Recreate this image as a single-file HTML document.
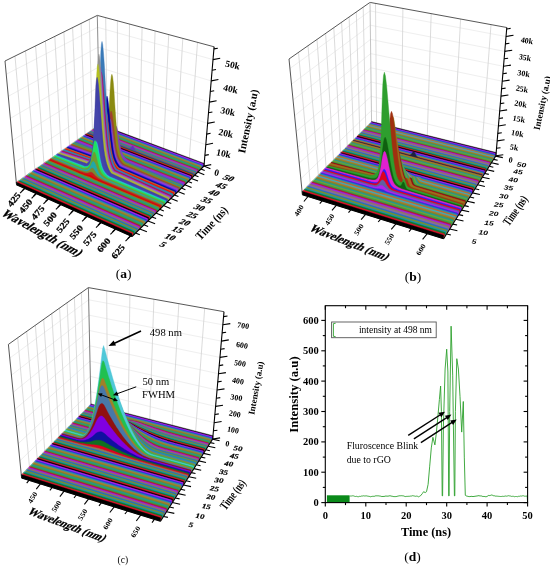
<!DOCTYPE html>
<html><head><meta charset="utf-8"><title>Figure</title>
<style>html,body{margin:0;padding:0;background:#fff}svg{display:block}text{font-family:"Liberation Serif",serif}</style>
</head><body>
<svg width="550" height="570" viewBox="0 0 550 570">
<rect width="550" height="570" fill="#fff"/>
<polyline points="14.4,162.6 99.3,106.8 205.8,144.7" fill="none" stroke="#efefef" stroke-width="1"/>
<polyline points="12.4,140.5 98.8,86.9 207.6,123.4" fill="none" stroke="#efefef" stroke-width="1"/>
<polyline points="10.3,118.4 98.4,67.1 209.4,102.1" fill="none" stroke="#efefef" stroke-width="1"/>
<polyline points="8.3,96.3 98.0,47.2 211.2,80.9" fill="none" stroke="#efefef" stroke-width="1"/>
<polyline points="6.2,74.3 97.6,27.3 213.0,59.6" fill="none" stroke="#efefef" stroke-width="1"/>
<line x1="25.5" y1="178.4" x2="15.0" y2="56.1" stroke="#d2d2d2" stroke-width="0.8" />
<line x1="35.0" y1="171.8" x2="25.5" y2="50.9" stroke="#d2d2d2" stroke-width="0.8" />
<line x1="44.1" y1="165.5" x2="35.6" y2="45.9" stroke="#d2d2d2" stroke-width="0.8" />
<line x1="52.9" y1="159.3" x2="45.4" y2="41.0" stroke="#d2d2d2" stroke-width="0.8" />
<line x1="61.4" y1="153.4" x2="54.8" y2="36.4" stroke="#d2d2d2" stroke-width="0.8" />
<line x1="69.6" y1="147.7" x2="63.9" y2="31.9" stroke="#d2d2d2" stroke-width="0.8" />
<line x1="77.5" y1="142.2" x2="72.6" y2="27.6" stroke="#d2d2d2" stroke-width="0.8" />
<line x1="85.1" y1="136.9" x2="81.1" y2="23.4" stroke="#d2d2d2" stroke-width="0.8" />
<line x1="92.5" y1="131.7" x2="89.3" y2="19.4" stroke="#d2d2d2" stroke-width="0.8" />
<line x1="107.2" y1="129.5" x2="105.7" y2="17.7" stroke="#d2d2d2" stroke-width="0.8" />
<line x1="117.6" y1="133.5" x2="117.4" y2="20.8" stroke="#d2d2d2" stroke-width="0.8" />
<line x1="128.4" y1="137.5" x2="129.5" y2="24.1" stroke="#d2d2d2" stroke-width="0.8" />
<line x1="139.7" y1="141.8" x2="142.1" y2="27.4" stroke="#d2d2d2" stroke-width="0.8" />
<line x1="151.3" y1="146.2" x2="155.1" y2="30.9" stroke="#d2d2d2" stroke-width="0.8" />
<line x1="163.5" y1="150.7" x2="168.7" y2="34.6" stroke="#d2d2d2" stroke-width="0.8" />
<line x1="176.1" y1="155.5" x2="182.8" y2="38.4" stroke="#d2d2d2" stroke-width="0.8" />
<line x1="189.2" y1="160.4" x2="197.5" y2="42.3" stroke="#d2d2d2" stroke-width="0.8" />
<polyline points="16.5,184.7 5.0,61.0 97.3,15.4 214.1,46.8" fill="none" stroke="#444" stroke-width="0.9"/>
<line x1="99.7" y1="126.7" x2="97.3" y2="15.4" stroke="#808080" stroke-width="0.9" />
<polygon points="99.7,126.7 99.6,124.3 204.2,163.4 204.0,166.0" fill="#000000" stroke="#000000" stroke-width="0.4" stroke-linejoin="round"/>
<polygon points="98.8,127.3 98.8,124.9 203.5,164.1 203.2,166.7" fill="#b020f0" stroke="#b020f0" stroke-width="0.4" stroke-linejoin="round"/>
<polygon points="98.0,127.9 97.9,125.5 202.7,164.9 202.5,167.5" fill="#3030d8" stroke="#3030d8" stroke-width="0.4" stroke-linejoin="round"/>
<polygon points="97.1,128.5 97.0,126.1 201.9,165.6 201.7,168.2" fill="#2898a0" stroke="#2898a0" stroke-width="0.4" stroke-linejoin="round"/>
<polygon points="96.2,129.1 96.1,126.7 201.2,166.3 201.0,169.0" fill="#b07830" stroke="#b07830" stroke-width="0.4" stroke-linejoin="round"/>
<polygon points="95.3,129.8 95.2,127.3 200.4,167.1 200.2,169.7" fill="#788828" stroke="#788828" stroke-width="0.4" stroke-linejoin="round"/>
<polygon points="94.4,130.4 94.4,127.9 199.6,167.8 199.4,170.5" fill="#1c9898" stroke="#1c9898" stroke-width="0.4" stroke-linejoin="round"/>
<polygon points="93.5,131.0 93.5,128.5 198.9,168.6 198.7,171.2" fill="#38a040" stroke="#38a040" stroke-width="0.4" stroke-linejoin="round"/>
<polygon points="92.6,131.6 92.6,129.2 198.1,169.4 197.9,172.0" fill="#b01838" stroke="#b01838" stroke-width="0.4" stroke-linejoin="round"/>
<polygon points="91.7,132.3 91.7,129.8 197.3,170.1 197.1,172.8" fill="#a020e0" stroke="#a020e0" stroke-width="0.4" stroke-linejoin="round"/>
<polygon points="90.8,132.9 90.8,130.4 196.5,170.9 196.3,173.5" fill="#8f7c58" stroke="#8f7c58" stroke-width="0.4" stroke-linejoin="round"/>
<polygon points="89.9,133.5 89.8,131.0 195.7,171.6 195.5,174.3" fill="#2070c0" stroke="#2070c0" stroke-width="0.4" stroke-linejoin="round"/>
<polygon points="89.0,134.2 88.9,131.7 194.9,172.4 194.7,175.1" fill="#7f9026" stroke="#7f9026" stroke-width="0.4" stroke-linejoin="round"/>
<polygon points="88.1,134.8 88.0,132.3 126.5,147.1 126.8,147.3 127.1,147.4 127.5,147.5 127.8,147.6 128.1,147.7 128.4,147.8 128.7,148.0 129.0,148.1 129.3,148.1 129.6,148.2 129.9,148.2 130.2,148.1 130.5,147.9 130.9,147.7 131.2,147.3 131.5,146.9 131.8,146.5 132.1,146.2 132.5,146.0 132.8,146.0 133.1,146.3 133.4,146.7 133.7,147.3 134.0,147.9 134.3,148.5 134.6,149.1 134.9,149.6 135.2,150.0 135.5,150.3 135.9,150.6 136.2,150.8 136.5,150.9 136.8,151.1 137.1,151.2 137.4,151.3 137.8,151.5 138.1,151.6 138.4,151.7 138.7,151.8 139.0,152.0 194.2,173.2 194.0,175.8" fill="#6030c0" stroke="#6030c0" stroke-width="0.4" stroke-linejoin="round"/>
<polygon points="87.2,135.4 87.1,132.9 193.4,174.0 193.2,176.6" fill="#0a7a2a" stroke="#0a7a2a" stroke-width="0.4" stroke-linejoin="round"/>
<polygon points="86.3,136.1 86.2,133.6 192.6,174.7 192.4,177.4" fill="#e8102a" stroke="#e8102a" stroke-width="0.4" stroke-linejoin="round"/>
<polygon points="85.3,136.7 85.2,134.2 191.7,175.5 191.6,178.2" fill="#000000" stroke="#000000" stroke-width="0.4" stroke-linejoin="round"/>
<polygon points="84.4,137.4 84.3,134.9 190.9,176.3 190.8,179.0" fill="#b020f0" stroke="#b020f0" stroke-width="0.4" stroke-linejoin="round"/>
<polygon points="83.5,138.0 83.4,135.5 190.1,177.1 189.9,179.8" fill="#3030d8" stroke="#3030d8" stroke-width="0.4" stroke-linejoin="round"/>
<polygon points="82.5,138.7 82.4,136.2 189.3,177.9 189.1,180.6" fill="#2898a0" stroke="#2898a0" stroke-width="0.4" stroke-linejoin="round"/>
<polygon points="81.6,139.3 81.5,136.8 188.5,178.7 188.3,181.4" fill="#b07830" stroke="#b07830" stroke-width="0.4" stroke-linejoin="round"/>
<polygon points="80.6,140.0 80.5,137.5 187.7,179.5 187.5,182.2" fill="#788828" stroke="#788828" stroke-width="0.4" stroke-linejoin="round"/>
<polygon points="79.7,140.7 79.6,138.1 186.8,180.3 186.7,183.0" fill="#1c9898" stroke="#1c9898" stroke-width="0.4" stroke-linejoin="round"/>
<polygon points="78.7,141.3 78.6,138.8 107.2,150.1 107.8,150.3 108.4,150.5 109.0,150.7 109.6,150.9 110.1,151.1 110.7,151.3 111.3,151.6 111.9,151.8 112.5,152.0 113.0,152.1 113.6,152.3 114.2,152.5 114.8,152.6 115.4,152.7 116.0,152.8 116.6,152.9 117.2,153.0 117.8,153.2 118.3,153.3 118.9,153.5 119.5,153.8 120.1,154.1 120.7,154.4 121.3,154.8 121.9,155.2 122.5,155.6 123.1,155.9 123.8,156.2 124.4,156.5 125.0,156.8 125.6,157.1 126.2,157.4 126.8,157.7 127.4,157.9 128.0,158.2 128.6,158.4 129.2,158.7 129.9,158.9 130.5,159.2 131.1,159.5 186.0,181.1 185.8,183.8" fill="#38a040" stroke="#38a040" stroke-width="0.4" stroke-linejoin="round"/>
<polygon points="77.8,142.0 77.7,139.5 106.3,150.7 106.9,150.9 107.5,151.1 108.0,151.3 108.6,151.5 109.2,151.7 109.8,151.9 110.4,152.0 110.9,152.2 111.5,152.3 112.1,152.4 112.7,152.5 113.3,152.5 113.9,152.5 114.5,152.4 115.1,152.2 115.6,152.0 116.2,151.9 116.8,151.7 117.4,151.7 118.0,151.9 118.6,152.2 119.2,152.7 119.8,153.3 120.4,153.9 121.0,154.6 121.6,155.2 122.2,155.8 122.8,156.3 123.4,156.7 124.1,157.1 124.7,157.5 125.3,157.8 125.9,158.1 126.5,158.5 127.1,158.7 127.7,159.0 128.3,159.3 129.0,159.6 129.6,159.9 130.2,160.1 185.2,181.9 185.0,184.6" fill="#b01838" stroke="#b01838" stroke-width="0.4" stroke-linejoin="round"/>
<polygon points="76.8,142.7 76.7,140.1 105.4,151.3 106.0,151.4 106.5,151.6 107.1,151.7 107.7,151.9 108.3,152.0 108.9,152.1 109.4,152.1 110.0,152.2 110.6,152.1 111.2,152.0 111.8,151.8 112.4,151.5 112.9,151.0 113.5,150.4 114.1,149.6 114.7,148.7 115.3,147.8 115.9,147.1 116.5,146.8 117.1,146.8 117.7,147.2 118.3,148.1 118.9,149.2 119.5,150.6 120.1,151.9 120.7,153.2 121.3,154.3 121.9,155.3 122.5,156.1 123.2,156.8 123.8,157.3 124.4,157.8 125.0,158.3 125.6,158.7 126.2,159.1 126.8,159.4 127.4,159.8 128.1,160.1 128.7,160.4 129.3,160.7 184.4,182.7 184.2,185.4" fill="#a020e0" stroke="#a020e0" stroke-width="0.4" stroke-linejoin="round"/>
<polygon points="75.8,143.3 75.7,140.8 104.4,151.5 105.0,151.5 105.6,151.5 106.2,151.5 106.7,151.4 107.3,151.2 107.9,150.9 108.5,150.6 109.1,150.2 109.6,149.6 110.2,148.7 110.8,147.6 111.4,146.0 112.0,143.8 112.5,141.1 113.1,138.0 113.7,134.5 114.3,131.2 114.9,128.3 115.5,126.5 116.1,126.0 116.7,127.0 117.4,129.3 118.0,132.5 118.6,136.4 119.2,140.3 119.8,143.9 120.4,147.1 121.0,149.7 121.6,151.8 122.3,153.4 122.9,154.7 123.5,155.8 124.1,156.7 124.7,157.6 125.3,158.3 125.9,158.9 126.5,159.5 127.2,160.1 127.8,160.5 128.4,161.0 183.5,183.6 183.3,186.2" fill="#8040c0" stroke="#8040c0" stroke-width="0.4" stroke-linejoin="round"/>
<polygon points="74.9,144.0 74.7,141.5 103.5,152.7 104.1,152.8 104.7,152.9 105.2,153.1 105.8,153.2 106.4,153.2 107.0,153.3 107.6,153.3 108.1,153.3 108.7,153.2 109.3,153.0 109.9,152.7 110.5,152.3 111.1,151.6 111.7,150.7 112.2,149.7 112.8,148.5 113.4,147.4 114.0,146.4 114.6,145.9 115.2,145.9 115.8,146.4 116.4,147.4 117.0,148.8 117.7,150.4 118.3,152.0 118.9,153.6 119.5,154.9 120.1,156.1 120.7,157.0 121.3,157.8 121.9,158.4 122.5,159.0 123.2,159.5 123.8,160.0 124.4,160.4 125.0,160.8 125.6,161.2 126.2,161.5 126.9,161.8 127.5,162.2 182.7,184.4 182.5,187.0" fill="#2070c0" stroke="#2070c0" stroke-width="0.4" stroke-linejoin="round"/>
<polygon points="73.9,144.7 73.8,142.2 102.6,153.2 103.1,153.4 103.7,153.4 104.3,153.5 104.9,153.5 105.5,153.5 106.0,153.5 106.6,153.4 107.2,153.3 107.8,153.0 108.4,152.7 108.9,152.1 109.5,151.3 110.1,150.2 110.7,148.7 111.3,147.0 111.9,145.1 112.5,143.3 113.1,141.8 113.6,140.9 114.3,140.7 114.9,141.4 115.5,142.8 116.1,144.7 116.7,147.0 117.3,149.4 118.0,151.6 118.6,153.5 119.2,155.1 119.8,156.4 120.4,157.4 121.0,158.3 121.6,159.0 122.2,159.6 122.9,160.2 123.5,160.7 124.1,161.2 124.7,161.6 125.3,162.0 125.9,162.4 126.6,162.8 181.8,185.2 181.7,187.9" fill="#7f9026" stroke="#7f9026" stroke-width="0.4" stroke-linejoin="round"/>
<polygon points="72.9,145.4 72.8,142.8 101.6,153.6 102.2,153.6 102.8,153.5 103.3,153.4 103.9,153.3 104.5,153.0 105.1,152.7 105.6,152.3 106.2,151.8 106.8,151.1 107.4,150.1 108.0,148.7 108.5,146.8 109.1,144.4 109.7,141.2 110.2,137.6 110.8,133.6 111.4,129.8 112.0,126.5 112.6,124.4 113.2,123.8 113.8,124.8 114.5,127.4 115.1,131.1 115.7,135.5 116.4,140.0 117.0,144.1 117.6,147.6 118.2,150.6 118.9,153.0 119.5,154.8 120.1,156.3 120.7,157.5 121.3,158.5 121.9,159.4 122.5,160.2 123.2,160.9 123.8,161.5 124.4,162.1 125.0,162.7 125.7,163.1 181.0,186.0 180.8,188.7" fill="#1890a8" stroke="#1890a8" stroke-width="0.4" stroke-linejoin="round"/>
<polygon points="71.9,146.1 71.8,143.5 100.6,153.2 101.2,152.8 101.8,152.4 102.3,151.8 102.9,151.1 103.5,150.2 104.1,149.1 104.6,147.8 105.2,146.2 105.8,144.1 106.3,141.4 106.9,137.8 107.4,132.9 108.0,126.6 108.5,118.7 109.0,109.5 109.6,99.5 110.1,89.9 110.7,81.6 111.3,76.1 111.9,74.3 112.6,76.6 113.3,82.4 114.0,91.0 114.6,101.3 115.3,111.8 116.0,121.4 116.6,129.7 117.3,136.6 117.9,141.9 118.5,146.1 119.2,149.3 119.8,151.9 120.4,154.0 121.0,155.8 121.6,157.4 122.3,158.8 122.9,159.9 123.5,161.0 124.1,161.9 124.7,162.8 180.1,186.9 180.0,189.5" fill="#8a8a10" stroke="#8a8a10" stroke-width="0.4" stroke-linejoin="round"/>
<polygon points="70.9,146.8 70.8,144.2 99.7,154.7 100.3,154.6 100.8,154.4 101.4,154.2 102.0,153.9 102.6,153.5 103.1,153.0 103.7,152.3 104.3,151.5 104.9,150.4 105.4,148.9 106.0,146.9 106.6,144.1 107.1,140.6 107.7,136.1 108.2,130.9 108.8,125.2 109.4,119.7 109.9,115.0 110.5,112.0 111.2,111.0 111.8,112.4 112.5,115.9 113.1,121.0 113.8,127.1 114.4,133.3 115.1,138.9 115.7,143.8 116.3,147.9 117.0,151.1 117.6,153.6 118.2,155.6 118.8,157.2 119.4,158.5 120.1,159.7 120.7,160.7 121.3,161.6 121.9,162.4 122.6,163.1 123.2,163.8 123.8,164.3 179.3,187.7 179.1,190.4" fill="#a04030" stroke="#a04030" stroke-width="0.4" stroke-linejoin="round"/>
<polygon points="69.9,147.4 69.8,144.9 98.7,155.6 99.3,155.5 99.9,155.4 100.5,155.3 101.0,155.0 101.6,154.7 102.2,154.3 102.8,153.8 103.4,153.1 103.9,152.2 104.5,150.9 105.1,149.2 105.6,146.9 106.2,143.9 106.8,140.1 107.3,135.7 107.9,130.8 108.4,126.2 109.0,122.2 109.6,119.6 110.2,118.8 110.9,120.1 111.5,123.1 112.2,127.5 112.8,132.7 113.5,138.1 114.1,143.0 114.8,147.2 115.4,150.8 116.0,153.5 116.6,155.7 117.3,157.4 117.9,158.8 118.5,160.0 119.1,161.0 119.8,161.9 120.4,162.8 121.0,163.5 121.6,164.1 122.2,164.7 122.9,165.3 178.4,188.5 178.2,191.2" fill="#7060a0" stroke="#7060a0" stroke-width="0.4" stroke-linejoin="round"/>
<polygon points="68.9,148.1 68.8,145.6 97.8,156.3 98.3,156.3 98.9,156.2 99.5,156.0 100.1,155.8 100.7,155.4 101.2,155.0 101.8,154.5 102.4,153.8 103.0,152.9 103.5,151.7 104.1,150.0 104.7,147.7 105.2,144.7 105.8,140.8 106.3,136.4 106.9,131.5 107.4,126.9 108.0,122.9 108.6,120.3 109.2,119.5 109.9,120.8 110.5,123.8 111.2,128.2 111.9,133.4 112.5,138.8 113.2,143.7 113.8,147.9 114.4,151.5 115.1,154.3 115.7,156.5 116.3,158.2 116.9,159.6 117.6,160.8 118.2,161.8 118.8,162.7 119.4,163.5 120.1,164.2 120.7,164.9 121.3,165.5 121.9,166.0 177.5,189.4 177.4,192.1" fill="#b020f0" stroke="#b020f0" stroke-width="0.4" stroke-linejoin="round"/>
<polygon points="67.9,148.8 67.8,146.3 96.8,156.9 97.4,156.8 98.0,156.6 98.5,156.4 99.1,156.1 99.7,155.7 100.3,155.2 100.8,154.5 101.4,153.6 102.0,152.6 102.5,151.1 103.1,149.1 103.7,146.3 104.2,142.8 104.8,138.3 105.3,133.1 105.8,127.3 106.4,121.8 107.0,117.1 107.6,114.1 108.2,113.1 108.8,114.5 109.5,118.1 110.2,123.1 110.8,129.2 111.5,135.4 112.2,141.1 112.8,146.1 113.5,150.2 114.1,153.4 114.7,155.9 115.4,157.8 116.0,159.5 116.6,160.8 117.2,162.0 117.9,163.0 118.5,163.9 119.1,164.7 119.7,165.4 120.4,166.0 121.0,166.6 176.7,190.2 176.5,192.9" fill="#3030d8" stroke="#3030d8" stroke-width="0.4" stroke-linejoin="round"/>
<polygon points="66.9,149.5 66.8,147.0 95.8,157.2 96.4,157.0 97.0,156.7 97.5,156.3 98.1,155.8 98.7,155.2 99.3,154.4 99.8,153.4 100.4,152.2 101.0,150.6 101.5,148.5 102.1,145.7 102.6,141.9 103.1,137.0 103.7,130.8 104.2,123.6 104.7,115.7 105.2,108.2 105.8,101.7 106.4,97.5 107.0,96.1 107.7,97.9 108.3,102.6 109.0,109.4 109.7,117.6 110.5,125.9 111.1,133.6 111.8,140.2 112.5,145.7 113.1,149.9 113.8,153.3 114.4,155.9 115.0,158.0 115.7,159.7 116.3,161.2 116.9,162.5 117.5,163.6 118.2,164.6 118.8,165.5 119.4,166.3 120.1,167.0 175.8,191.1 175.6,193.8" fill="#0000a0" stroke="#0000a0" stroke-width="0.4" stroke-linejoin="round"/>
<polygon points="65.9,150.2 65.8,147.7 94.8,158.3 95.4,158.2 96.0,158.0 96.6,157.7 97.1,157.4 97.7,156.9 98.3,156.3 98.9,155.6 99.4,154.7 100.0,153.5 100.6,151.9 101.1,149.7 101.7,146.8 102.2,142.9 102.8,138.1 103.3,132.5 103.8,126.3 104.4,120.4 104.9,115.3 105.5,112.0 106.1,111.0 106.8,112.5 107.5,116.2 108.1,121.7 108.8,128.2 109.5,134.8 110.2,140.9 110.9,146.2 111.5,150.6 112.2,154.0 112.8,156.7 113.4,158.8 114.1,160.5 114.7,161.9 115.3,163.2 116.0,164.2 116.6,165.2 117.2,166.0 117.8,166.8 118.5,167.5 119.1,168.1 174.9,191.9 174.8,194.6" fill="#b07830" stroke="#b07830" stroke-width="0.4" stroke-linejoin="round"/>
<polygon points="64.9,151.0 64.8,148.4 93.9,158.9 94.4,158.7 95.0,158.5 95.6,158.2 96.2,157.8 96.7,157.2 97.3,156.6 97.9,155.7 98.5,154.7 99.0,153.3 99.6,151.5 100.1,149.1 100.7,145.8 101.2,141.5 101.7,136.1 102.2,129.8 102.8,122.9 103.3,116.3 103.8,110.6 104.4,106.9 105.0,105.8 105.7,107.4 106.4,111.6 107.1,117.6 107.8,124.8 108.5,132.2 109.2,138.9 109.9,144.8 110.5,149.6 111.2,153.4 111.8,156.4 112.5,158.7 113.1,160.5 113.7,162.1 114.4,163.4 115.0,164.6 115.6,165.6 116.3,166.5 116.9,167.4 117.5,168.1 118.2,168.7 174.0,192.8 173.9,195.5" fill="#ff0000" stroke="#ff0000" stroke-width="0.4" stroke-linejoin="round"/>
<polygon points="63.9,151.7 63.7,149.1 92.9,159.8 93.4,159.7 94.0,159.5 94.6,159.2 95.2,158.9 95.8,158.4 96.3,157.8 96.9,157.1 97.5,156.2 98.0,155.0 98.6,153.4 99.2,151.2 99.7,148.2 100.2,144.4 100.8,139.5 101.3,133.9 101.8,127.7 102.3,121.8 102.9,116.7 103.5,113.4 104.1,112.4 104.8,113.9 105.4,117.7 106.1,123.1 106.8,129.6 107.5,136.3 108.2,142.4 108.9,147.7 109.6,152.1 110.2,155.5 110.9,158.3 111.5,160.3 112.1,162.1 112.8,163.5 113.4,164.7 114.0,165.8 114.7,166.8 115.3,167.6 115.9,168.4 116.6,169.0 117.2,169.7 173.1,193.7 173.0,196.3" fill="#1c9898" stroke="#1c9898" stroke-width="0.4" stroke-linejoin="round"/>
<polygon points="62.9,152.4 62.7,149.8 91.8,158.9 92.4,158.3 93.0,157.6 93.5,156.7 94.1,155.5 94.7,154.1 95.2,152.4 95.7,150.4 96.3,147.9 96.8,144.8 97.3,140.7 97.8,135.3 98.3,128.0 98.7,118.7 99.2,107.0 99.6,93.5 99.9,78.7 100.4,64.5 100.8,52.2 101.4,44.2 102.0,41.4 102.7,44.6 103.5,53.1 104.4,65.6 105.2,80.5 106.1,95.8 106.9,109.8 107.6,121.8 108.4,131.8 109.1,139.5 109.8,145.5 110.4,150.1 111.1,153.8 111.8,156.7 112.4,159.3 113.0,161.5 113.7,163.4 114.3,165.0 115.0,166.5 115.6,167.7 116.2,168.8 172.3,194.5 172.1,197.2" fill="#3a7ab8" stroke="#3a7ab8" stroke-width="0.4" stroke-linejoin="round"/>
<polygon points="61.8,153.1 61.7,150.5 90.9,160.3 91.4,160.0 92.0,159.5 92.6,158.8 93.1,158.0 93.7,157.0 94.3,155.8 94.8,154.3 95.4,152.4 95.9,150.1 96.5,147.0 97.0,143.0 97.5,137.5 97.9,130.5 98.4,121.7 98.8,111.5 99.3,100.3 99.7,89.5 100.2,80.3 100.8,74.2 101.4,72.2 102.1,74.7 102.8,81.2 103.6,90.7 104.4,102.1 105.2,113.8 106.0,124.5 106.7,133.8 107.5,141.4 108.2,147.3 108.8,151.9 109.5,155.5 110.2,158.3 110.8,160.7 111.4,162.7 112.1,164.4 112.7,165.9 113.4,167.2 114.0,168.4 114.6,169.4 115.3,170.3 171.4,195.4 171.2,198.1" fill="#b01838" stroke="#b01838" stroke-width="0.4" stroke-linejoin="round"/>
<polygon points="60.8,153.8 60.6,151.2 89.9,161.0 90.4,160.6 91.0,160.0 91.6,159.3 92.1,158.4 92.7,157.3 93.2,156.0 93.8,154.4 94.4,152.4 94.9,150.0 95.4,146.7 95.9,142.4 96.4,136.5 96.9,129.1 97.3,119.6 97.7,108.8 98.1,96.8 98.6,85.4 99.0,75.5 99.6,69.1 100.2,66.9 100.9,69.5 101.7,76.4 102.5,86.6 103.3,98.7 104.2,111.1 104.9,122.5 105.7,132.3 106.4,140.4 107.1,146.7 107.8,151.6 108.5,155.3 109.2,158.4 109.8,160.8 110.5,162.9 111.1,164.7 111.7,166.3 112.4,167.7 113.0,169.0 113.7,170.0 114.3,170.9 170.5,196.3 170.3,199.0" fill="#a020e0" stroke="#a020e0" stroke-width="0.4" stroke-linejoin="round"/>
<polygon points="59.8,154.5 59.6,152.0 88.8,161.4 89.4,160.9 90.0,160.3 90.5,159.4 91.1,158.4 91.7,157.1 92.2,155.6 92.8,153.8 93.3,151.5 93.8,148.7 94.3,144.9 94.8,140.0 95.3,133.3 95.7,124.8 96.1,114.1 96.5,101.7 96.9,88.2 97.3,75.2 97.7,63.9 98.3,56.6 98.9,54.1 99.6,57.0 100.4,64.8 101.3,76.3 102.1,90.0 103.0,104.1 103.8,116.9 104.6,128.0 105.4,137.2 106.1,144.3 106.8,149.8 107.5,154.0 108.2,157.4 108.8,160.2 109.5,162.6 110.1,164.6 110.8,166.4 111.4,167.9 112.0,169.2 112.7,170.4 113.3,171.4 169.6,197.1 169.4,199.8" fill="#909090" stroke="#909090" stroke-width="0.4" stroke-linejoin="round"/>
<polygon points="58.7,155.3 58.6,152.7 87.8,162.4 88.4,162.0 89.0,161.4 89.5,160.6 90.1,159.7 90.7,158.5 91.2,157.2 91.8,155.5 92.3,153.4 92.8,150.9 93.4,147.4 93.9,142.9 94.3,136.8 94.8,129.1 95.2,119.2 95.6,107.9 95.9,95.4 96.3,83.5 96.8,73.2 97.3,66.5 98.0,64.2 98.7,66.9 99.5,74.1 100.3,84.7 101.2,97.3 102.0,110.2 102.9,122.1 103.6,132.3 104.4,140.7 105.1,147.2 105.8,152.4 106.5,156.3 107.2,159.4 107.8,162.0 108.5,164.2 109.1,166.0 109.8,167.7 110.4,169.1 111.1,170.4 111.7,171.5 112.3,172.4 168.7,198.0 168.5,200.7" fill="#b4c020" stroke="#b4c020" stroke-width="0.4" stroke-linejoin="round"/>
<polygon points="57.7,156.0 57.5,153.4 86.8,163.4 87.4,163.1 88.0,162.6 88.5,162.0 89.1,161.2 89.7,160.2 90.2,159.0 90.8,157.6 91.3,155.8 91.9,153.5 92.4,150.5 92.9,146.6 93.4,141.2 93.8,134.4 94.3,125.7 94.7,115.7 95.1,104.7 95.5,94.2 95.9,85.2 96.5,79.3 97.1,77.3 97.8,79.7 98.6,86.1 99.4,95.5 100.3,106.6 101.1,118.1 101.9,128.6 102.7,137.6 103.4,145.1 104.1,150.9 104.8,155.5 105.5,158.9 106.2,161.8 106.8,164.0 107.5,166.0 108.1,167.7 108.8,169.2 109.4,170.5 110.1,171.7 110.7,172.6 111.4,173.5 167.7,198.9 167.6,201.6" fill="#4040a8" stroke="#4040a8" stroke-width="0.4" stroke-linejoin="round"/>
<polygon points="56.6,156.7 56.5,154.1 85.8,164.8 86.4,164.7 87.0,164.4 87.6,164.0 88.1,163.5 88.7,162.9 89.3,162.1 89.8,161.2 90.4,160.0 91.0,158.5 91.5,156.4 92.0,153.7 92.6,150.0 93.0,145.3 93.5,139.2 94.0,132.2 94.4,124.6 94.9,117.2 95.4,110.9 95.9,106.8 96.6,105.5 97.3,107.3 98.0,111.9 98.7,118.5 99.5,126.5 100.3,134.7 101.1,142.2 101.8,148.6 102.5,154.0 103.2,158.2 103.9,161.4 104.6,164.0 105.2,166.0 105.9,167.7 106.5,169.2 107.2,170.5 107.8,171.6 108.4,172.6 109.1,173.5 109.7,174.3 110.4,175.0 166.8,199.8 166.7,202.5" fill="#4444aa" stroke="#4444aa" stroke-width="0.4" stroke-linejoin="round"/>
<polygon points="55.6,157.5 55.4,154.9 84.8,166.4 85.4,166.5 86.0,166.5 86.6,166.4 87.2,166.3 87.8,166.2 88.3,165.9 88.9,165.6 89.5,165.2 90.1,164.7 90.7,163.8 91.2,162.7 91.8,161.1 92.3,159.1 92.9,156.4 93.4,153.3 94.0,149.9 94.5,146.6 95.0,143.8 95.6,142.0 96.2,141.5 96.9,142.5 97.6,144.8 98.3,148.0 99.0,151.9 99.7,155.8 100.3,159.4 101.0,162.5 101.7,165.2 102.3,167.2 103.0,168.9 103.6,170.2 104.3,171.3 104.9,172.2 105.6,173.1 106.2,173.8 106.8,174.4 107.5,175.0 108.1,175.6 108.7,176.1 109.4,176.6 165.9,200.7 165.8,203.4" fill="#20c8d0" stroke="#20c8d0" stroke-width="0.4" stroke-linejoin="round"/>
<polygon points="54.5,158.2 54.3,155.6 83.8,167.1 84.4,167.2 85.0,167.2 85.6,167.1 86.1,167.0 86.7,166.8 87.3,166.6 87.9,166.3 88.5,165.8 89.1,165.2 89.6,164.3 90.2,163.1 90.8,161.4 91.3,159.2 91.8,156.4 92.4,153.1 92.9,149.5 93.4,146.0 94.0,143.0 94.5,141.1 95.2,140.6 95.8,141.6 96.5,144.0 97.2,147.4 97.9,151.5 98.6,155.6 99.3,159.4 100.0,162.7 100.7,165.5 101.3,167.6 102.0,169.4 102.6,170.7 103.3,171.9 103.9,172.9 104.6,173.7 105.2,174.5 105.8,175.2 106.5,175.8 107.1,176.4 107.8,176.9 108.4,177.4 165.0,201.6 164.9,204.3" fill="#20e060" stroke="#20e060" stroke-width="0.4" stroke-linejoin="round"/>
<polygon points="53.4,159.0 53.3,156.4 82.8,168.2 83.4,168.3 84.0,168.4 84.5,168.4 85.1,168.4 85.7,168.4 86.3,168.3 86.9,168.1 87.5,167.9 88.1,167.6 88.7,167.1 89.2,166.4 89.8,165.3 90.4,163.9 90.9,162.1 91.5,160.0 92.0,157.7 92.6,155.4 93.2,153.5 93.7,152.3 94.4,152.1 95.0,152.8 95.7,154.5 96.3,156.9 97.0,159.7 97.7,162.5 98.4,165.2 99.0,167.5 99.7,169.4 100.4,170.9 101.0,172.2 101.6,173.2 102.3,174.1 102.9,174.8 103.6,175.4 104.2,176.0 104.8,176.6 105.5,177.1 106.1,177.6 106.8,178.0 107.4,178.4 164.1,202.5 164.0,205.2" fill="#709a30" stroke="#709a30" stroke-width="0.4" stroke-linejoin="round"/>
<polygon points="52.4,159.7 52.2,157.1 81.8,169.1 82.3,169.3 82.9,169.5 83.5,169.6 84.1,169.7 84.7,169.8 85.3,169.8 85.9,169.8 86.5,169.8 87.1,169.7 87.7,169.5 88.3,169.1 88.8,168.6 89.4,167.9 90.0,166.9 90.6,165.7 91.2,164.4 91.7,163.1 92.3,162.1 92.9,161.4 93.5,161.4 94.2,162.0 94.8,163.1 95.5,164.6 96.1,166.4 96.8,168.2 97.4,169.9 98.1,171.4 98.7,172.7 99.4,173.7 100.0,174.6 100.7,175.3 101.3,176.0 101.9,176.5 102.6,177.0 103.2,177.5 103.8,177.9 104.5,178.3 105.1,178.7 105.8,179.1 106.4,179.4 163.1,203.4 163.0,206.1" fill="#20a8a8" stroke="#20a8a8" stroke-width="0.4" stroke-linejoin="round"/>
<polygon points="51.3,160.5 51.1,157.8 80.7,170.1 81.3,170.3 81.9,170.5 82.5,170.6 83.1,170.8 83.7,171.0 84.3,171.1 84.9,171.2 85.5,171.3 86.1,171.4 86.7,171.4 87.3,171.3 87.9,171.1 88.5,170.8 89.0,170.4 89.6,169.9 90.2,169.3 90.8,168.7 91.4,168.2 92.0,168.0 92.6,168.1 93.3,168.5 93.9,169.2 94.5,170.2 95.2,171.3 95.8,172.4 96.5,173.5 97.1,174.4 97.7,175.3 98.4,175.9 99.0,176.5 99.6,177.0 100.3,177.5 100.9,177.9 101.6,178.3 102.2,178.7 102.8,179.1 103.5,179.4 104.1,179.8 104.7,180.1 105.4,180.4 162.2,204.3 162.1,207.0" fill="#7a8a30" stroke="#7a8a30" stroke-width="0.4" stroke-linejoin="round"/>
<polygon points="50.2,161.2 50.0,158.6 79.7,170.9 80.3,171.2 80.9,171.4 81.5,171.6 82.1,171.8 82.7,172.0 83.3,172.2 83.8,172.4 84.5,172.6 85.0,172.7 85.7,172.9 86.3,173.0 86.9,173.0 87.5,173.0 88.1,172.9 88.7,172.7 89.3,172.6 89.9,172.4 90.5,172.3 91.1,172.3 91.7,172.5 92.3,172.8 92.9,173.3 93.6,173.9 94.2,174.6 94.8,175.3 95.5,176.0 96.1,176.6 96.7,177.1 97.4,177.6 98.0,178.0 98.6,178.4 99.3,178.8 99.9,179.1 100.5,179.5 101.2,179.8 101.8,180.1 102.5,180.4 103.1,180.7 103.7,181.0 104.4,181.3 161.3,205.2 161.2,207.9" fill="#c02020" stroke="#c02020" stroke-width="0.4" stroke-linejoin="round"/>
<polygon points="49.1,162.0 48.9,159.4 78.6,171.8 79.2,172.0 79.8,172.3 80.4,172.5 81.0,172.7 81.6,173.0 82.2,173.2 82.8,173.4 83.4,173.7 84.0,173.9 84.6,174.1 85.2,174.3 85.8,174.4 86.4,174.6 87.0,174.7 87.6,174.8 88.3,174.9 88.9,175.0 89.5,175.1 90.1,175.3 90.7,175.5 91.3,175.8 92.0,176.1 92.6,176.5 93.2,177.0 93.8,177.4 94.5,177.8 95.1,178.2 95.7,178.6 96.4,178.9 97.0,179.3 97.6,179.6 98.3,179.9 98.9,180.2 99.5,180.5 100.2,180.8 100.8,181.1 101.4,181.3 102.1,181.6 102.7,181.9 103.4,182.2 160.3,206.2 160.2,208.9" fill="#e00000" stroke="#e00000" stroke-width="0.4" stroke-linejoin="round"/>
<polygon points="48.0,162.7 47.8,160.1 77.6,172.6 78.2,172.9 78.8,173.1 79.4,173.4 80.0,173.6 80.6,173.9 81.2,174.1 81.8,174.3 82.4,174.6 83.0,174.8 83.6,175.0 84.2,175.3 84.8,175.5 85.4,175.7 86.0,175.9 86.6,176.1 87.2,176.3 87.8,176.5 88.5,176.7 89.1,176.9 89.7,177.1 90.3,177.4 90.9,177.7 91.6,178.0 92.2,178.4 92.8,178.7 93.4,179.0 94.1,179.4 94.7,179.7 95.3,180.0 96.0,180.3 96.6,180.5 97.2,180.8 97.9,181.1 98.5,181.4 99.1,181.7 99.8,181.9 100.4,182.2 101.1,182.5 101.7,182.8 102.3,183.0 159.4,207.1 159.3,209.8" fill="#788828" stroke="#788828" stroke-width="0.4" stroke-linejoin="round"/>
<polygon points="46.9,163.5 46.7,160.9 158.4,208.0 158.3,210.7" fill="#1c9898" stroke="#1c9898" stroke-width="0.4" stroke-linejoin="round"/>
<polygon points="45.8,164.3 45.6,161.6 157.5,208.9 157.4,211.7" fill="#38a040" stroke="#38a040" stroke-width="0.4" stroke-linejoin="round"/>
<polygon points="44.7,165.0 44.5,162.4 156.5,209.9 156.4,212.6" fill="#b01838" stroke="#b01838" stroke-width="0.4" stroke-linejoin="round"/>
<polygon points="43.6,165.8 43.4,163.2 155.5,210.8 155.4,213.5" fill="#a020e0" stroke="#a020e0" stroke-width="0.4" stroke-linejoin="round"/>
<polygon points="42.5,166.6 42.3,164.0 154.6,211.8 154.5,214.5" fill="#8f7c58" stroke="#8f7c58" stroke-width="0.4" stroke-linejoin="round"/>
<polygon points="41.4,167.4 41.2,164.7 153.6,212.7 153.5,215.4" fill="#2070c0" stroke="#2070c0" stroke-width="0.4" stroke-linejoin="round"/>
<polygon points="40.2,168.2 40.0,165.5 152.6,213.7 152.5,216.4" fill="#7f9026" stroke="#7f9026" stroke-width="0.4" stroke-linejoin="round"/>
<polygon points="39.1,168.9 38.9,166.3 151.6,214.6 151.6,217.4" fill="#1890a8" stroke="#1890a8" stroke-width="0.4" stroke-linejoin="round"/>
<polygon points="38.0,169.7 37.8,167.1 150.6,215.6 150.6,218.3" fill="#0a7a2a" stroke="#0a7a2a" stroke-width="0.4" stroke-linejoin="round"/>
<polygon points="36.8,170.5 36.6,167.9 149.6,216.5 149.6,219.3" fill="#e8102a" stroke="#e8102a" stroke-width="0.4" stroke-linejoin="round"/>
<polygon points="35.7,171.3 35.5,168.7 148.7,217.5 148.6,220.3" fill="#000000" stroke="#000000" stroke-width="0.4" stroke-linejoin="round"/>
<polygon points="34.5,172.1 34.3,169.5 147.6,218.5 147.6,221.2" fill="#b020f0" stroke="#b020f0" stroke-width="0.4" stroke-linejoin="round"/>
<polygon points="33.3,173.0 33.1,170.3 146.6,219.5 146.6,222.2" fill="#3030d8" stroke="#3030d8" stroke-width="0.4" stroke-linejoin="round"/>
<polygon points="32.2,173.8 32.0,171.1 145.6,220.5 145.6,223.2" fill="#2898a0" stroke="#2898a0" stroke-width="0.4" stroke-linejoin="round"/>
<polygon points="31.0,174.6 30.8,171.9 144.6,221.5 144.6,224.2" fill="#b07830" stroke="#b07830" stroke-width="0.4" stroke-linejoin="round"/>
<polygon points="29.8,175.4 29.6,172.7 143.6,222.4 143.5,225.2" fill="#788828" stroke="#788828" stroke-width="0.4" stroke-linejoin="round"/>
<polygon points="28.6,176.2 28.4,173.5 142.6,223.4 142.5,226.2" fill="#1c9898" stroke="#1c9898" stroke-width="0.4" stroke-linejoin="round"/>
<polygon points="27.5,177.1 27.2,174.4 141.5,224.5 141.5,227.2" fill="#38a040" stroke="#38a040" stroke-width="0.4" stroke-linejoin="round"/>
<polygon points="26.3,177.9 26.0,175.2 140.5,225.5 140.5,228.2" fill="#b01838" stroke="#b01838" stroke-width="0.4" stroke-linejoin="round"/>
<polygon points="25.1,178.7 24.8,176.0 139.5,226.5 139.4,229.2" fill="#a020e0" stroke="#a020e0" stroke-width="0.4" stroke-linejoin="round"/>
<polygon points="23.9,179.6 23.6,176.9 138.4,227.5 138.4,230.3" fill="#8f7c58" stroke="#8f7c58" stroke-width="0.4" stroke-linejoin="round"/>
<polygon points="22.6,180.4 22.4,177.7 137.4,228.5 137.3,231.3" fill="#2070c0" stroke="#2070c0" stroke-width="0.4" stroke-linejoin="round"/>
<polygon points="21.4,181.3 21.2,178.6 136.3,229.6 136.3,232.3" fill="#7f9026" stroke="#7f9026" stroke-width="0.4" stroke-linejoin="round"/>
<polygon points="20.2,182.1 20.0,179.4 135.2,230.6 135.2,233.4" fill="#1890a8" stroke="#1890a8" stroke-width="0.4" stroke-linejoin="round"/>
<polygon points="19.0,183.0 18.7,180.3 134.2,231.6 134.1,234.4" fill="#0a7a2a" stroke="#0a7a2a" stroke-width="0.4" stroke-linejoin="round"/>
<polygon points="17.7,183.8 17.5,181.1 133.1,232.7 133.1,235.4" fill="#e8102a" stroke="#e8102a" stroke-width="0.4" stroke-linejoin="round"/>
<polygon points="16.5,184.7 16.2,182.0 132.0,233.7 132.0,236.5" fill="#000000" stroke="#000000" stroke-width="0.4" stroke-linejoin="round"/>
<line x1="16.5" y1="184.7" x2="132.0" y2="236.5" stroke="#000" stroke-width="1.1" />
<line x1="24.8" y1="188.4" x2="20.1" y2="193.1" stroke="#000" stroke-width="1.1" />
<line x1="36.3" y1="193.6" x2="31.6" y2="198.3" stroke="#000" stroke-width="1.1" />
<line x1="48.3" y1="199.0" x2="43.5" y2="203.8" stroke="#000" stroke-width="1.1" />
<line x1="60.8" y1="204.6" x2="55.9" y2="209.4" stroke="#000" stroke-width="1.1" />
<line x1="73.7" y1="210.3" x2="68.7" y2="215.3" stroke="#000" stroke-width="1.1" />
<line x1="87.1" y1="216.4" x2="82.1" y2="221.4" stroke="#000" stroke-width="1.1" />
<line x1="101.1" y1="222.6" x2="96.0" y2="227.7" stroke="#000" stroke-width="1.1" />
<line x1="115.6" y1="229.2" x2="110.4" y2="234.3" stroke="#000" stroke-width="1.1" />
<line x1="130.8" y1="235.9" x2="125.5" y2="241.2" stroke="#000" stroke-width="1.1" />
<line x1="24.6" y1="188.3" x2="22.1" y2="190.8" stroke="#000" stroke-width="1.1" />
<line x1="36.1" y1="193.5" x2="33.6" y2="196.0" stroke="#000" stroke-width="1.1" />
<line x1="48.1" y1="198.9" x2="45.5" y2="201.4" stroke="#000" stroke-width="1.1" />
<line x1="60.5" y1="204.4" x2="57.9" y2="207.1" stroke="#000" stroke-width="1.1" />
<line x1="73.4" y1="210.2" x2="70.8" y2="212.9" stroke="#000" stroke-width="1.1" />
<line x1="86.8" y1="216.2" x2="84.1" y2="218.9" stroke="#000" stroke-width="1.1" />
<line x1="100.8" y1="222.5" x2="98.0" y2="225.2" stroke="#000" stroke-width="1.1" />
<line x1="115.3" y1="229.0" x2="112.5" y2="231.8" stroke="#000" stroke-width="1.1" />
<line x1="130.5" y1="235.8" x2="127.6" y2="238.6" stroke="#000" stroke-width="1.1" />
<text transform="translate(13.9 199.6) rotate(-50.0) scale(1.000 0.850)" y="3.5" font-size="10.5" font-weight="bold" font-style="normal" text-anchor="middle" fill="#000" stroke="#000" stroke-width="0.25">425</text>
<text transform="translate(25.6 206.1) rotate(-50.0) scale(1.000 0.850)" y="3.5" font-size="10.5" font-weight="bold" font-style="normal" text-anchor="middle" fill="#000" stroke="#000" stroke-width="0.25">450</text>
<text transform="translate(37.7 212.6) rotate(-50.0) scale(1.000 0.850)" y="3.5" font-size="10.5" font-weight="bold" font-style="normal" text-anchor="middle" fill="#000" stroke="#000" stroke-width="0.25">475</text>
<text transform="translate(50.1 219.1) rotate(-50.0) scale(1.000 0.850)" y="3.5" font-size="10.5" font-weight="bold" font-style="normal" text-anchor="middle" fill="#000" stroke="#000" stroke-width="0.25">500</text>
<text transform="translate(62.9 225.6) rotate(-50.0) scale(1.000 0.850)" y="3.5" font-size="10.5" font-weight="bold" font-style="normal" text-anchor="middle" fill="#000" stroke="#000" stroke-width="0.25">525</text>
<text transform="translate(76.2 232.1) rotate(-50.0) scale(1.000 0.850)" y="3.5" font-size="10.5" font-weight="bold" font-style="normal" text-anchor="middle" fill="#000" stroke="#000" stroke-width="0.25">550</text>
<text transform="translate(89.7 238.6) rotate(-50.0) scale(1.000 0.850)" y="3.5" font-size="10.5" font-weight="bold" font-style="normal" text-anchor="middle" fill="#000" stroke="#000" stroke-width="0.25">575</text>
<text transform="translate(103.7 245.1) rotate(-50.0) scale(1.000 0.850)" y="3.5" font-size="10.5" font-weight="bold" font-style="normal" text-anchor="middle" fill="#000" stroke="#000" stroke-width="0.25">600</text>
<text transform="translate(118.1 251.6) rotate(-50.0) scale(1.000 0.850)" y="3.5" font-size="10.5" font-weight="bold" font-style="normal" text-anchor="middle" fill="#000" stroke="#000" stroke-width="0.25">625</text>
<text transform="translate(42.5 233.0) rotate(28.5) skewX(-25.0) scale(0.960 1.000)" y="4.1" font-size="12.5" font-weight="bold" font-style="normal" text-anchor="middle" fill="#000" stroke="#000" stroke-width="0.25">Wavelength (nm)</text>
<line x1="132.0" y1="236.5" x2="204.0" y2="166.0" stroke="#000" stroke-width="1.1" />
<line x1="139.8" y1="228.9" x2="146.9" y2="231.8" stroke="#000" stroke-width="1.1" />
<line x1="148.0" y1="220.9" x2="155.1" y2="223.7" stroke="#000" stroke-width="1.1" />
<line x1="155.9" y1="213.1" x2="162.9" y2="215.9" stroke="#000" stroke-width="1.1" />
<line x1="163.5" y1="205.6" x2="170.4" y2="208.4" stroke="#000" stroke-width="1.1" />
<line x1="170.9" y1="198.5" x2="177.7" y2="201.2" stroke="#000" stroke-width="1.1" />
<line x1="177.9" y1="191.5" x2="184.7" y2="194.2" stroke="#000" stroke-width="1.1" />
<line x1="184.8" y1="184.8" x2="191.5" y2="187.5" stroke="#000" stroke-width="1.1" />
<line x1="191.4" y1="178.4" x2="198.0" y2="181.0" stroke="#000" stroke-width="1.1" />
<line x1="197.7" y1="172.1" x2="204.3" y2="174.8" stroke="#000" stroke-width="1.1" />
<line x1="203.9" y1="166.1" x2="210.4" y2="168.7" stroke="#000" stroke-width="1.1" />
<line x1="135.5" y1="233.0" x2="139.8" y2="234.7" stroke="#000" stroke-width="1.1" />
<line x1="143.9" y1="224.8" x2="148.1" y2="226.5" stroke="#000" stroke-width="1.1" />
<line x1="152.0" y1="216.9" x2="156.1" y2="218.6" stroke="#000" stroke-width="1.1" />
<line x1="159.7" y1="209.3" x2="163.8" y2="211.0" stroke="#000" stroke-width="1.1" />
<line x1="167.2" y1="202.0" x2="171.3" y2="203.6" stroke="#000" stroke-width="1.1" />
<line x1="174.4" y1="195.0" x2="178.4" y2="196.6" stroke="#000" stroke-width="1.1" />
<line x1="181.4" y1="188.1" x2="185.4" y2="189.7" stroke="#000" stroke-width="1.1" />
<line x1="188.1" y1="181.6" x2="192.0" y2="183.1" stroke="#000" stroke-width="1.1" />
<line x1="194.6" y1="175.2" x2="198.5" y2="176.8" stroke="#000" stroke-width="1.1" />
<line x1="200.9" y1="169.1" x2="204.7" y2="170.6" stroke="#000" stroke-width="1.1" />
<text transform="translate(163.0 244.5) rotate(17.0) skewX(-30.0) scale(0.920 0.720)" y="3.6" font-size="11" font-weight="bold" font-style="normal" text-anchor="middle" fill="#000" stroke="#000" stroke-width="0.25">5</text>
<text transform="translate(170.3 237.1) rotate(17.0) skewX(-30.0) scale(0.920 0.720)" y="3.6" font-size="11" font-weight="bold" font-style="normal" text-anchor="middle" fill="#000" stroke="#000" stroke-width="0.25">10</text>
<text transform="translate(177.6 229.8) rotate(17.0) skewX(-30.0) scale(0.920 0.720)" y="3.6" font-size="11" font-weight="bold" font-style="normal" text-anchor="middle" fill="#000" stroke="#000" stroke-width="0.25">15</text>
<text transform="translate(184.9 222.4) rotate(17.0) skewX(-30.0) scale(0.920 0.720)" y="3.6" font-size="11" font-weight="bold" font-style="normal" text-anchor="middle" fill="#000" stroke="#000" stroke-width="0.25">20</text>
<text transform="translate(192.2 215.1) rotate(17.0) skewX(-30.0) scale(0.920 0.720)" y="3.6" font-size="11" font-weight="bold" font-style="normal" text-anchor="middle" fill="#000" stroke="#000" stroke-width="0.25">25</text>
<text transform="translate(199.5 207.7) rotate(17.0) skewX(-30.0) scale(0.920 0.720)" y="3.6" font-size="11" font-weight="bold" font-style="normal" text-anchor="middle" fill="#000" stroke="#000" stroke-width="0.25">30</text>
<text transform="translate(206.8 200.3) rotate(17.0) skewX(-30.0) scale(0.920 0.720)" y="3.6" font-size="11" font-weight="bold" font-style="normal" text-anchor="middle" fill="#000" stroke="#000" stroke-width="0.25">35</text>
<text transform="translate(214.1 193.0) rotate(17.0) skewX(-30.0) scale(0.920 0.720)" y="3.6" font-size="11" font-weight="bold" font-style="normal" text-anchor="middle" fill="#000" stroke="#000" stroke-width="0.25">40</text>
<text transform="translate(221.4 185.6) rotate(17.0) skewX(-30.0) scale(0.920 0.720)" y="3.6" font-size="11" font-weight="bold" font-style="normal" text-anchor="middle" fill="#000" stroke="#000" stroke-width="0.25">45</text>
<text transform="translate(228.7 178.3) rotate(17.0) skewX(-30.0) scale(0.920 0.720)" y="3.6" font-size="11" font-weight="bold" font-style="normal" text-anchor="middle" fill="#000" stroke="#000" stroke-width="0.25">50</text>
<text transform="translate(211.6 223.0) rotate(-47.0) scale(0.840 1.000)" y="4.0" font-size="12" font-weight="bold" font-style="normal" text-anchor="middle" fill="#000" >Time (ns)</text>
<line x1="204.0" y1="166.0" x2="214.1" y2="46.8" stroke="#000" stroke-width="1.1" />
<line x1="204.0" y1="166.0" x2="211.2" y2="164.6" stroke="#000" stroke-width="1.1" />
<line x1="205.8" y1="144.7" x2="213.0" y2="143.3" stroke="#000" stroke-width="1.1" />
<line x1="207.6" y1="123.4" x2="214.8" y2="122.0" stroke="#000" stroke-width="1.1" />
<line x1="209.4" y1="102.1" x2="216.6" y2="100.8" stroke="#000" stroke-width="1.1" />
<line x1="211.2" y1="80.9" x2="218.4" y2="79.5" stroke="#000" stroke-width="1.1" />
<line x1="213.0" y1="59.6" x2="220.2" y2="58.2" stroke="#000" stroke-width="1.1" />
<line x1="204.9" y1="155.4" x2="208.8" y2="154.6" stroke="#000" stroke-width="1.1" />
<line x1="206.7" y1="134.1" x2="210.6" y2="133.3" stroke="#000" stroke-width="1.1" />
<line x1="208.5" y1="112.8" x2="212.4" y2="112.0" stroke="#000" stroke-width="1.1" />
<line x1="210.3" y1="91.5" x2="214.2" y2="90.7" stroke="#000" stroke-width="1.1" />
<line x1="212.1" y1="70.2" x2="216.0" y2="69.5" stroke="#000" stroke-width="1.1" />
<line x1="213.9" y1="48.9" x2="217.8" y2="48.2" stroke="#000" stroke-width="1.1" />
<text transform="translate(216.7 172.6) rotate(12.0)" y="3.1" font-size="9.5" font-weight="bold" font-style="normal" text-anchor="middle" fill="#000" >0</text>
<text transform="translate(223.7 153.5) rotate(12.0)" y="3.1" font-size="9.5" font-weight="bold" font-style="normal" text-anchor="middle" fill="#000" >10k</text>
<text transform="translate(225.9 133.3) rotate(12.0)" y="3.1" font-size="9.5" font-weight="bold" font-style="normal" text-anchor="middle" fill="#000" >20k</text>
<text transform="translate(227.9 111.4) rotate(12.0)" y="3.1" font-size="9.5" font-weight="bold" font-style="normal" text-anchor="middle" fill="#000" >30k</text>
<text transform="translate(230.7 89.0) rotate(12.0)" y="3.1" font-size="9.5" font-weight="bold" font-style="normal" text-anchor="middle" fill="#000" >40k</text>
<text transform="translate(232.7 65.1) rotate(12.0)" y="3.1" font-size="9.5" font-weight="bold" font-style="normal" text-anchor="middle" fill="#000" >50k</text>
<text transform="translate(248.1 121.2) rotate(-78.0)" y="3.6" font-size="10.8" font-weight="bold" font-style="normal" text-anchor="middle" fill="#000" >Intensity (a.u)</text>
<text transform="translate(123.5 273.6)" y="4.5" font-size="13.5" text-anchor="middle">(<tspan font-weight="bold">a</tspan>)</text>
<polyline points="300.8,178.9 371.4,110.5 497.2,140.9" fill="none" stroke="#efefef" stroke-width="1"/>
<polyline points="299.3,163.1 371.2,96.3 498.4,126.0" fill="none" stroke="#efefef" stroke-width="1"/>
<polyline points="297.7,147.4 371.0,82.0 499.7,111.0" fill="none" stroke="#efefef" stroke-width="1"/>
<polyline points="296.2,131.6 370.9,67.8 501.0,96.1" fill="none" stroke="#efefef" stroke-width="1"/>
<polyline points="294.6,115.8 370.7,53.6 502.2,81.2" fill="none" stroke="#efefef" stroke-width="1"/>
<polyline points="293.1,100.0 370.5,39.4 503.5,66.3" fill="none" stroke="#efefef" stroke-width="1"/>
<polyline points="291.5,84.2 370.3,25.2 504.8,51.4" fill="none" stroke="#efefef" stroke-width="1"/>
<polyline points="289.9,68.5 370.1,10.9 506.0,36.5" fill="none" stroke="#efefef" stroke-width="1"/>
<line x1="310.5" y1="186.5" x2="298.5" y2="52.4" stroke="#d2d2d2" stroke-width="0.8" />
<line x1="318.6" y1="178.3" x2="308.0" y2="45.7" stroke="#d2d2d2" stroke-width="0.8" />
<line x1="326.3" y1="170.5" x2="317.0" y2="39.4" stroke="#d2d2d2" stroke-width="0.8" />
<line x1="333.7" y1="163.1" x2="325.6" y2="33.4" stroke="#d2d2d2" stroke-width="0.8" />
<line x1="340.7" y1="156.0" x2="333.8" y2="27.7" stroke="#d2d2d2" stroke-width="0.8" />
<line x1="347.4" y1="149.2" x2="341.6" y2="22.2" stroke="#d2d2d2" stroke-width="0.8" />
<line x1="353.8" y1="142.8" x2="349.1" y2="17.0" stroke="#d2d2d2" stroke-width="0.8" />
<line x1="359.9" y1="136.6" x2="356.3" y2="12.0" stroke="#d2d2d2" stroke-width="0.8" />
<line x1="365.8" y1="130.6" x2="363.2" y2="7.2" stroke="#d2d2d2" stroke-width="0.8" />
<line x1="376.6" y1="125.9" x2="375.5" y2="3.4" stroke="#d2d2d2" stroke-width="0.8" />
<line x1="401.5" y1="132.2" x2="402.9" y2="8.4" stroke="#d2d2d2" stroke-width="0.8" />
<line x1="427.2" y1="138.6" x2="431.2" y2="13.6" stroke="#d2d2d2" stroke-width="0.8" />
<line x1="453.9" y1="145.3" x2="460.6" y2="19.0" stroke="#d2d2d2" stroke-width="0.8" />
<line x1="481.6" y1="152.2" x2="491.0" y2="24.6" stroke="#d2d2d2" stroke-width="0.8" />
<polyline points="302.4,194.7 289.0,59.0 370.0,2.4 506.8,27.5" fill="none" stroke="#444" stroke-width="0.9"/>
<line x1="371.6" y1="124.7" x2="370.0" y2="2.4" stroke="#bdbdbd" stroke-width="0.9" />
<polygon points="371.6,124.7 371.6,121.5 496.2,152.5 495.9,155.8" fill="#000000" stroke="#000000" stroke-width="0.4" stroke-linejoin="round"/>
<polygon points="370.9,125.4 370.9,122.2 495.7,153.3 495.4,156.6" fill="#b020f0" stroke="#b020f0" stroke-width="0.4" stroke-linejoin="round"/>
<polygon points="370.2,126.1 370.2,122.9 495.1,154.1 494.9,157.5" fill="#3030d8" stroke="#3030d8" stroke-width="0.4" stroke-linejoin="round"/>
<polygon points="369.5,126.8 369.5,123.6 494.6,154.9 494.3,158.3" fill="#2898a0" stroke="#2898a0" stroke-width="0.4" stroke-linejoin="round"/>
<polygon points="368.8,127.5 368.8,124.3 494.1,155.8 493.8,159.1" fill="#d06020" stroke="#d06020" stroke-width="0.4" stroke-linejoin="round"/>
<polygon points="368.1,128.2 368.1,125.0 493.5,156.6 493.3,160.0" fill="#30b0c8" stroke="#30b0c8" stroke-width="0.4" stroke-linejoin="round"/>
<polygon points="367.4,128.9 367.3,125.7 493.0,157.5 492.7,160.8" fill="#b07830" stroke="#b07830" stroke-width="0.4" stroke-linejoin="round"/>
<polygon points="366.7,129.7 366.6,126.5 492.5,158.3 492.2,161.7" fill="#788828" stroke="#788828" stroke-width="0.4" stroke-linejoin="round"/>
<polygon points="366.0,130.4 365.9,127.2 491.9,159.2 491.7,162.5" fill="#1c9898" stroke="#1c9898" stroke-width="0.4" stroke-linejoin="round"/>
<polygon points="365.3,131.1 365.2,127.9 491.4,160.0 491.1,163.4" fill="#70a038" stroke="#70a038" stroke-width="0.4" stroke-linejoin="round"/>
<polygon points="364.5,131.8 364.5,128.6 490.8,160.9 490.6,164.3" fill="#38a040" stroke="#38a040" stroke-width="0.4" stroke-linejoin="round"/>
<polygon points="363.8,132.6 363.7,129.4 490.3,161.8 490.0,165.1" fill="#b01838" stroke="#b01838" stroke-width="0.4" stroke-linejoin="round"/>
<polygon points="363.1,133.3 363.0,130.1 489.7,162.6 489.5,166.0" fill="#a020e0" stroke="#a020e0" stroke-width="0.4" stroke-linejoin="round"/>
<polygon points="362.4,134.1 362.3,130.8 489.2,163.5 488.9,166.9" fill="#8f7c58" stroke="#8f7c58" stroke-width="0.4" stroke-linejoin="round"/>
<polygon points="361.6,134.8 361.5,131.6 488.6,164.4 488.4,167.8" fill="#8868a8" stroke="#8868a8" stroke-width="0.4" stroke-linejoin="round"/>
<polygon points="360.9,135.6 360.8,132.3 488.0,165.3 487.8,168.7" fill="#2070c0" stroke="#2070c0" stroke-width="0.4" stroke-linejoin="round"/>
<polygon points="360.1,136.3 360.0,133.1 487.5,166.2 487.2,169.5" fill="#7f9026" stroke="#7f9026" stroke-width="0.4" stroke-linejoin="round"/>
<polygon points="359.4,137.1 359.3,133.8 486.9,167.1 486.7,170.4" fill="#1890a8" stroke="#1890a8" stroke-width="0.4" stroke-linejoin="round"/>
<polygon points="358.6,137.8 358.5,134.6 486.3,168.0 486.1,171.3" fill="#0a7a2a" stroke="#0a7a2a" stroke-width="0.4" stroke-linejoin="round"/>
<polygon points="357.9,138.6 357.8,135.3 485.7,168.9 485.5,172.3" fill="#e8102a" stroke="#e8102a" stroke-width="0.4" stroke-linejoin="round"/>
<polygon points="357.1,139.4 357.0,136.1 485.2,169.8 484.9,173.2" fill="#000000" stroke="#000000" stroke-width="0.4" stroke-linejoin="round"/>
<polygon points="356.3,140.1 356.2,136.9 484.6,170.7 484.4,174.1" fill="#b020f0" stroke="#b020f0" stroke-width="0.4" stroke-linejoin="round"/>
<polygon points="355.6,140.9 355.5,137.7 484.0,171.6 483.8,175.0" fill="#3030d8" stroke="#3030d8" stroke-width="0.4" stroke-linejoin="round"/>
<polygon points="354.8,141.7 354.7,138.4 483.4,172.5 483.2,175.9" fill="#2898a0" stroke="#2898a0" stroke-width="0.4" stroke-linejoin="round"/>
<polygon points="354.0,142.5 353.9,139.2 482.8,173.5 482.6,176.9" fill="#d06020" stroke="#d06020" stroke-width="0.4" stroke-linejoin="round"/>
<polygon points="353.2,143.3 353.1,140.0 406.0,154.1 406.4,154.2 406.8,154.3 407.2,154.4 407.5,154.5 407.9,154.6 408.3,154.7 408.7,154.8 409.1,154.9 409.5,154.9 409.8,154.9 410.2,154.9 410.6,154.7 411.0,154.5 411.4,154.1 411.8,153.6 412.2,153.0 412.6,152.5 412.9,152.0 413.3,151.7 413.7,151.7 414.1,151.9 414.5,152.4 414.9,153.1 415.3,153.8 415.6,154.6 416.0,155.3 416.4,155.9 416.8,156.4 417.2,156.7 417.6,157.0 417.9,157.2 418.3,157.3 418.7,157.5 419.1,157.6 419.5,157.7 419.9,157.8 420.3,157.9 420.7,158.0 421.1,158.1 421.4,158.2 482.2,174.4 482.0,177.8" fill="#202040" stroke="#202040" stroke-width="0.4" stroke-linejoin="round"/>
<polygon points="352.4,144.1 352.3,140.8 481.6,175.4 481.4,178.7" fill="#b07830" stroke="#b07830" stroke-width="0.4" stroke-linejoin="round"/>
<polygon points="351.7,144.9 351.5,141.6 481.0,176.3 480.8,179.7" fill="#788828" stroke="#788828" stroke-width="0.4" stroke-linejoin="round"/>
<polygon points="350.9,145.7 350.7,142.4 480.4,177.3 480.2,180.6" fill="#1c9898" stroke="#1c9898" stroke-width="0.4" stroke-linejoin="round"/>
<polygon points="350.1,146.5 349.9,143.2 479.8,178.2 479.6,181.6" fill="#70a038" stroke="#70a038" stroke-width="0.4" stroke-linejoin="round"/>
<polygon points="349.3,147.3 349.1,144.0 479.2,179.2 479.0,182.6" fill="#38a040" stroke="#38a040" stroke-width="0.4" stroke-linejoin="round"/>
<polygon points="348.4,148.1 348.3,144.8 478.6,180.1 478.4,183.5" fill="#b01838" stroke="#b01838" stroke-width="0.4" stroke-linejoin="round"/>
<polygon points="347.6,148.9 347.5,145.6 478.0,181.1 477.8,184.5" fill="#a020e0" stroke="#a020e0" stroke-width="0.4" stroke-linejoin="round"/>
<polygon points="346.8,149.8 346.7,146.5 477.3,182.1 477.2,185.5" fill="#8f7c58" stroke="#8f7c58" stroke-width="0.4" stroke-linejoin="round"/>
<polygon points="346.0,150.6 345.8,147.3 476.7,183.1 476.5,186.5" fill="#8868a8" stroke="#8868a8" stroke-width="0.4" stroke-linejoin="round"/>
<polygon points="345.2,151.4 345.0,148.1 476.1,184.1 475.9,187.5" fill="#2070c0" stroke="#2070c0" stroke-width="0.4" stroke-linejoin="round"/>
<polygon points="344.3,152.3 344.2,149.0 475.5,185.1 475.3,188.5" fill="#7f9026" stroke="#7f9026" stroke-width="0.4" stroke-linejoin="round"/>
<polygon points="343.5,153.1 343.3,149.8 474.8,186.1 474.7,189.5" fill="#1890a8" stroke="#1890a8" stroke-width="0.4" stroke-linejoin="round"/>
<polygon points="342.7,154.0 342.5,150.7 474.2,187.1 474.0,190.5" fill="#0a7a2a" stroke="#0a7a2a" stroke-width="0.4" stroke-linejoin="round"/>
<polygon points="341.8,154.8 341.6,151.5 473.5,188.1 473.4,191.5" fill="#e8102a" stroke="#e8102a" stroke-width="0.4" stroke-linejoin="round"/>
<polygon points="341.0,155.7 340.8,152.4 472.9,189.1 472.7,192.5" fill="#000000" stroke="#000000" stroke-width="0.4" stroke-linejoin="round"/>
<polygon points="340.1,156.6 339.9,153.2 472.2,190.1 472.1,193.5" fill="#b020f0" stroke="#b020f0" stroke-width="0.4" stroke-linejoin="round"/>
<polygon points="339.2,157.4 339.1,154.1 389.4,168.1 390.3,168.4 391.1,168.6 392.0,168.8 392.8,169.1 393.7,169.3 394.5,169.5 395.4,169.7 396.2,170.0 397.1,170.2 397.9,170.4 398.8,170.6 399.6,170.7 400.5,170.8 401.4,170.9 402.2,171.0 403.1,171.0 403.9,171.0 404.8,171.1 405.7,171.2 406.5,171.4 407.4,171.7 408.3,172.1 409.1,172.5 410.0,172.9 410.9,173.4 411.7,173.8 412.6,174.2 413.2,174.5 413.5,174.6 413.5,174.6 413.9,174.7 414.2,174.9 414.3,174.9 414.6,175.0 414.9,175.1 415.2,175.2 415.6,175.3 415.9,175.4 416.1,175.5 416.2,175.5 416.6,175.6 416.9,175.7 417.0,175.7 417.2,175.8 417.6,175.8 417.8,175.9 417.9,175.9 418.3,175.9 418.6,176.0 418.7,176.0 418.9,176.0 419.3,176.0 419.6,176.1 419.9,176.2 420.3,176.3 420.5,176.4 420.6,176.4 421.0,176.6 421.3,176.7 421.4,176.8 421.6,176.9 422.0,177.1 422.2,177.2 422.3,177.2 422.7,177.4 423.0,177.5 423.1,177.5 423.3,177.6 423.7,177.7 424.0,177.8 424.3,177.9 424.7,178.0 425.0,178.1 425.4,178.2 425.7,178.3 426.0,178.4 426.4,178.5 426.7,178.6 471.6,191.1 471.4,194.6" fill="#3030d8" stroke="#3030d8" stroke-width="0.4" stroke-linejoin="round"/>
<polygon points="338.4,158.3 338.2,155.0 388.6,169.0 389.5,169.3 390.3,169.5 391.2,169.7 392.0,170.0 392.9,170.2 393.7,170.4 394.6,170.6 395.4,170.8 396.3,171.0 397.2,171.2 398.0,171.4 398.9,171.5 399.7,171.5 400.6,171.5 401.4,171.4 402.3,171.3 403.2,171.2 404.0,171.1 404.9,171.1 405.8,171.3 406.6,171.6 407.5,172.1 408.4,172.7 409.2,173.3 410.1,173.8 411.0,174.4 411.9,174.9 412.5,175.2 412.7,175.3 412.8,175.4 413.1,175.5 413.5,175.7 413.6,175.7 413.8,175.8 414.1,175.9 414.5,176.1 414.8,176.2 415.1,176.3 415.4,176.4 415.5,176.4 415.8,176.5 416.2,176.6 416.2,176.6 416.5,176.6 416.8,176.7 417.1,176.7 417.2,176.7 417.5,176.7 417.8,176.7 418.0,176.7 418.2,176.7 418.5,176.7 418.9,176.7 419.2,176.8 419.5,176.9 419.7,177.0 419.9,177.1 420.2,177.3 420.6,177.5 420.6,177.5 420.9,177.7 421.2,177.9 421.5,178.1 421.6,178.1 421.9,178.3 422.3,178.4 422.4,178.4 422.6,178.5 422.9,178.6 423.3,178.7 423.6,178.8 424.0,178.9 424.3,179.0 424.6,179.1 425.0,179.2 425.3,179.3 425.7,179.4 426.0,179.5 470.9,192.2 470.8,195.6" fill="#2898a0" stroke="#2898a0" stroke-width="0.4" stroke-linejoin="round"/>
<polygon points="337.5,159.2 337.3,155.8 387.8,170.0 388.7,170.2 389.5,170.4 390.4,170.6 391.2,170.9 392.1,171.1 393.0,171.3 393.8,171.5 394.7,171.7 395.5,171.9 396.4,172.0 397.2,172.1 398.1,172.1 398.9,172.1 399.8,172.0 400.7,171.7 401.5,171.5 402.4,171.2 403.2,170.9 404.1,170.8 405.0,171.0 405.8,171.3 406.7,171.9 407.6,172.6 408.5,173.4 409.3,174.2 410.2,174.9 411.1,175.5 411.7,175.9 412.0,176.0 412.0,176.1 412.4,176.3 412.7,176.4 412.8,176.5 413.0,176.6 413.4,176.7 413.7,176.9 414.1,177.0 414.4,177.1 414.6,177.2 414.7,177.3 415.1,177.4 415.4,177.4 415.5,177.4 415.7,177.5 416.1,177.5 416.4,177.5 416.4,177.5 416.8,177.4 417.1,177.4 417.2,177.3 417.4,177.3 417.8,177.2 418.1,177.2 418.5,177.3 418.8,177.5 419.0,177.6 419.1,177.7 419.5,177.9 419.8,178.2 419.9,178.2 420.2,178.5 420.5,178.7 420.8,178.9 420.8,178.9 421.2,179.1 421.5,179.3 421.7,179.4 421.9,179.5 422.2,179.6 422.5,179.7 422.9,179.8 423.2,179.9 423.6,180.0 423.9,180.1 424.2,180.2 424.6,180.3 424.9,180.4 425.3,180.5 470.3,193.2 470.1,196.7" fill="#d06020" stroke="#d06020" stroke-width="0.4" stroke-linejoin="round"/>
<polygon points="336.6,160.1 336.4,156.7 387.0,170.8 387.9,171.1 388.7,171.3 389.6,171.5 390.5,171.7 391.3,171.9 392.2,172.1 393.0,172.3 393.9,172.5 394.7,172.7 395.6,172.7 396.4,172.8 397.3,172.7 398.2,172.5 399.0,172.2 399.9,171.7 400.7,171.2 401.6,170.6 402.4,170.2 403.3,169.9 404.2,170.0 405.1,170.4 405.9,171.1 406.8,172.1 407.7,173.1 408.6,174.2 409.4,175.1 410.3,175.9 410.9,176.4 411.2,176.6 411.3,176.7 411.6,176.9 411.9,177.1 412.1,177.2 412.3,177.3 412.6,177.5 413.0,177.6 413.3,177.8 413.6,177.9 413.8,178.0 414.0,178.1 414.3,178.2 414.7,178.2 414.7,178.2 415.0,178.2 415.3,178.2 415.6,178.2 415.7,178.2 416.0,178.0 416.3,177.9 416.5,177.8 416.7,177.7 417.0,177.6 417.4,177.6 417.7,177.6 418.0,177.8 418.3,177.9 418.4,178.0 418.7,178.4 419.1,178.7 419.1,178.8 419.4,179.1 419.7,179.5 420.0,179.7 420.1,179.7 420.4,180.0 420.8,180.2 420.9,180.3 421.1,180.4 421.5,180.5 421.8,180.6 422.1,180.7 422.5,180.8 422.8,180.9 423.2,181.0 423.5,181.1 423.8,181.2 424.2,181.3 424.5,181.4 469.6,194.3 469.5,197.7" fill="#30b0c8" stroke="#30b0c8" stroke-width="0.4" stroke-linejoin="round"/>
<polygon points="335.7,161.0 335.5,157.6 386.2,171.7 387.1,172.0 387.9,172.2 388.8,172.4 389.7,172.6 390.5,172.8 391.4,173.0 392.2,173.2 393.1,173.3 393.9,173.4 394.8,173.5 395.6,173.4 396.5,173.3 397.4,172.9 398.2,172.4 399.1,171.7 399.9,170.9 400.8,170.1 401.6,169.4 402.5,169.0 403.4,169.0 404.3,169.4 405.1,170.4 406.0,171.6 406.9,172.9 407.8,174.2 408.7,175.4 409.6,176.4 410.2,177.0 410.4,177.2 410.5,177.2 410.8,177.5 411.2,177.8 411.3,177.9 411.5,178.0 411.9,178.2 412.2,178.4 412.5,178.6 412.9,178.7 413.1,178.8 413.2,178.9 413.6,179.0 413.9,179.0 414.0,179.0 414.2,179.0 414.6,179.0 414.8,178.9 414.9,178.8 415.3,178.6 415.6,178.4 415.7,178.3 415.9,178.2 416.3,178.0 416.6,177.9 417.0,177.9 417.3,178.1 417.5,178.3 417.6,178.4 418.0,178.8 418.3,179.3 418.4,179.4 418.7,179.8 419.0,180.2 419.3,180.5 419.3,180.5 419.7,180.8 420.0,181.1 420.2,181.2 420.4,181.3 420.7,181.4 421.0,181.6 421.4,181.7 421.7,181.8 422.1,181.9 422.4,182.0 422.8,182.1 423.1,182.2 423.4,182.3 423.8,182.4 468.9,195.3 468.8,198.8" fill="#b07830" stroke="#b07830" stroke-width="0.4" stroke-linejoin="round"/>
<polygon points="334.9,161.9 334.6,158.5 385.4,172.6 386.3,172.9 387.1,173.1 388.0,173.3 388.8,173.5 389.7,173.7 390.6,173.8 391.4,174.0 392.3,174.1 393.1,174.2 394.0,174.2 394.8,174.0 395.7,173.7 396.6,173.2 397.4,172.4 398.3,171.4 399.1,170.2 400.0,169.1 400.8,168.0 401.7,167.4 402.6,167.3 403.4,167.9 404.3,169.0 405.2,170.5 406.1,172.2 407.0,173.9 407.9,175.4 408.8,176.6 409.4,177.4 409.7,177.6 409.7,177.7 410.1,178.0 410.4,178.3 410.5,178.5 410.8,178.6 411.1,178.9 411.4,179.1 411.8,179.3 412.1,179.5 412.3,179.6 412.5,179.6 412.8,179.7 413.1,179.8 413.2,179.8 413.5,179.7 413.8,179.6 414.1,179.5 414.1,179.4 414.5,179.1 414.8,178.8 415.0,178.7 415.2,178.4 415.5,178.2 415.8,178.0 416.2,178.0 416.5,178.2 416.7,178.5 416.9,178.6 417.2,179.2 417.6,179.7 417.6,179.9 417.9,180.3 418.2,180.8 418.5,181.2 418.6,181.3 418.9,181.7 419.3,181.9 419.4,182.0 419.6,182.2 420.0,182.3 420.3,182.5 420.6,182.6 421.0,182.7 421.3,182.8 421.7,182.9 422.0,183.0 422.4,183.1 422.7,183.3 423.0,183.4 468.3,196.4 468.1,199.8" fill="#788828" stroke="#788828" stroke-width="0.4" stroke-linejoin="round"/>
<polygon points="334.0,162.8 333.8,159.4 384.6,173.5 385.5,173.7 386.3,173.9 387.2,174.1 388.0,174.3 388.9,174.5 389.8,174.6 390.6,174.7 391.5,174.8 392.3,174.8 393.2,174.7 394.0,174.4 394.9,173.9 395.7,173.0 396.6,171.9 397.4,170.4 398.3,168.8 399.1,167.0 400.0,165.5 400.8,164.6 401.7,164.4 402.6,165.0 403.5,166.5 404.4,168.5 405.3,170.7 406.2,172.9 407.1,174.9 408.0,176.5 408.6,177.5 408.9,177.8 409.0,177.9 409.3,178.3 409.6,178.7 409.8,178.9 410.0,179.1 410.3,179.4 410.7,179.6 411.0,179.9 411.3,180.1 411.5,180.2 411.7,180.2 412.0,180.4 412.4,180.4 412.4,180.4 412.7,180.3 413.0,180.1 413.3,179.9 413.4,179.8 413.7,179.4 414.1,178.9 414.2,178.7 414.4,178.4 414.7,177.9 415.1,177.7 415.4,177.7 415.8,177.9 416.0,178.2 416.1,178.4 416.4,179.1 416.8,179.9 416.9,180.0 417.1,180.6 417.5,181.3 417.8,181.8 417.8,181.9 418.2,182.4 418.5,182.7 418.6,182.9 418.9,183.0 419.2,183.2 419.5,183.4 419.9,183.5 420.2,183.6 420.6,183.7 420.9,183.9 421.3,184.0 421.6,184.1 421.9,184.2 422.3,184.3 467.6,197.4 467.5,200.9" fill="#1c9898" stroke="#1c9898" stroke-width="0.4" stroke-linejoin="round"/>
<polygon points="333.1,163.7 332.9,160.3 383.1,174.1 384.0,174.3 384.8,174.5 385.7,174.7 386.6,174.9 387.4,175.0 388.3,175.1 389.1,175.2 390.0,175.2 390.8,175.1 391.7,174.9 392.6,174.4 393.4,173.6 394.2,172.4 395.1,170.7 395.9,168.6 396.7,166.3 397.6,163.8 398.4,161.7 399.3,160.2 400.2,159.9 401.0,160.7 402.0,162.7 402.9,165.3 403.8,168.2 404.7,171.1 405.6,173.7 406.5,175.9 407.1,177.1 407.4,177.6 407.5,177.7 407.8,178.2 408.2,178.7 408.3,178.9 408.5,179.1 408.9,179.5 409.2,179.8 409.5,180.1 409.9,180.4 410.1,180.5 410.2,180.6 410.6,180.7 410.9,180.7 411.0,180.7 411.2,180.6 411.6,180.3 411.8,179.9 411.9,179.8 412.3,179.2 412.6,178.5 412.7,178.2 412.9,177.7 413.3,177.1 413.6,176.7 414.0,176.7 414.3,177.0 414.5,177.4 414.6,177.7 415.0,178.5 415.3,179.5 415.4,179.8 415.7,180.6 416.0,181.5 416.3,182.1 416.4,182.2 416.7,182.8 417.1,183.3 417.2,183.4 417.4,183.6 417.7,183.8 418.1,184.0 418.4,184.2 418.8,184.3 419.1,184.4 419.5,184.6 419.8,184.7 420.2,184.8 420.5,184.9 420.8,185.0 466.9,198.5 466.8,202.0" fill="#70a038" stroke="#70a038" stroke-width="0.4" stroke-linejoin="round"/>
<polygon points="332.2,164.6 331.9,161.2 381.7,174.8 382.5,174.9 383.4,175.1 384.2,175.3 385.1,175.4 385.9,175.5 386.8,175.6 387.6,175.6 388.5,175.6 389.4,175.4 390.2,174.9 391.1,174.2 391.9,173.1 392.7,171.4 393.5,169.1 394.4,166.2 395.2,162.9 396.0,159.6 396.8,156.7 397.7,154.7 398.5,154.1 399.5,155.2 400.4,157.6 401.3,161.1 402.2,164.9 403.2,168.7 404.1,172.0 405.0,174.8 405.7,176.4 405.9,177.0 406.0,177.2 406.3,177.9 406.7,178.5 406.8,178.7 407.0,179.0 407.4,179.5 407.7,179.9 408.1,180.3 408.4,180.6 408.6,180.7 408.8,180.8 409.1,181.0 409.4,181.0 409.5,181.0 409.8,180.9 410.1,180.7 410.4,180.3 410.4,180.2 410.8,179.6 411.1,178.9 411.3,178.6 411.5,178.2 411.8,177.6 412.1,177.3 412.5,177.2 412.8,177.6 413.0,177.9 413.2,178.2 413.5,179.1 413.9,180.1 413.9,180.3 414.2,181.1 414.6,182.1 414.8,182.7 414.9,182.8 415.3,183.5 415.6,183.9 415.7,184.1 415.9,184.2 416.3,184.5 416.6,184.7 417.0,184.8 417.3,185.0 417.7,185.1 418.0,185.2 418.4,185.3 418.7,185.5 419.0,185.6 419.4,185.7 466.2,199.5 466.1,203.0" fill="#38a040" stroke="#38a040" stroke-width="0.4" stroke-linejoin="round"/>
<polygon points="331.3,165.5 331.0,162.1 380.2,175.3 381.0,175.5 381.9,175.6 382.7,175.7 383.6,175.8 384.4,175.9 385.3,175.9 386.1,175.9 387.0,175.7 387.9,175.4 388.7,174.7 389.5,173.6 390.4,172.0 391.2,169.6 392.0,166.4 392.8,162.5 393.6,158.0 394.3,153.4 395.2,149.3 396.0,146.5 396.9,145.7 397.8,147.0 398.7,150.3 399.7,154.9 400.7,160.0 401.6,164.9 402.6,169.4 403.5,173.1 404.1,175.2 404.4,176.0 404.5,176.2 404.9,177.1 405.2,177.8 405.3,178.1 405.5,178.5 405.9,179.2 406.2,179.7 406.6,180.2 406.9,180.6 407.1,180.8 407.3,180.9 407.6,181.1 408.0,181.2 408.0,181.2 408.3,181.1 408.6,180.9 408.9,180.6 409.0,180.5 409.3,179.9 409.6,179.3 409.8,179.0 410.0,178.6 410.3,178.0 410.7,177.7 411.0,177.7 411.3,178.0 411.6,178.4 411.7,178.7 412.0,179.6 412.4,180.6 412.5,180.8 412.7,181.7 413.1,182.6 413.4,183.2 413.4,183.4 413.8,184.0 414.1,184.5 414.3,184.6 414.5,184.8 414.8,185.1 415.2,185.3 415.5,185.4 415.9,185.6 416.2,185.7 416.6,185.8 416.9,186.0 417.2,186.1 417.6,186.2 417.9,186.3 465.5,200.6 465.4,204.1" fill="#8b1010" stroke="#8b1010" stroke-width="0.4" stroke-linejoin="round"/>
<polygon points="330.3,166.4 330.1,163.0 378.7,175.8 379.5,175.9 380.4,176.0 381.2,176.1 382.1,176.2 382.9,176.2 383.8,176.1 384.6,176.0 385.5,175.7 386.3,175.1 387.2,174.2 388.0,172.7 388.8,170.4 389.6,167.1 390.4,162.8 391.1,157.4 391.9,151.3 392.6,145.1 393.4,139.6 394.2,135.8 395.1,134.6 396.0,136.3 397.0,140.6 398.0,146.6 399.0,153.3 400.0,159.9 401.0,165.8 402.0,170.6 402.6,173.3 402.9,174.4 403.0,174.6 403.3,175.8 403.7,176.8 403.8,177.2 404.0,177.7 404.4,178.5 404.7,179.2 405.1,179.8 405.4,180.3 405.6,180.5 405.8,180.7 406.1,181.0 406.5,181.2 406.5,181.2 406.8,181.2 407.2,181.0 407.4,180.7 407.5,180.7 407.8,180.1 408.2,179.5 408.3,179.2 408.5,178.8 408.8,178.3 409.2,178.0 409.5,178.0 409.9,178.4 410.1,178.7 410.2,179.1 410.6,180.0 410.9,181.0 411.0,181.3 411.3,182.1 411.6,183.0 411.9,183.7 412.0,183.8 412.3,184.5 412.7,185.0 412.8,185.1 413.0,185.3 413.4,185.6 413.7,185.8 414.0,186.0 414.4,186.1 414.7,186.3 415.1,186.4 415.4,186.6 415.8,186.7 416.1,186.8 416.5,186.9 464.8,201.7 464.7,205.2" fill="#b06020" stroke="#b06020" stroke-width="0.4" stroke-linejoin="round"/>
<polygon points="329.4,167.4 329.2,163.8 376.7,176.0 377.6,176.1 378.4,176.1 379.3,176.1 380.1,176.1 381.0,176.0 381.9,175.9 382.7,175.6 383.5,175.0 384.4,174.1 385.2,172.7 386.0,170.5 386.8,167.2 387.5,162.5 388.3,156.3 389.0,148.6 389.6,140.0 390.3,131.1 391.1,123.3 391.8,117.9 392.7,116.0 393.7,118.3 394.7,124.3 395.8,132.6 396.9,142.0 397.9,151.1 399.0,159.3 400.0,166.0 400.6,169.7 400.9,171.2 401.0,171.5 401.4,173.1 401.7,174.5 401.9,175.0 402.1,175.7 402.5,176.8 402.8,177.7 403.2,178.5 403.5,179.2 403.7,179.6 403.9,179.8 404.2,180.2 404.6,180.5 404.6,180.5 404.9,180.6 405.2,180.5 405.5,180.3 405.6,180.3 405.9,179.8 406.2,179.2 406.4,179.0 406.6,178.6 406.9,178.1 407.3,177.8 407.6,177.9 408.0,178.3 408.2,178.7 408.3,179.0 408.7,180.0 409.0,181.1 409.1,181.3 409.4,182.2 409.7,183.1 410.0,183.8 410.1,184.0 410.4,184.6 410.8,185.1 410.9,185.3 411.1,185.5 411.5,185.8 411.8,186.0 412.2,186.2 412.5,186.4 412.8,186.5 413.2,186.7 413.5,186.9 413.9,187.0 414.2,187.1 414.6,187.3 464.1,202.7 464.0,206.3" fill="#8a7a18" stroke="#8a7a18" stroke-width="0.4" stroke-linejoin="round"/>
<polygon points="328.5,168.3 328.3,164.8 375.7,176.8 376.6,176.9 377.5,176.9 378.3,176.9 379.2,176.9 380.0,176.8 380.9,176.5 381.7,176.2 382.6,175.6 383.4,174.6 384.2,173.0 385.0,170.6 385.8,167.0 386.5,161.8 387.2,155.1 387.9,146.8 388.5,137.4 389.2,127.7 389.9,119.2 390.7,113.3 391.5,111.3 392.5,113.8 393.6,120.2 394.7,129.2 395.8,139.3 396.9,149.3 397.9,158.1 399.0,165.4 399.7,169.4 400.0,171.0 400.0,171.4 400.4,173.1 400.8,174.6 400.9,175.1 401.1,175.9 401.5,177.1 401.9,178.1 402.2,178.9 402.6,179.7 402.8,180.1 402.9,180.3 403.3,180.8 403.6,181.1 403.7,181.1 404.0,181.2 404.3,181.2 404.6,181.0 404.6,180.9 405.0,180.5 405.3,179.9 405.4,179.7 405.6,179.3 406.0,178.8 406.3,178.6 406.7,178.6 407.0,179.1 407.2,179.5 407.4,179.8 407.7,180.8 408.1,181.9 408.1,182.1 408.4,183.0 408.8,183.9 409.1,184.6 409.1,184.8 409.5,185.4 409.8,186.0 410.0,186.1 410.2,186.3 410.5,186.6 410.9,186.9 411.2,187.1 411.6,187.2 411.9,187.4 412.3,187.6 412.6,187.7 413.0,187.9 413.3,188.0 413.7,188.2 463.4,203.8 463.3,207.4" fill="#a03010" stroke="#a03010" stroke-width="0.4" stroke-linejoin="round"/>
<polygon points="327.6,169.2 327.3,165.6 370.0,175.4 370.8,175.4 371.7,175.3 372.5,175.2 373.3,175.0 374.2,174.7 375.0,174.2 375.9,173.5 376.7,172.5 377.5,170.8 378.3,168.3 379.0,164.4 379.7,158.7 380.3,150.7 380.9,140.2 381.4,127.3 381.8,112.7 382.3,97.8 382.8,84.6 383.5,75.4 384.4,72.2 385.4,75.8 386.6,85.5 387.8,99.3 389.1,114.7 390.4,129.8 391.6,143.2 392.8,154.2 393.9,162.7 394.9,168.9 395.9,173.3 396.8,176.4 397.3,177.6 397.7,178.4 397.7,178.5 398.0,179.1 398.4,179.7 398.7,180.1 398.7,180.2 399.1,180.7 399.4,181.1 399.6,181.3 399.8,181.5 400.1,181.8 400.5,182.1 400.8,182.3 401.2,182.4 401.4,182.4 401.5,182.4 401.8,182.1 402.2,181.8 402.2,181.7 402.5,181.2 402.8,180.6 403.1,180.1 403.2,179.9 403.5,179.4 403.8,179.1 404.0,179.1 404.2,179.2 404.5,179.5 404.9,180.3 405.2,181.2 405.6,182.3 406.0,183.4 406.3,184.3 406.7,185.2 407.0,185.8 407.4,186.3 407.7,186.7 408.1,187.0 408.4,187.2 408.8,187.4 409.1,187.6 409.5,187.8 409.8,187.9 410.2,188.1 410.5,188.2 410.8,188.4 411.2,188.5 462.7,204.9 462.6,208.5" fill="#2e9e2e" stroke="#2e9e2e" stroke-width="0.4" stroke-linejoin="round"/>
<polygon points="326.6,170.2 326.4,166.7 369.2,178.0 370.0,178.2 370.9,178.3 371.7,178.4 372.6,178.4 373.4,178.4 374.3,178.4 375.1,178.2 376.0,177.9 376.8,177.4 377.6,176.5 378.4,175.0 379.2,172.7 380.0,169.5 380.7,165.2 381.4,159.9 382.1,153.8 382.8,147.7 383.5,142.2 384.3,138.4 385.2,137.2 386.1,138.9 387.1,143.2 388.2,149.2 389.3,155.8 390.3,162.4 391.4,168.2 392.4,173.0 393.3,176.7 394.3,179.5 395.2,181.5 396.1,183.0 396.6,183.6 396.9,184.0 397.0,184.0 397.3,184.3 397.6,184.6 397.9,184.8 398.0,184.9 398.3,185.2 398.7,185.4 398.8,185.5 399.0,185.6 399.4,185.8 399.7,185.9 400.0,186.0 400.4,186.0 400.6,185.9 400.7,185.8 401.1,185.5 401.4,185.0 401.5,184.9 401.7,184.4 402.1,183.7 402.3,183.1 402.4,183.0 402.7,182.3 403.1,182.0 403.2,181.9 403.4,181.9 403.7,182.3 404.1,182.9 404.5,183.8 404.8,184.9 405.2,185.9 405.5,186.8 405.9,187.6 406.2,188.2 406.6,188.7 406.9,189.0 407.3,189.3 407.6,189.5 408.0,189.6 408.3,189.8 408.7,189.9 409.0,190.0 409.4,190.2 409.7,190.3 410.1,190.4 410.4,190.5 462.0,206.1 461.9,209.7" fill="#106010" stroke="#106010" stroke-width="0.4" stroke-linejoin="round"/>
<polygon points="325.7,171.1 325.4,167.6 368.3,179.4 369.2,179.5 370.0,179.7 370.9,179.8 371.7,179.9 372.6,180.0 373.4,180.0 374.3,180.0 375.1,179.9 376.0,179.5 376.8,178.9 377.7,177.9 378.5,176.3 379.2,174.1 380.0,171.1 380.8,167.3 381.5,163.0 382.2,158.6 383.0,154.7 383.8,152.1 384.7,151.3 385.6,152.6 386.6,155.7 387.6,160.1 388.6,165.0 389.6,169.8 390.6,174.1 391.6,177.6 392.5,180.4 393.5,182.5 394.4,184.0 395.3,185.1 396.2,186.0 397.1,186.6 398.0,187.2 398.9,187.7 399.8,188.1 400.7,188.5 401.6,188.9 402.5,189.2 403.4,189.6 461.3,207.3 461.2,210.8" fill="#e020d0" stroke="#e020d0" stroke-width="0.4" stroke-linejoin="round"/>
<polygon points="324.8,172.1 324.5,168.6 370.1,181.6 370.8,181.7 371.5,181.9 372.3,182.1 373.0,182.2 373.7,182.3 374.5,182.4 375.2,182.5 375.9,182.5 376.6,182.4 377.4,182.2 378.1,181.8 378.8,181.1 379.5,180.1 380.2,178.6 380.8,176.8 381.5,174.8 382.2,172.6 382.9,170.8 383.6,169.5 384.3,169.2 385.1,170.0 385.9,171.6 386.7,173.9 387.5,176.5 388.3,179.0 389.1,181.2 389.9,183.1 390.7,184.6 391.5,185.7 392.2,186.6 393.0,187.2 393.8,187.7 394.5,188.2 395.3,188.5 396.0,188.8 396.8,189.1 397.5,189.4 398.3,189.7 399.1,190.0 399.8,190.3 460.6,208.4 460.5,211.9" fill="#2020ff" stroke="#2020ff" stroke-width="0.4" stroke-linejoin="round"/>
<polygon points="323.8,173.1 323.5,169.6 369.2,182.6 369.9,182.8 370.7,183.0 371.4,183.1 372.1,183.3 372.9,183.4 373.6,183.5 374.3,183.6 375.1,183.6 375.8,183.6 376.5,183.4 377.2,183.0 377.9,182.4 378.6,181.5 379.3,180.1 380.0,178.5 380.7,176.6 381.3,174.7 382.0,173.0 382.7,171.8 383.5,171.6 384.2,172.3 385.0,173.8 385.8,176.0 386.7,178.3 387.5,180.7 388.3,182.8 389.1,184.5 389.9,185.9 390.6,187.0 391.4,187.8 392.2,188.4 392.9,188.9 393.7,189.3 394.4,189.6 395.2,190.0 395.9,190.3 396.7,190.5 397.5,190.8 398.2,191.1 399.0,191.3 459.8,209.6 459.8,213.1" fill="#e00020" stroke="#e00020" stroke-width="0.4" stroke-linejoin="round"/>
<polygon points="322.8,174.0 322.6,170.6 368.3,183.8 369.1,184.0 369.8,184.2 370.5,184.4 371.3,184.6 372.0,184.8 372.7,184.9 373.5,185.1 374.2,185.2 374.9,185.3 375.7,185.3 376.4,185.2 377.1,184.9 377.8,184.5 378.5,183.9 379.3,183.1 380.0,182.2 380.7,181.3 381.4,180.4 382.1,179.9 382.8,179.9 383.6,180.4 384.4,181.3 385.2,182.6 385.9,184.0 386.7,185.3 387.5,186.5 388.3,187.6 389.0,188.4 389.8,189.1 390.6,189.6 391.3,190.1 392.1,190.4 392.8,190.8 393.6,191.1 394.4,191.3 395.1,191.6 395.9,191.8 396.6,192.1 397.4,192.3 398.2,192.6 459.1,210.7 459.1,214.2" fill="#6060a0" stroke="#6060a0" stroke-width="0.4" stroke-linejoin="round"/>
<polygon points="321.9,175.0 321.6,171.6 367.5,185.0 368.2,185.2 368.9,185.4 369.7,185.6 370.4,185.8 371.1,186.0 371.9,186.2 372.6,186.4 373.3,186.5 374.1,186.7 374.8,186.8 375.5,186.9 376.3,186.9 377.0,186.8 377.7,186.6 378.5,186.4 379.2,186.1 379.9,185.7 380.6,185.5 381.4,185.4 382.1,185.5 382.9,185.8 383.6,186.4 384.4,187.1 385.2,187.8 385.9,188.6 386.7,189.3 387.5,189.9 388.2,190.4 389.0,190.8 389.7,191.2 390.5,191.5 391.3,191.8 392.0,192.1 392.8,192.3 393.5,192.6 394.3,192.8 395.0,193.1 395.8,193.3 396.6,193.5 397.3,193.8 458.4,211.9 458.3,215.4" fill="#b020f0" stroke="#b020f0" stroke-width="0.4" stroke-linejoin="round"/>
<polygon points="320.9,176.0 320.6,172.5 366.6,186.1 367.3,186.3 368.0,186.5 368.8,186.7 369.5,186.9 370.2,187.1 371.0,187.4 371.7,187.6 372.5,187.8 373.2,188.0 373.9,188.1 374.7,188.3 375.4,188.5 376.2,188.6 376.9,188.7 377.6,188.7 378.4,188.8 379.1,188.8 379.8,188.9 380.6,189.0 381.3,189.2 382.1,189.4 382.8,189.8 383.6,190.1 384.4,190.5 385.1,190.9 385.9,191.3 386.6,191.7 387.4,192.0 388.1,192.3 388.9,192.6 389.6,192.8 390.4,193.1 391.2,193.3 391.9,193.5 392.7,193.8 393.4,194.0 394.2,194.2 395.0,194.5 395.7,194.7 396.5,194.9 457.7,213.0 457.6,216.5" fill="#3030d8" stroke="#3030d8" stroke-width="0.4" stroke-linejoin="round"/>
<polygon points="319.9,177.0 319.7,173.5 456.9,214.2 456.9,217.7" fill="#2898a0" stroke="#2898a0" stroke-width="0.4" stroke-linejoin="round"/>
<polygon points="319.0,178.0 318.7,174.5 456.2,215.4 456.1,218.9" fill="#d06020" stroke="#d06020" stroke-width="0.4" stroke-linejoin="round"/>
<polygon points="318.0,179.0 317.7,175.5 455.4,216.6 455.4,220.0" fill="#30b0c8" stroke="#30b0c8" stroke-width="0.4" stroke-linejoin="round"/>
<polygon points="317.0,180.0 316.7,176.5 454.7,217.7 454.6,221.2" fill="#b07830" stroke="#b07830" stroke-width="0.4" stroke-linejoin="round"/>
<polygon points="316.0,181.0 315.7,177.5 453.9,218.9 453.9,222.4" fill="#788828" stroke="#788828" stroke-width="0.4" stroke-linejoin="round"/>
<polygon points="315.0,182.0 314.7,178.5 453.1,220.1 453.1,223.6" fill="#1c9898" stroke="#1c9898" stroke-width="0.4" stroke-linejoin="round"/>
<polygon points="314.0,183.0 313.7,179.5 452.4,221.3 452.3,224.9" fill="#70a038" stroke="#70a038" stroke-width="0.4" stroke-linejoin="round"/>
<polygon points="312.9,184.0 312.6,180.6 451.6,222.6 451.6,226.1" fill="#38a040" stroke="#38a040" stroke-width="0.4" stroke-linejoin="round"/>
<polygon points="311.9,185.1 311.6,181.6 450.8,223.8 450.8,227.3" fill="#b01838" stroke="#b01838" stroke-width="0.4" stroke-linejoin="round"/>
<polygon points="310.9,186.1 310.6,182.6 450.0,225.0 450.0,228.5" fill="#a020e0" stroke="#a020e0" stroke-width="0.4" stroke-linejoin="round"/>
<polygon points="309.8,187.2 309.5,183.7 449.2,226.3 449.2,229.8" fill="#8f7c58" stroke="#8f7c58" stroke-width="0.4" stroke-linejoin="round"/>
<polygon points="308.8,188.2 308.5,184.7 448.4,227.5 448.4,231.0" fill="#8868a8" stroke="#8868a8" stroke-width="0.4" stroke-linejoin="round"/>
<polygon points="307.8,189.3 307.4,185.8 447.6,228.8 447.6,232.3" fill="#2070c0" stroke="#2070c0" stroke-width="0.4" stroke-linejoin="round"/>
<polygon points="306.7,190.4 306.4,186.8 446.8,230.0 446.8,233.6" fill="#7f9026" stroke="#7f9026" stroke-width="0.4" stroke-linejoin="round"/>
<polygon points="305.6,191.4 305.3,187.9 446.0,231.3 446.0,234.8" fill="#1890a8" stroke="#1890a8" stroke-width="0.4" stroke-linejoin="round"/>
<polygon points="304.6,192.5 304.2,189.0 445.2,232.6 445.2,236.1" fill="#0a7a2a" stroke="#0a7a2a" stroke-width="0.4" stroke-linejoin="round"/>
<polygon points="303.5,193.6 303.1,190.1 444.4,233.9 444.4,237.4" fill="#e8102a" stroke="#e8102a" stroke-width="0.4" stroke-linejoin="round"/>
<polygon points="302.4,194.7 302.1,191.2 443.6,235.2 443.6,238.7" fill="#000000" stroke="#000000" stroke-width="0.4" stroke-linejoin="round"/>
<line x1="302.4" y1="194.7" x2="443.6" y2="238.7" stroke="#000" stroke-width="1.1" />
<line x1="308.0" y1="196.5" x2="303.9" y2="201.5" stroke="#000" stroke-width="1.1" />
<line x1="336.3" y1="205.3" x2="332.0" y2="210.4" stroke="#000" stroke-width="1.1" />
<line x1="365.6" y1="214.4" x2="361.1" y2="219.7" stroke="#000" stroke-width="1.1" />
<line x1="395.9" y1="223.8" x2="391.3" y2="229.3" stroke="#000" stroke-width="1.1" />
<line x1="427.3" y1="233.6" x2="422.6" y2="239.3" stroke="#000" stroke-width="1.1" />
<line x1="322.1" y1="200.8" x2="319.8" y2="203.6" stroke="#000" stroke-width="1.1" />
<line x1="350.8" y1="209.8" x2="348.5" y2="212.6" stroke="#000" stroke-width="1.1" />
<line x1="380.6" y1="219.1" x2="378.2" y2="222.0" stroke="#000" stroke-width="1.1" />
<line x1="411.5" y1="228.7" x2="409.0" y2="231.7" stroke="#000" stroke-width="1.1" />
<text transform="translate(299.0 210.7) rotate(-58.0) scale(1.000 0.900)" y="2.6" font-size="8" font-weight="bold" font-style="normal" text-anchor="middle" fill="#000" >400</text>
<text transform="translate(329.6 219.6) rotate(-58.0) scale(1.000 0.900)" y="2.6" font-size="8" font-weight="bold" font-style="normal" text-anchor="middle" fill="#000" >450</text>
<text transform="translate(358.9 229.6) rotate(-58.0) scale(1.000 0.900)" y="2.6" font-size="8" font-weight="bold" font-style="normal" text-anchor="middle" fill="#000" >500</text>
<text transform="translate(389.4 239.2) rotate(-58.0) scale(1.000 0.900)" y="2.6" font-size="8" font-weight="bold" font-style="normal" text-anchor="middle" fill="#000" >550</text>
<text transform="translate(421.0 249.6) rotate(-58.0) scale(1.000 0.900)" y="2.6" font-size="8" font-weight="bold" font-style="normal" text-anchor="middle" fill="#000" >600</text>
<text transform="translate(350.0 242.5) rotate(21.3) skewX(-25.0) scale(0.980 1.000)" y="3.8" font-size="11.5" font-weight="bold" font-style="normal" text-anchor="middle" fill="#000" stroke="#000" stroke-width="0.25">Wavelength (nm)</text>
<line x1="443.6" y1="238.7" x2="495.9" y2="155.8" stroke="#000" stroke-width="1.1" />
<line x1="449.7" y1="229.0" x2="457.4" y2="230.7" stroke="#000" stroke-width="1.1" />
<line x1="455.8" y1="219.3" x2="463.5" y2="221.0" stroke="#000" stroke-width="1.1" />
<line x1="461.7" y1="210.1" x2="469.2" y2="211.8" stroke="#000" stroke-width="1.1" />
<line x1="467.2" y1="201.3" x2="474.7" y2="202.9" stroke="#000" stroke-width="1.1" />
<line x1="472.5" y1="192.9" x2="479.9" y2="194.5" stroke="#000" stroke-width="1.1" />
<line x1="477.6" y1="184.8" x2="484.9" y2="186.5" stroke="#000" stroke-width="1.1" />
<line x1="482.4" y1="177.2" x2="489.6" y2="178.8" stroke="#000" stroke-width="1.1" />
<line x1="487.0" y1="169.8" x2="494.2" y2="171.4" stroke="#000" stroke-width="1.1" />
<line x1="491.5" y1="162.8" x2="498.6" y2="164.4" stroke="#000" stroke-width="1.1" />
<line x1="495.7" y1="156.1" x2="502.8" y2="157.6" stroke="#000" stroke-width="1.1" />
<line x1="446.6" y1="234.0" x2="450.9" y2="235.0" stroke="#000" stroke-width="1.1" />
<line x1="452.8" y1="224.1" x2="457.1" y2="225.0" stroke="#000" stroke-width="1.1" />
<line x1="458.8" y1="214.6" x2="463.1" y2="215.6" stroke="#000" stroke-width="1.1" />
<line x1="464.5" y1="205.6" x2="468.7" y2="206.6" stroke="#000" stroke-width="1.1" />
<line x1="469.9" y1="197.0" x2="474.1" y2="198.0" stroke="#000" stroke-width="1.1" />
<line x1="475.1" y1="188.8" x2="479.2" y2="189.7" stroke="#000" stroke-width="1.1" />
<line x1="480.0" y1="181.0" x2="484.1" y2="181.9" stroke="#000" stroke-width="1.1" />
<line x1="484.8" y1="173.5" x2="488.8" y2="174.4" stroke="#000" stroke-width="1.1" />
<line x1="489.3" y1="166.3" x2="493.3" y2="167.2" stroke="#000" stroke-width="1.1" />
<line x1="493.6" y1="159.4" x2="497.6" y2="160.3" stroke="#000" stroke-width="1.1" />
<text transform="translate(474.2 241.7) rotate(6.0) scale(1.150 0.850)" y="2.5" font-size="7.5" font-weight="bold" font-style="italic" text-anchor="middle" fill="#000" style="font-family:Liberation Sans,sans-serif">5</text>
<text transform="translate(483.3 232.6) rotate(6.0) scale(1.150 0.850)" y="2.5" font-size="7.5" font-weight="bold" font-style="italic" text-anchor="middle" fill="#000" style="font-family:Liberation Sans,sans-serif">10</text>
<text transform="translate(489.0 223.2) rotate(6.0) scale(1.150 0.850)" y="2.5" font-size="7.5" font-weight="bold" font-style="italic" text-anchor="middle" fill="#000" style="font-family:Liberation Sans,sans-serif">15</text>
<text transform="translate(493.8 213.7) rotate(6.0) scale(1.150 0.850)" y="2.5" font-size="7.5" font-weight="bold" font-style="italic" text-anchor="middle" fill="#000" style="font-family:Liberation Sans,sans-serif">20</text>
<text transform="translate(498.8 204.8) rotate(6.0) scale(1.150 0.850)" y="2.5" font-size="7.5" font-weight="bold" font-style="italic" text-anchor="middle" fill="#000" style="font-family:Liberation Sans,sans-serif">25</text>
<text transform="translate(503.7 196.4) rotate(6.0) scale(1.150 0.850)" y="2.5" font-size="7.5" font-weight="bold" font-style="italic" text-anchor="middle" fill="#000" style="font-family:Liberation Sans,sans-serif">30</text>
<text transform="translate(508.5 188.0) rotate(6.0) scale(1.150 0.850)" y="2.5" font-size="7.5" font-weight="bold" font-style="italic" text-anchor="middle" fill="#000" style="font-family:Liberation Sans,sans-serif">35</text>
<text transform="translate(513.2 180.0) rotate(6.0) scale(1.150 0.850)" y="2.5" font-size="7.5" font-weight="bold" font-style="italic" text-anchor="middle" fill="#000" style="font-family:Liberation Sans,sans-serif">40</text>
<text transform="translate(518.0 172.0) rotate(6.0) scale(1.150 0.850)" y="2.5" font-size="7.5" font-weight="bold" font-style="italic" text-anchor="middle" fill="#000" style="font-family:Liberation Sans,sans-serif">45</text>
<text transform="translate(521.6 164.8) rotate(6.0) scale(1.150 0.850)" y="2.5" font-size="7.5" font-weight="bold" font-style="italic" text-anchor="middle" fill="#000" style="font-family:Liberation Sans,sans-serif">50</text>
<text transform="translate(515.3 210.5) rotate(-55.0) scale(0.660 1.000)" y="4.1" font-size="12.5" font-weight="bold" font-style="normal" text-anchor="middle" fill="#000" >Time (ns)</text>
<line x1="495.9" y1="155.8" x2="506.8" y2="27.5" stroke="#000" stroke-width="1.1" />
<line x1="495.9" y1="155.8" x2="503.3" y2="154.7" stroke="#000" stroke-width="1.1" />
<line x1="497.2" y1="140.9" x2="504.6" y2="139.7" stroke="#000" stroke-width="1.1" />
<line x1="498.4" y1="126.0" x2="505.8" y2="124.8" stroke="#000" stroke-width="1.1" />
<line x1="499.7" y1="111.0" x2="507.1" y2="109.9" stroke="#000" stroke-width="1.1" />
<line x1="501.0" y1="96.1" x2="508.4" y2="95.0" stroke="#000" stroke-width="1.1" />
<line x1="502.2" y1="81.2" x2="509.6" y2="80.1" stroke="#000" stroke-width="1.1" />
<line x1="503.5" y1="66.3" x2="510.9" y2="65.1" stroke="#000" stroke-width="1.1" />
<line x1="504.8" y1="51.4" x2="512.2" y2="50.2" stroke="#000" stroke-width="1.1" />
<line x1="506.0" y1="36.5" x2="513.5" y2="35.3" stroke="#000" stroke-width="1.1" />
<line x1="496.5" y1="148.3" x2="500.5" y2="147.7" stroke="#000" stroke-width="1.1" />
<line x1="497.8" y1="133.4" x2="501.8" y2="132.8" stroke="#000" stroke-width="1.1" />
<line x1="499.1" y1="118.5" x2="503.0" y2="117.9" stroke="#000" stroke-width="1.1" />
<line x1="500.3" y1="103.6" x2="504.3" y2="103.0" stroke="#000" stroke-width="1.1" />
<line x1="501.6" y1="88.7" x2="505.6" y2="88.1" stroke="#000" stroke-width="1.1" />
<line x1="502.9" y1="73.7" x2="506.8" y2="73.1" stroke="#000" stroke-width="1.1" />
<line x1="504.1" y1="58.8" x2="508.1" y2="58.2" stroke="#000" stroke-width="1.1" />
<line x1="505.4" y1="43.9" x2="509.4" y2="43.3" stroke="#000" stroke-width="1.1" />
<line x1="506.7" y1="29.0" x2="510.6" y2="28.4" stroke="#000" stroke-width="1.1" />
<text transform="translate(510.6 160.0) rotate(10.0)" y="2.6" font-size="8" font-weight="bold" font-style="normal" text-anchor="middle" fill="#000" >0</text>
<text transform="translate(514.2 147.4) rotate(10.0)" y="2.6" font-size="8" font-weight="bold" font-style="normal" text-anchor="middle" fill="#000" >5k</text>
<text transform="translate(517.4 133.5) rotate(10.0)" y="2.6" font-size="8" font-weight="bold" font-style="normal" text-anchor="middle" fill="#000" >10k</text>
<text transform="translate(518.9 119.0) rotate(10.0)" y="2.6" font-size="8" font-weight="bold" font-style="normal" text-anchor="middle" fill="#000" >15k</text>
<text transform="translate(520.7 104.0) rotate(10.0)" y="2.6" font-size="8" font-weight="bold" font-style="normal" text-anchor="middle" fill="#000" >20k</text>
<text transform="translate(522.0 89.0) rotate(10.0)" y="2.6" font-size="8" font-weight="bold" font-style="normal" text-anchor="middle" fill="#000" >25k</text>
<text transform="translate(523.7 73.5) rotate(10.0)" y="2.6" font-size="8" font-weight="bold" font-style="normal" text-anchor="middle" fill="#000" >30k</text>
<text transform="translate(525.0 57.5) rotate(10.0)" y="2.6" font-size="8" font-weight="bold" font-style="normal" text-anchor="middle" fill="#000" >35k</text>
<text transform="translate(527.0 40.7) rotate(10.0)" y="2.6" font-size="8" font-weight="bold" font-style="normal" text-anchor="middle" fill="#000" >40k</text>
<text transform="translate(542.3 103.0) rotate(-78.0)" y="3.0" font-size="9.2" font-weight="bold" font-style="normal" text-anchor="middle" fill="#000" >Intensity (a.u)</text>
<text transform="translate(413.0 276.6)" y="4.5" font-size="13.5" text-anchor="middle">(<tspan font-weight="bold">b</tspan>)</text>
<polyline points="19.9,460.9 90.7,391.7 214.1,422.7" fill="none" stroke="#efefef" stroke-width="1"/>
<polyline points="18.2,443.7 90.3,376.4 215.6,406.4" fill="none" stroke="#efefef" stroke-width="1"/>
<polyline points="16.5,426.6 90.0,361.1 217.0,390.0" fill="none" stroke="#efefef" stroke-width="1"/>
<polyline points="14.8,409.5 89.7,345.8 218.5,373.7" fill="none" stroke="#efefef" stroke-width="1"/>
<polyline points="13.1,392.4 89.3,330.5 219.9,357.4" fill="none" stroke="#efefef" stroke-width="1"/>
<polyline points="11.4,375.2 89.0,315.2 221.4,341.1" fill="none" stroke="#efefef" stroke-width="1"/>
<polyline points="9.8,358.1 88.7,299.8 222.8,324.8" fill="none" stroke="#efefef" stroke-width="1"/>
<line x1="29.7" y1="469.7" x2="17.7" y2="337.8" stroke="#d2d2d2" stroke-width="0.8" />
<line x1="37.5" y1="461.8" x2="26.7" y2="331.4" stroke="#d2d2d2" stroke-width="0.8" />
<line x1="45.0" y1="454.1" x2="35.4" y2="325.3" stroke="#d2d2d2" stroke-width="0.8" />
<line x1="52.2" y1="446.6" x2="43.7" y2="319.3" stroke="#d2d2d2" stroke-width="0.8" />
<line x1="59.2" y1="439.5" x2="51.8" y2="313.6" stroke="#d2d2d2" stroke-width="0.8" />
<line x1="66.0" y1="432.6" x2="59.6" y2="308.1" stroke="#d2d2d2" stroke-width="0.8" />
<line x1="72.5" y1="425.9" x2="67.1" y2="302.7" stroke="#d2d2d2" stroke-width="0.8" />
<line x1="78.9" y1="419.4" x2="74.4" y2="297.5" stroke="#d2d2d2" stroke-width="0.8" />
<line x1="85.0" y1="413.2" x2="81.4" y2="292.5" stroke="#d2d2d2" stroke-width="0.8" />
<line x1="107.5" y1="411.3" x2="106.7" y2="290.9" stroke="#d2d2d2" stroke-width="0.8" />
<line x1="128.2" y1="416.8" x2="129.9" y2="295.0" stroke="#d2d2d2" stroke-width="0.8" />
<line x1="149.7" y1="422.4" x2="153.9" y2="299.2" stroke="#d2d2d2" stroke-width="0.8" />
<line x1="172.1" y1="428.3" x2="178.8" y2="303.7" stroke="#d2d2d2" stroke-width="0.8" />
<line x1="195.4" y1="434.4" x2="204.7" y2="308.3" stroke="#d2d2d2" stroke-width="0.8" />
<polyline points="21.6,478.0 8.4,344.4 88.4,287.6 224.0,311.7" fill="none" stroke="#444" stroke-width="0.9"/>
<line x1="91.0" y1="407.0" x2="88.4" y2="287.6" stroke="#6a6a6a" stroke-width="0.9" />
<polygon points="91.0,407.0 90.9,403.9 213.0,435.7 212.7,439.0" fill="#000000" stroke="#000000" stroke-width="0.4" stroke-linejoin="round"/>
<polygon points="90.3,407.7 90.2,404.6 212.4,436.6 212.2,439.9" fill="#b020f0" stroke="#b020f0" stroke-width="0.4" stroke-linejoin="round"/>
<polygon points="89.5,408.5 89.5,405.4 211.9,437.4 211.6,440.7" fill="#3030d8" stroke="#3030d8" stroke-width="0.4" stroke-linejoin="round"/>
<polygon points="88.8,409.3 88.7,406.1 211.3,438.3 211.0,441.6" fill="#2898a0" stroke="#2898a0" stroke-width="0.4" stroke-linejoin="round"/>
<polygon points="88.1,410.0 88.0,406.9 210.8,439.2 210.5,442.5" fill="#b07830" stroke="#b07830" stroke-width="0.4" stroke-linejoin="round"/>
<polygon points="87.3,410.8 87.2,407.6 210.2,440.0 209.9,443.4" fill="#788828" stroke="#788828" stroke-width="0.4" stroke-linejoin="round"/>
<polygon points="86.6,411.5 86.5,408.4 209.6,440.9 209.4,444.2" fill="#1c9898" stroke="#1c9898" stroke-width="0.4" stroke-linejoin="round"/>
<polygon points="85.8,412.3 85.7,409.2 209.1,441.8 208.8,445.1" fill="#38a040" stroke="#38a040" stroke-width="0.4" stroke-linejoin="round"/>
<polygon points="85.1,413.1 85.0,409.9 108.4,416.1 109.4,416.4 110.5,416.7 111.5,417.0 112.6,417.2 113.7,417.5 114.7,417.8 115.8,418.0 116.9,418.3 118.0,418.5 119.0,418.7 120.1,418.9 121.2,419.1 122.3,419.3 123.4,419.5 124.5,419.7 125.6,419.8 126.6,419.9 127.7,420.1 128.8,420.2 129.9,420.3 131.0,420.4 132.2,420.5 133.3,420.7 134.4,420.9 135.5,421.1 136.6,421.3 137.7,421.6 138.8,422.0 139.9,422.3 141.1,422.7 142.2,423.1 143.3,423.5 144.4,423.9 145.6,424.3 146.7,424.7 147.8,425.1 149.0,425.5 150.1,425.9 151.2,426.3 152.4,426.7 153.5,427.1 154.6,427.5 155.8,427.9 156.9,428.2 158.1,428.6 159.3,429.0 160.4,429.3 161.6,429.7 162.7,430.1 163.9,430.4 165.0,430.8 166.2,431.2 167.4,431.5 168.5,431.9 169.7,432.2 170.9,432.6 172.1,432.9 173.3,433.2 174.4,433.6 175.6,433.9 176.8,434.2 178.0,434.6 179.2,434.9 180.4,435.2 181.6,435.5 182.8,435.9 184.0,436.2 185.2,436.5 186.4,436.8 187.6,437.2 208.5,442.7 208.2,446.0" fill="#b01838" stroke="#b01838" stroke-width="0.4" stroke-linejoin="round"/>
<polygon points="84.3,413.8 84.2,410.7 107.2,416.8 108.2,417.1 109.3,417.4 110.4,417.6 111.4,417.9 112.5,418.2 113.6,418.4 114.6,418.7 115.7,418.9 116.8,419.2 117.9,419.4 118.9,419.6 120.0,419.8 121.1,419.9 122.2,420.1 123.3,420.2 124.4,420.4 125.5,420.5 126.6,420.6 127.7,420.6 128.8,420.7 129.9,420.8 131.0,420.9 132.1,421.0 133.2,421.2 134.3,421.4 135.4,421.7 136.6,422.0 137.7,422.3 138.8,422.7 139.9,423.1 141.0,423.5 142.2,423.9 143.3,424.4 144.4,424.8 145.5,425.2 146.7,425.6 147.8,426.0 148.9,426.4 150.1,426.8 151.2,427.2 152.4,427.6 153.5,428.0 154.6,428.4 155.8,428.8 156.9,429.2 158.1,429.6 159.2,430.0 160.4,430.3 161.6,430.7 162.7,431.1 163.9,431.5 165.1,431.8 166.2,432.2 167.4,432.5 168.6,432.9 169.7,433.2 170.9,433.6 172.1,433.9 173.3,434.3 174.5,434.6 175.7,434.9 176.9,435.3 178.0,435.6 179.2,435.9 180.4,436.3 181.6,436.6 182.8,436.9 184.0,437.2 185.3,437.6 186.5,437.9 207.9,443.6 207.7,446.9" fill="#a020e0" stroke="#a020e0" stroke-width="0.4" stroke-linejoin="round"/>
<polygon points="83.6,414.6 83.5,411.5 106.0,417.5 107.1,417.8 108.1,418.0 109.2,418.3 110.3,418.6 111.3,418.8 112.4,419.1 113.5,419.4 114.5,419.6 115.6,419.8 116.7,420.0 117.8,420.2 118.9,420.4 119.9,420.5 121.0,420.7 122.1,420.8 123.2,420.9 124.3,421.0 125.4,421.0 126.5,421.1 127.6,421.1 128.7,421.2 129.8,421.2 130.9,421.4 132.0,421.5 133.2,421.7 134.3,422.0 135.4,422.3 136.5,422.6 137.6,423.0 138.7,423.4 139.9,423.9 141.0,424.3 142.1,424.8 143.2,425.2 144.4,425.6 145.5,426.1 146.6,426.5 147.8,426.9 148.9,427.3 150.0,427.7 151.2,428.2 152.3,428.6 153.5,429.0 154.6,429.4 155.8,429.8 156.9,430.2 158.1,430.6 159.2,431.0 160.4,431.3 161.6,431.7 162.7,432.1 163.9,432.5 165.1,432.8 166.2,433.2 167.4,433.6 168.6,433.9 169.8,434.3 170.9,434.6 172.1,435.0 173.3,435.3 174.5,435.7 175.7,436.0 176.9,436.3 178.1,436.7 179.3,437.0 180.5,437.3 181.7,437.6 182.9,438.0 184.1,438.3 185.3,438.6 207.4,444.5 207.1,447.8" fill="#8f7c58" stroke="#8f7c58" stroke-width="0.4" stroke-linejoin="round"/>
<polygon points="82.8,415.4 82.7,412.2 104.8,418.2 105.9,418.4 107.0,418.7 108.0,419.0 109.1,419.3 110.2,419.5 111.2,419.8 112.3,420.0 113.4,420.2 114.4,420.5 115.5,420.7 116.6,420.8 117.7,421.0 118.8,421.1 119.9,421.2 121.0,421.3 122.1,421.4 123.1,421.4 124.2,421.5 125.3,421.5 126.4,421.5 127.6,421.5 128.7,421.5 129.8,421.6 130.9,421.8 132.0,422.0 133.1,422.2 134.2,422.5 135.3,422.8 136.5,423.2 137.6,423.7 138.7,424.2 139.8,424.6 141.0,425.1 142.1,425.6 143.2,426.0 144.3,426.5 145.5,426.9 146.6,427.4 147.8,427.8 148.9,428.2 150.0,428.7 151.2,429.1 152.3,429.5 153.5,429.9 154.6,430.3 155.8,430.8 156.9,431.2 158.1,431.6 159.2,432.0 160.4,432.3 161.6,432.7 162.7,433.1 163.9,433.5 165.1,433.9 166.2,434.2 167.4,434.6 168.6,435.0 169.8,435.3 171.0,435.7 172.1,436.0 173.3,436.4 174.5,436.7 175.7,437.0 176.9,437.4 178.1,437.7 179.3,438.0 180.5,438.4 181.7,438.7 182.9,439.0 184.1,439.3 206.8,445.4 206.5,448.7" fill="#2070c0" stroke="#2070c0" stroke-width="0.4" stroke-linejoin="round"/>
<polygon points="82.0,416.2 81.9,413.0 103.7,418.8 104.7,419.1 105.8,419.4 106.9,419.7 107.9,419.9 109.0,420.2 110.1,420.5 111.1,420.7 112.2,420.9 113.3,421.1 114.4,421.3 115.4,421.4 116.5,421.6 117.6,421.7 118.7,421.8 119.8,421.8 120.9,421.9 122.0,421.9 123.1,421.9 124.2,421.9 125.3,421.8 126.4,421.8 127.5,421.8 128.6,421.8 129.7,422.0 130.8,422.1 131.9,422.4 133.1,422.7 134.2,423.0 135.3,423.4 136.4,423.9 137.5,424.4 138.7,424.9 139.8,425.4 140.9,425.9 142.0,426.3 143.2,426.8 144.3,427.3 145.4,427.8 146.6,428.2 147.7,428.7 148.9,429.1 150.0,429.6 151.2,430.0 152.3,430.5 153.4,430.9 154.6,431.3 155.8,431.7 156.9,432.1 158.1,432.6 159.2,433.0 160.4,433.4 161.6,433.8 162.7,434.1 163.9,434.5 165.1,434.9 166.2,435.3 167.4,435.7 168.6,436.0 169.8,436.4 171.0,436.7 172.2,437.1 173.3,437.4 174.5,437.8 175.7,438.1 176.9,438.4 178.1,438.8 179.3,439.1 180.5,439.4 181.8,439.7 183.0,440.1 206.2,446.3 206.0,449.6" fill="#7f9026" stroke="#7f9026" stroke-width="0.4" stroke-linejoin="round"/>
<polygon points="81.3,417.0 81.2,413.8 102.5,419.5 103.6,419.8 104.6,420.1 105.7,420.4 106.8,420.6 107.8,420.9 108.9,421.1 110.0,421.4 111.0,421.6 112.1,421.7 113.2,421.9 114.3,422.0 115.3,422.2 116.4,422.2 117.5,422.3 118.6,422.3 119.7,422.3 120.8,422.3 121.9,422.2 123.0,422.2 124.1,422.1 125.2,422.0 126.3,421.9 127.4,422.0 128.5,422.1 129.7,422.2 130.8,422.4 131.9,422.7 133.0,423.1 134.1,423.5 135.2,424.0 136.4,424.6 137.5,425.1 138.6,425.6 139.7,426.1 140.9,426.6 142.0,427.1 143.1,427.6 144.3,428.1 145.4,428.6 146.5,429.1 147.7,429.6 148.8,430.0 150.0,430.5 151.1,431.0 152.3,431.4 153.4,431.8 154.6,432.3 155.7,432.7 156.9,433.1 158.0,433.6 159.2,434.0 160.4,434.4 161.6,434.8 162.7,435.2 163.9,435.6 165.1,436.0 166.2,436.3 167.4,436.7 168.6,437.1 169.8,437.4 171.0,437.8 172.2,438.1 173.4,438.5 174.6,438.8 175.8,439.2 177.0,439.5 178.2,439.8 179.4,440.1 180.6,440.5 181.8,440.8 205.6,447.2 205.4,450.5" fill="#1890a8" stroke="#1890a8" stroke-width="0.4" stroke-linejoin="round"/>
<polygon points="80.5,417.7 80.4,414.6 101.3,420.2 102.4,420.5 103.5,420.8 104.5,421.0 105.6,421.3 106.7,421.6 107.7,421.8 108.8,422.0 109.9,422.2 110.9,422.4 112.0,422.5 113.1,422.6 114.2,422.7 115.3,422.8 116.3,422.8 117.4,422.8 118.5,422.7 119.6,422.7 120.7,422.6 121.8,422.4 122.9,422.2 124.0,422.1 125.1,422.0 126.3,422.0 127.4,422.1 128.5,422.2 129.6,422.4 130.7,422.7 131.8,423.1 132.9,423.5 134.1,424.1 135.2,424.6 136.3,425.2 137.4,425.8 138.6,426.3 139.7,426.9 140.8,427.4 142.0,427.9 143.1,428.4 144.2,429.0 145.4,429.5 146.5,430.0 147.7,430.5 148.8,430.9 149.9,431.4 151.1,431.9 152.2,432.4 153.4,432.8 154.6,433.3 155.7,433.7 156.9,434.2 158.0,434.6 159.2,435.0 160.4,435.4 161.5,435.8 162.7,436.2 163.9,436.6 165.1,437.0 166.2,437.4 167.4,437.8 168.6,438.1 169.8,438.5 171.0,438.9 172.2,439.2 173.4,439.5 174.6,439.9 175.8,440.2 177.0,440.5 178.2,440.9 179.4,441.2 180.6,441.5 205.1,448.1 204.8,451.5" fill="#0a7a2a" stroke="#0a7a2a" stroke-width="0.4" stroke-linejoin="round"/>
<polygon points="79.7,418.5 79.6,415.4 100.2,420.9 101.2,421.2 102.3,421.5 103.3,421.7 104.4,422.0 105.5,422.2 106.5,422.5 107.6,422.7 108.7,422.9 109.8,423.0 110.8,423.1 111.9,423.2 113.0,423.3 114.1,423.3 115.2,423.3 116.3,423.2 117.3,423.1 118.4,423.0 119.5,422.8 120.6,422.6 121.7,422.4 122.8,422.1 124.0,422.0 125.1,421.9 126.2,422.0 127.3,422.1 128.4,422.3 129.5,422.6 130.7,423.0 131.8,423.4 132.9,424.0 134.0,424.6 135.1,425.2 136.3,425.8 137.4,426.4 138.5,427.0 139.7,427.6 140.8,428.1 141.9,428.7 143.1,429.2 144.2,429.8 145.3,430.3 146.5,430.8 147.6,431.3 148.8,431.9 149.9,432.3 151.1,432.8 152.2,433.3 153.4,433.8 154.5,434.3 155.7,434.7 156.8,435.2 158.0,435.6 159.2,436.0 160.3,436.5 161.5,436.9 162.7,437.3 163.9,437.7 165.0,438.1 166.2,438.5 167.4,438.8 168.6,439.2 169.8,439.6 171.0,439.9 172.2,440.3 173.4,440.6 174.6,440.9 175.8,441.3 177.0,441.6 178.2,441.9 179.4,442.3 204.5,449.0 204.2,452.4" fill="#e8102a" stroke="#e8102a" stroke-width="0.4" stroke-linejoin="round"/>
<polygon points="79.0,419.3 78.8,416.2 99.0,421.6 100.1,421.9 101.1,422.2 102.2,422.4 103.2,422.7 104.3,422.9 105.4,423.2 106.4,423.3 107.5,423.5 108.6,423.6 109.7,423.7 110.7,423.8 111.8,423.8 112.9,423.8 114.0,423.7 115.1,423.6 116.2,423.4 117.3,423.2 118.4,423.0 119.5,422.7 120.6,422.4 121.7,422.1 122.8,421.8 123.9,421.8 125.0,421.7 126.1,421.8 127.2,422.0 128.3,422.3 129.5,422.7 130.6,423.2 131.7,423.9 132.8,424.5 134.0,425.2 135.1,425.8 136.2,426.4 137.3,427.1 138.5,427.7 139.6,428.3 140.7,428.9 141.9,429.5 143.0,430.0 144.1,430.6 145.3,431.2 146.4,431.7 147.6,432.2 148.7,432.8 149.9,433.3 151.0,433.8 152.2,434.3 153.3,434.8 154.5,435.3 155.6,435.7 156.8,436.2 158.0,436.6 159.2,437.1 160.3,437.5 161.5,437.9 162.7,438.4 163.8,438.8 165.0,439.2 166.2,439.5 167.4,439.9 168.6,440.3 169.8,440.6 171.0,441.0 172.1,441.3 173.3,441.7 174.5,442.0 175.8,442.3 177.0,442.7 178.2,443.0 203.9,449.9 203.6,453.3" fill="#000000" stroke="#000000" stroke-width="0.4" stroke-linejoin="round"/>
<polygon points="78.2,420.1 78.1,417.0 97.8,422.3 98.9,422.6 100.0,422.9 101.0,423.1 102.1,423.4 103.1,423.6 104.2,423.8 105.3,424.0 106.3,424.2 107.4,424.3 108.5,424.3 109.6,424.3 110.7,424.3 111.7,424.2 112.8,424.1 113.9,423.9 115.0,423.7 116.1,423.4 117.2,423.1 118.3,422.7 119.4,422.3 120.5,421.9 121.6,421.6 122.7,421.4 123.8,421.4 124.9,421.4 126.0,421.6 127.2,421.9 128.3,422.3 129.4,422.9 130.5,423.6 131.7,424.3 132.8,425.0 133.9,425.7 135.0,426.4 136.2,427.0 137.3,427.7 138.4,428.3 139.6,429.0 140.7,429.6 141.8,430.2 143.0,430.8 144.1,431.4 145.2,432.0 146.4,432.6 147.5,433.1 148.7,433.7 149.8,434.2 151.0,434.8 152.1,435.3 153.3,435.8 154.4,436.3 155.6,436.8 156.8,437.2 157.9,437.7 159.1,438.2 160.3,438.6 161.5,439.0 162.6,439.4 163.8,439.8 165.0,440.2 166.2,440.6 167.4,441.0 168.5,441.4 169.7,441.7 170.9,442.1 172.1,442.4 173.3,442.7 174.5,443.1 175.7,443.4 176.9,443.7 203.3,450.9 203.1,454.2" fill="#b020f0" stroke="#b020f0" stroke-width="0.4" stroke-linejoin="round"/>
<polygon points="77.4,420.9 77.3,417.7 96.7,423.0 97.7,423.3 98.8,423.6 99.9,423.8 100.9,424.1 102.0,424.3 103.0,424.5 104.1,424.7 105.2,424.8 106.3,424.9 107.3,424.9 108.4,424.9 109.5,424.8 110.6,424.7 111.6,424.5 112.7,424.2 113.8,423.9 114.9,423.5 116.0,423.1 117.1,422.6 118.2,422.1 119.3,421.6 120.4,421.2 121.5,420.9 122.6,420.8 123.7,420.8 124.9,421.0 126.0,421.3 127.1,421.8 128.2,422.3 129.3,423.1 130.5,423.9 131.6,424.7 132.7,425.4 133.8,426.2 135.0,426.9 136.1,427.6 137.2,428.3 138.4,429.0 139.5,429.7 140.6,430.3 141.8,431.0 142.9,431.6 144.0,432.2 145.2,432.9 146.3,433.5 147.5,434.0 148.6,434.6 149.8,435.2 150.9,435.7 152.1,436.3 153.2,436.8 154.4,437.3 155.6,437.8 156.7,438.3 157.9,438.8 159.1,439.2 160.2,439.7 161.4,440.1 162.6,440.5 163.8,440.9 164.9,441.3 166.1,441.7 167.3,442.1 168.5,442.4 169.7,442.8 170.9,443.1 172.1,443.5 173.3,443.8 174.5,444.1 175.7,444.5 202.7,451.8 202.5,455.1" fill="#3030d8" stroke="#3030d8" stroke-width="0.4" stroke-linejoin="round"/>
<polygon points="76.6,421.7 76.5,418.5 95.5,423.7 96.6,424.0 97.6,424.3 98.7,424.5 99.8,424.8 100.8,425.0 101.9,425.2 102.9,425.3 104.0,425.4 105.1,425.5 106.2,425.4 107.2,425.4 108.3,425.2 109.4,425.0 110.5,424.8 111.5,424.4 112.6,424.0 113.7,423.6 114.8,423.0 115.9,422.4 117.0,421.8 118.1,421.1 119.2,420.6 120.3,420.3 121.4,420.1 122.5,420.0 123.7,420.2 124.8,420.5 125.9,421.0 127.0,421.7 128.1,422.5 129.3,423.4 130.4,424.2 131.5,425.0 132.6,425.8 133.8,426.6 134.9,427.4 136.0,428.1 137.2,428.9 138.3,429.6 139.4,430.3 140.6,431.0 141.7,431.7 142.8,432.4 144.0,433.1 145.1,433.7 146.3,434.3 147.4,435.0 148.6,435.6 149.7,436.1 150.9,436.7 152.0,437.3 153.2,437.8 154.3,438.3 155.5,438.9 156.7,439.4 157.8,439.8 159.0,440.3 160.2,440.7 161.3,441.2 162.5,441.6 163.7,442.0 164.9,442.4 166.1,442.8 167.3,443.2 168.4,443.5 169.6,443.9 170.8,444.2 172.0,444.5 173.2,444.9 174.4,445.2 202.1,452.7 201.9,456.1" fill="#2898a0" stroke="#2898a0" stroke-width="0.4" stroke-linejoin="round"/>
<polygon points="75.8,422.5 75.7,419.4 94.4,424.4 95.4,424.7 96.5,425.0 97.5,425.3 98.6,425.5 99.7,425.7 100.7,425.9 101.8,426.0 102.9,426.0 103.9,426.0 105.0,426.0 106.1,425.8 107.1,425.6 108.2,425.3 109.3,425.0 110.4,424.6 111.4,424.0 112.5,423.5 113.6,422.8 114.7,422.1 115.8,421.2 116.9,420.4 118.0,419.8 119.1,419.4 120.2,419.1 121.3,419.0 122.5,419.1 123.6,419.5 124.7,420.0 125.8,420.8 126.9,421.7 128.1,422.6 129.2,423.5 130.3,424.4 131.4,425.3 132.6,426.2 133.7,427.0 134.8,427.9 135.9,428.7 137.1,429.5 138.2,430.3 139.3,431.0 140.5,431.8 141.6,432.5 142.8,433.2 143.9,433.9 145.0,434.6 146.2,435.2 147.3,435.9 148.5,436.5 149.6,437.1 150.8,437.7 151.9,438.3 153.1,438.8 154.3,439.4 155.4,439.9 156.6,440.4 157.8,440.9 158.9,441.4 160.1,441.8 161.3,442.3 162.5,442.7 163.6,443.1 164.8,443.5 166.0,443.9 167.2,444.2 168.4,444.6 169.6,444.9 170.8,445.3 172.0,445.6 173.2,445.9 201.5,453.7 201.3,457.0" fill="#b07830" stroke="#b07830" stroke-width="0.4" stroke-linejoin="round"/>
<polygon points="75.0,423.3 74.9,420.2 93.3,425.2 94.3,425.5 95.4,425.7 96.4,426.0 97.5,426.2 98.5,426.4 99.6,426.5 100.6,426.6 101.7,426.6 102.8,426.6 103.8,426.5 104.9,426.3 106.0,426.0 107.0,425.6 108.1,425.1 109.2,424.6 110.3,424.0 111.3,423.2 112.4,422.4 113.5,421.5 114.6,420.5 115.7,419.5 116.8,418.7 117.9,418.2 119.0,417.8 120.1,417.7 121.3,417.7 122.4,418.1 123.5,418.8 124.6,419.6 125.7,420.6 126.9,421.7 128.0,422.7 129.1,423.7 130.2,424.6 131.4,425.6 132.5,426.5 133.6,427.4 134.7,428.3 135.9,429.2 137.0,430.0 138.1,430.9 139.3,431.7 140.4,432.5 141.5,433.2 142.7,434.0 143.8,434.7 145.0,435.4 146.1,436.1 147.3,436.8 148.4,437.5 149.6,438.1 150.7,438.7 151.9,439.3 153.0,439.9 154.2,440.5 155.3,441.0 156.5,441.5 157.7,442.0 158.8,442.5 160.0,443.0 161.2,443.4 162.4,443.8 163.5,444.2 164.7,444.6 165.9,445.0 167.1,445.3 168.3,445.7 169.5,446.0 170.7,446.3 171.9,446.7 200.9,454.6 200.7,457.9" fill="#788828" stroke="#788828" stroke-width="0.4" stroke-linejoin="round"/>
<polygon points="74.2,424.2 74.1,421.0 92.1,425.9 93.2,426.2 94.2,426.5 95.3,426.7 96.3,426.9 97.4,427.1 98.4,427.2 99.5,427.3 100.6,427.2 101.6,427.1 102.7,426.9 103.7,426.6 104.8,426.3 105.9,425.8 106.9,425.2 108.0,424.5 109.1,423.7 110.2,422.8 111.2,421.9 112.3,420.8 113.4,419.6 114.5,418.3 115.6,417.4 116.7,416.7 117.8,416.2 118.9,416.0 120.0,416.1 121.2,416.5 122.3,417.2 123.4,418.2 124.5,419.3 125.7,420.5 126.8,421.6 127.9,422.7 129.0,423.7 130.1,424.8 131.3,425.8 132.4,426.8 133.5,427.8 134.7,428.7 135.8,429.7 136.9,430.6 138.0,431.5 139.2,432.3 140.3,433.2 141.4,434.0 142.6,434.8 143.7,435.6 144.9,436.3 146.0,437.1 147.2,437.8 148.3,438.5 149.5,439.1 150.6,439.8 151.8,440.4 152.9,441.0 154.1,441.5 155.2,442.1 156.4,442.6 157.6,443.1 158.7,443.6 159.9,444.1 161.1,444.5 162.2,444.9 163.4,445.3 164.6,445.7 165.8,446.0 167.0,446.4 168.2,446.7 169.4,447.1 170.6,447.4 200.3,455.5 200.1,458.9" fill="#1c9898" stroke="#1c9898" stroke-width="0.4" stroke-linejoin="round"/>
<polygon points="73.4,425.0 73.3,421.8 91.0,426.6 92.1,426.9 93.1,427.2 94.2,427.4 95.2,427.6 96.3,427.8 97.3,427.9 98.4,427.9 99.4,427.8 100.5,427.6 101.5,427.3 102.6,427.0 103.7,426.5 104.7,425.8 105.8,425.1 106.8,424.3 107.9,423.3 109.0,422.3 110.1,421.1 111.1,419.8 112.2,418.4 113.3,416.9 114.4,415.7 115.5,414.8 116.6,414.2 117.7,414.0 118.8,414.0 120.0,414.4 121.1,415.2 122.2,416.4 123.3,417.7 124.4,419.0 125.6,420.2 126.7,421.4 127.8,422.6 128.9,423.7 130.0,424.9 131.2,426.0 132.3,427.1 133.4,428.1 134.6,429.1 135.7,430.1 136.8,431.1 137.9,432.1 139.1,433.0 140.2,433.9 141.3,434.8 142.5,435.6 143.6,436.4 144.8,437.2 145.9,438.0 147.0,438.7 148.2,439.4 149.3,440.1 150.5,440.8 151.6,441.4 152.8,442.1 153.9,442.6 155.1,443.2 156.3,443.7 157.4,444.2 158.6,444.7 159.8,445.2 160.9,445.6 162.1,446.0 163.3,446.4 164.5,446.8 165.7,447.1 166.8,447.4 168.0,447.8 169.2,448.1 199.7,456.5 199.5,459.8" fill="#38a040" stroke="#38a040" stroke-width="0.4" stroke-linejoin="round"/>
<polygon points="72.6,425.8 72.5,422.6 89.9,427.4 91.0,427.7 92.0,427.9 93.0,428.2 94.1,428.4 95.1,428.5 96.2,428.5 97.2,428.5 98.3,428.3 99.3,428.1 100.4,427.7 101.5,427.2 102.5,426.6 103.6,425.8 104.6,424.9 105.7,423.9 106.7,422.8 107.8,421.5 108.9,420.1 109.9,418.5 111.0,416.8 112.1,415.0 113.2,413.6 114.3,412.5 115.4,411.8 116.5,411.5 117.6,411.5 118.7,412.0 119.8,412.9 121.0,414.3 122.1,415.7 123.2,417.1 124.3,418.5 125.4,419.8 126.6,421.1 127.7,422.4 128.8,423.7 129.9,424.9 131.1,426.1 132.2,427.3 133.3,428.4 134.4,429.5 135.6,430.6 136.7,431.6 137.8,432.6 139.0,433.6 140.1,434.6 141.2,435.5 142.3,436.4 143.5,437.3 144.6,438.1 145.8,438.9 146.9,439.7 148.0,440.5 149.2,441.2 150.3,441.9 151.5,442.5 152.6,443.2 153.8,443.8 154.9,444.3 156.1,444.9 157.3,445.4 158.4,445.8 159.6,446.3 160.8,446.7 161.9,447.1 163.1,447.5 164.3,447.8 165.5,448.2 166.7,448.5 167.9,448.8 199.1,457.4 198.9,460.8" fill="#b01838" stroke="#b01838" stroke-width="0.4" stroke-linejoin="round"/>
<polygon points="71.8,426.6 71.7,423.4 88.8,428.2 89.9,428.4 90.9,428.7 92.0,428.9 93.0,429.1 94.1,429.2 95.1,429.2 96.1,429.1 97.2,428.8 98.2,428.5 99.3,428.0 100.3,427.3 101.4,426.6 102.4,425.6 103.5,424.6 104.5,423.3 105.6,422.0 106.6,420.4 107.7,418.7 108.7,416.9 109.8,414.9 110.9,412.8 112.0,411.0 113.1,409.7 114.2,408.8 115.3,408.4 116.4,408.5 117.5,409.0 118.6,410.1 119.7,411.7 120.9,413.3 122.0,414.9 123.1,416.4 124.2,417.9 125.3,419.4 126.5,420.8 127.6,422.2 128.7,423.6 129.8,424.9 130.9,426.2 132.1,427.4 133.2,428.7 134.3,429.9 135.4,431.0 136.6,432.1 137.7,433.2 138.8,434.3 139.9,435.3 141.1,436.3 142.2,437.2 143.3,438.2 144.5,439.0 145.6,439.9 146.7,440.7 147.9,441.5 149.0,442.2 150.2,442.9 151.3,443.6 152.5,444.3 153.6,444.9 154.8,445.4 155.9,446.0 157.1,446.5 158.2,447.0 159.4,447.4 160.6,447.8 161.8,448.2 162.9,448.5 164.1,448.9 165.3,449.2 166.5,449.5 198.5,458.4 198.3,461.7" fill="#a020e0" stroke="#a020e0" stroke-width="0.4" stroke-linejoin="round"/>
<polygon points="71.0,427.5 70.9,424.2 87.8,428.9 88.8,429.2 89.9,429.4 90.9,429.7 91.9,429.8 93.0,429.9 94.0,429.8 95.0,429.6 96.1,429.3 97.1,428.8 98.2,428.2 99.2,427.4 100.2,426.4 101.3,425.3 102.3,424.0 103.3,422.5 104.4,420.9 105.4,419.1 106.5,417.1 107.5,414.9 108.6,412.5 109.7,410.0 110.7,407.8 111.8,406.2 112.9,405.1 114.0,404.7 115.1,404.8 116.2,405.5 117.4,406.9 118.5,408.7 119.6,410.5 120.7,412.2 121.8,413.9 123.0,415.6 124.1,417.2 125.2,418.8 126.3,420.4 127.5,421.9 128.6,423.4 129.7,424.8 130.8,426.2 131.9,427.6 133.0,428.9 134.2,430.2 135.3,431.4 136.4,432.6 137.5,433.8 138.7,434.9 139.8,436.0 140.9,437.1 142.0,438.1 143.2,439.0 144.3,440.0 145.4,440.9 146.6,441.7 147.7,442.5 148.8,443.3 150.0,444.0 151.1,444.7 152.3,445.4 153.4,446.0 154.6,446.6 155.7,447.1 156.9,447.6 158.0,448.1 159.2,448.5 160.3,448.9 161.5,449.2 162.7,449.6 163.9,449.9 165.0,450.3 197.9,459.3 197.7,462.7" fill="#8f7c58" stroke="#8f7c58" stroke-width="0.4" stroke-linejoin="round"/>
<polygon points="70.2,428.3 70.0,425.1 86.8,429.7 87.8,430.0 88.8,430.2 89.9,430.4 90.9,430.5 91.9,430.5 92.9,430.4 94.0,430.1 95.0,429.7 96.0,429.1 97.0,428.3 98.1,427.3 99.1,426.1 100.1,424.7 101.2,423.1 102.2,421.4 103.2,419.4 104.3,417.3 105.3,414.9 106.3,412.4 107.4,409.6 108.4,406.6 109.5,404.0 110.6,402.0 111.7,400.7 112.8,400.1 113.9,400.3 115.0,401.3 116.1,403.0 117.2,405.1 118.4,407.1 119.5,409.0 120.6,410.9 121.7,412.8 122.8,414.6 124.0,416.4 125.1,418.2 126.2,419.9 127.3,421.5 128.4,423.1 129.5,424.7 130.7,426.2 131.8,427.7 132.9,429.1 134.0,430.5 135.1,431.8 136.2,433.1 137.3,434.4 138.5,435.6 139.6,436.7 140.7,437.8 141.8,438.9 142.9,439.9 144.1,440.9 145.2,441.9 146.3,442.7 147.5,443.6 148.6,444.4 149.7,445.1 150.9,445.9 152.0,446.5 153.1,447.1 154.3,447.7 155.4,448.2 156.6,448.7 157.7,449.2 158.9,449.6 160.1,449.9 161.2,450.3 162.4,450.6 163.6,451.0 197.3,460.3 197.1,463.7" fill="#2070c0" stroke="#2070c0" stroke-width="0.4" stroke-linejoin="round"/>
<polygon points="69.4,429.1 69.2,425.9 85.8,430.5 86.8,430.8 87.8,431.0 88.8,431.2 89.9,431.2 90.9,431.2 91.9,431.0 92.9,430.6 93.9,430.0 95.0,429.2 96.0,428.2 97.0,427.0 98.0,425.5 99.0,423.9 100.0,422.0 101.0,419.9 102.1,417.6 103.1,415.1 104.1,412.3 105.1,409.3 106.1,406.1 107.2,402.6 108.2,399.3 109.3,396.8 110.4,395.3 111.5,394.7 112.6,395.0 113.7,396.2 114.8,398.5 116.0,400.8 117.1,403.1 118.2,405.2 119.3,407.4 120.5,409.5 121.6,411.5 122.7,413.5 123.8,415.5 124.9,417.4 126.0,419.2 127.1,421.0 128.2,422.8 129.4,424.5 130.5,426.1 131.6,427.7 132.7,429.3 133.8,430.7 134.9,432.2 136.0,433.6 137.1,434.9 138.2,436.2 139.4,437.4 140.5,438.6 141.6,439.8 142.7,440.8 143.8,441.9 144.9,442.9 146.1,443.8 147.2,444.7 148.3,445.5 149.4,446.3 150.6,447.0 151.7,447.7 152.8,448.3 154.0,448.8 155.1,449.4 156.3,449.8 157.4,450.3 158.6,450.6 159.7,451.0 160.9,451.3 162.0,451.7 196.6,461.3 196.4,464.6" fill="#7f9026" stroke="#7f9026" stroke-width="0.4" stroke-linejoin="round"/>
<polygon points="68.6,430.0 68.4,426.7 84.8,431.3 85.8,431.6 86.9,431.8 87.9,431.9 88.9,432.0 89.9,431.8 90.9,431.5 91.9,430.9 92.9,430.2 93.9,429.1 94.9,427.9 95.9,426.4 96.9,424.7 97.9,422.7 98.9,420.4 99.9,418.0 100.9,415.2 101.9,412.2 102.9,409.0 103.9,405.5 104.9,401.7 105.9,397.6 107.0,393.6 108.0,390.6 109.1,388.7 110.2,388.0 111.3,388.7 112.4,390.6 113.6,393.2 114.7,395.8 115.8,398.4 116.9,400.8 118.0,403.2 119.2,405.6 120.3,407.9 121.4,410.1 122.5,412.3 123.6,414.4 124.7,416.5 125.8,418.5 126.9,420.4 128.0,422.3 129.1,424.2 130.3,426.0 131.4,427.7 132.5,429.4 133.6,431.0 134.7,432.5 135.8,434.0 136.9,435.4 138.0,436.8 139.1,438.1 140.2,439.4 141.3,440.6 142.4,441.8 143.5,442.8 144.6,443.9 145.7,444.8 146.9,445.7 148.0,446.6 149.1,447.4 150.2,448.1 151.4,448.8 152.5,449.4 153.6,450.0 154.7,450.5 155.9,450.9 157.0,451.3 158.2,451.7 159.3,452.0 160.5,452.3 196.0,462.2 195.8,465.6" fill="#1890a8" stroke="#1890a8" stroke-width="0.4" stroke-linejoin="round"/>
<polygon points="67.7,430.8 67.6,427.6 83.9,432.1 84.9,432.4 85.9,432.6 86.9,432.7 87.9,432.7 88.9,432.4 89.9,431.9 90.9,431.2 91.9,430.1 92.9,428.9 93.9,427.3 94.8,425.5 95.8,423.4 96.8,421.1 97.8,418.4 98.7,415.5 99.7,412.2 100.7,408.7 101.7,404.9 102.7,400.8 103.7,396.4 104.7,391.6 105.7,386.6 106.7,383.0 107.8,380.8 108.9,380.2 110.0,381.4 111.1,384.1 112.3,387.1 113.4,390.0 114.5,392.8 115.6,395.6 116.7,398.3 117.9,400.9 119.0,403.5 120.1,406.0 121.2,408.5 122.3,410.9 123.4,413.2 124.5,415.4 125.6,417.6 126.7,419.8 127.8,421.8 128.9,423.8 130.0,425.7 131.1,427.6 132.2,429.4 133.3,431.1 134.4,432.8 135.5,434.4 136.6,436.0 137.7,437.4 138.8,438.8 139.9,440.2 141.0,441.4 142.1,442.7 143.2,443.8 144.3,444.9 145.4,445.9 146.5,446.8 147.6,447.7 148.7,448.5 149.8,449.3 150.9,449.9 152.1,450.5 153.2,451.1 154.3,451.6 155.4,452.0 156.6,452.3 157.7,452.7 158.8,453.0 195.4,463.2 195.2,466.6" fill="#4080b0" stroke="#4080b0" stroke-width="0.4" stroke-linejoin="round"/>
<polygon points="66.9,431.6 66.7,428.4 83.1,433.0 84.1,433.2 85.1,433.4 86.0,433.5 87.0,433.3 88.0,432.9 89.0,432.2 89.9,431.2 90.9,429.9 91.9,428.3 92.8,426.4 93.8,424.2 94.7,421.7 95.7,418.9 96.7,415.7 97.6,412.2 98.6,408.4 99.5,404.3 100.5,399.8 101.4,395.0 102.4,389.9 103.4,384.4 104.4,378.5 105.4,373.7 106.4,371.1 107.5,370.9 108.6,373.2 109.8,376.6 110.9,379.9 112.1,383.2 113.2,386.4 114.3,389.5 115.4,392.5 116.5,395.5 117.7,398.4 118.8,401.2 119.9,404.0 121.0,406.7 122.1,409.3 123.2,411.8 124.3,414.2 125.4,416.6 126.5,418.9 127.5,421.2 128.6,423.3 129.7,425.4 130.8,427.5 131.9,429.4 133.0,431.3 134.1,433.1 135.2,434.8 136.2,436.4 137.3,438.0 138.4,439.5 139.5,440.9 140.6,442.3 141.7,443.5 142.8,444.7 143.9,445.9 144.9,446.9 146.0,447.9 147.1,448.8 148.2,449.6 149.3,450.4 150.5,451.0 151.5,451.6 152.7,452.2 153.8,452.6 154.9,453.0 156.0,453.3 157.1,453.7 194.8,464.2 194.6,467.6" fill="#909020" stroke="#909020" stroke-width="0.4" stroke-linejoin="round"/>
<polygon points="66.1,432.5 65.9,429.3 82.3,433.8 83.2,434.1 84.2,434.2 85.2,434.2 86.2,433.8 87.1,433.2 88.1,432.2 89.0,430.9 90.0,429.2 90.9,427.3 91.8,424.9 92.8,422.2 93.7,419.2 94.6,415.9 95.6,412.1 96.5,408.0 97.4,403.5 98.3,398.7 99.3,393.5 100.2,387.8 101.1,381.8 102.1,375.5 103.0,368.8 104.0,362.3 105.0,359.5 106.1,360.3 107.3,364.1 108.4,367.9 109.6,371.6 110.7,375.3 111.8,378.9 113.0,382.4 114.1,385.8 115.2,389.1 116.3,392.4 117.4,395.6 118.5,398.6 119.6,401.7 120.7,404.6 121.8,407.4 122.9,410.2 124.0,412.9 125.1,415.5 126.1,417.9 127.2,420.4 128.3,422.7 129.4,425.0 130.5,427.2 131.5,429.3 132.6,431.3 133.7,433.2 134.7,435.1 135.8,436.8 136.9,438.5 138.0,440.1 139.0,441.6 140.1,443.0 141.2,444.4 142.3,445.7 143.3,446.8 144.4,447.9 145.5,448.9 146.6,449.9 147.7,450.7 148.8,451.5 149.9,452.1 151.0,452.7 152.1,453.2 153.2,453.6 154.3,454.0 155.4,454.3 194.2,465.2 194.0,468.6" fill="#30b060" stroke="#30b060" stroke-width="0.4" stroke-linejoin="round"/>
<polygon points="65.2,433.3 65.1,430.1 81.5,434.7 82.5,435.0 83.5,435.0 84.4,434.7 85.4,434.1 86.3,433.1 87.2,431.8 88.1,430.1 89.1,428.0 90.0,425.6 90.9,422.8 91.8,419.5 92.7,415.9 93.6,411.8 94.4,407.4 95.3,402.5 96.2,397.3 97.1,391.6 98.0,385.5 98.9,379.0 99.8,372.0 100.7,364.6 101.6,356.9 102.6,348.8 103.6,345.6 104.7,349.2 105.9,353.6 107.0,357.9 108.2,362.1 109.3,366.2 110.5,370.2 111.6,374.1 112.7,378.0 113.8,381.7 114.9,385.3 116.0,388.9 117.1,392.3 118.2,395.7 119.3,399.0 120.4,402.2 121.5,405.3 122.6,408.3 123.6,411.2 124.7,414.0 125.8,416.7 126.8,419.4 127.9,421.9 129.0,424.4 130.0,426.7 131.1,429.0 132.2,431.2 133.2,433.2 134.3,435.2 135.3,437.1 136.4,438.9 137.4,440.6 138.5,442.2 139.6,443.8 140.6,445.2 141.7,446.5 142.7,447.7 143.8,448.9 144.9,449.9 145.9,450.9 147.0,451.7 148.1,452.5 149.2,453.2 150.3,453.7 151.3,454.2 152.4,454.6 153.5,454.9 193.5,466.1 193.3,469.5" fill="#50c8d8" stroke="#50c8d8" stroke-width="0.4" stroke-linejoin="round"/>
<polygon points="64.4,434.2 64.2,431.0 80.2,435.4 81.2,435.7 82.1,435.8 83.1,435.8 84.1,435.4 85.0,434.8 86.0,433.8 86.9,432.5 87.9,430.8 88.8,428.8 89.7,426.5 90.7,423.8 91.6,420.8 92.5,417.4 93.4,413.6 94.3,409.5 95.3,405.0 96.2,400.1 97.1,394.9 98.0,389.3 98.9,383.2 99.9,376.8 100.8,370.1 101.8,363.7 102.8,360.8 103.9,361.6 105.1,365.4 106.2,369.3 107.4,373.0 108.5,376.7 109.7,380.3 110.8,383.8 111.9,387.2 113.0,390.6 114.2,393.8 115.3,397.0 116.4,400.1 117.5,403.2 118.6,406.1 119.7,408.9 120.8,411.7 121.9,414.4 123.0,417.0 124.1,419.5 125.2,422.0 126.2,424.3 127.3,426.6 128.4,428.8 129.5,430.9 130.6,432.9 131.7,434.9 132.7,436.7 133.8,438.5 134.9,440.2 136.0,441.8 137.1,443.3 138.1,444.7 139.2,446.1 140.3,447.3 141.4,448.5 142.5,449.6 143.6,450.6 144.6,451.6 145.7,452.4 146.8,453.2 147.9,453.9 149.0,454.4 150.1,454.9 151.2,455.4 152.3,455.7 153.4,456.0 192.9,467.1 192.7,470.5" fill="#20c050" stroke="#20c050" stroke-width="0.4" stroke-linejoin="round"/>
<polygon points="63.6,435.1 63.4,431.8 78.7,436.1 79.7,436.4 80.7,436.6 81.7,436.7 82.7,436.6 83.7,436.2 84.7,435.6 85.6,434.7 86.6,433.5 87.6,432.1 88.5,430.3 89.5,428.3 90.4,426.0 91.4,423.3 92.3,420.4 93.3,417.1 94.2,413.5 95.2,409.6 96.1,405.4 97.1,400.9 98.1,396.0 99.0,390.9 100.0,385.3 101.0,381.0 102.0,378.6 103.1,378.3 104.3,379.9 105.4,383.2 106.6,386.3 107.7,389.5 108.9,392.5 110.0,395.5 111.2,398.4 112.3,401.3 113.4,404.1 114.6,406.8 115.7,409.4 116.8,412.0 117.9,414.5 119.0,416.9 120.1,419.3 121.3,421.5 122.4,423.8 123.5,425.9 124.6,428.0 125.7,430.0 126.8,431.9 127.9,433.8 129.0,435.6 130.1,437.3 131.2,439.0 132.3,440.6 133.4,442.1 134.5,443.5 135.6,444.9 136.7,446.2 137.8,447.4 138.9,448.5 140.1,449.6 141.2,450.6 142.3,451.6 143.4,452.5 144.5,453.2 145.6,454.0 146.7,454.6 147.8,455.2 149.0,455.7 150.1,456.2 151.2,456.5 152.4,456.9 153.5,457.2 192.3,468.1 192.1,471.5" fill="#a08028" stroke="#a08028" stroke-width="0.4" stroke-linejoin="round"/>
<polygon points="62.7,435.9 62.5,432.7 77.6,436.9 78.6,437.2 79.6,437.4 80.6,437.5 81.6,437.5 82.6,437.2 83.6,436.8 84.6,436.0 85.6,435.0 86.6,433.8 87.6,432.3 88.5,430.5 89.5,428.4 90.5,426.0 91.4,423.4 92.4,420.5 93.4,417.3 94.3,413.8 95.3,410.0 96.2,405.9 97.2,401.5 98.2,396.8 99.2,391.9 100.2,388.2 101.2,386.1 102.3,385.5 103.4,386.6 104.6,389.3 105.8,392.3 106.9,395.2 108.1,398.0 109.2,400.8 110.4,403.5 111.5,406.1 112.6,408.7 113.8,411.2 114.9,413.7 116.0,416.0 117.2,418.4 118.3,420.6 119.4,422.8 120.5,424.9 121.7,427.0 122.8,429.0 123.9,430.9 125.0,432.8 126.1,434.6 127.3,436.3 128.4,438.0 129.5,439.6 130.6,441.1 131.7,442.6 132.8,444.0 133.9,445.3 135.0,446.6 136.2,447.8 137.3,449.0 138.4,450.1 139.5,451.1 140.6,452.0 141.8,452.9 142.9,453.7 144.0,454.5 145.1,455.1 146.3,455.7 147.4,456.3 148.5,456.8 149.7,457.2 150.8,457.6 152.0,457.9 153.1,458.3 191.6,469.1 191.4,472.5" fill="#4878a8" stroke="#4878a8" stroke-width="0.4" stroke-linejoin="round"/>
<polygon points="61.9,436.8 61.7,433.5 76.0,437.6 77.1,437.9 78.1,438.1 79.1,438.3 80.2,438.4 81.2,438.4 82.2,438.2 83.2,437.8 84.3,437.3 85.3,436.5 86.3,435.6 87.3,434.4 88.3,433.1 89.3,431.5 90.3,429.7 91.3,427.7 92.3,425.5 93.3,423.0 94.3,420.3 95.3,417.4 96.3,414.3 97.4,411.0 98.4,407.8 99.4,405.5 100.5,404.0 101.6,403.4 102.7,403.7 103.9,404.9 105.0,407.0 106.2,409.3 107.3,411.5 108.5,413.7 109.6,415.8 110.8,417.8 111.9,419.8 113.1,421.8 114.2,423.7 115.4,425.6 116.5,427.4 117.7,429.1 118.8,430.9 119.9,432.5 121.1,434.1 122.2,435.7 123.4,437.2 124.5,438.7 125.6,440.1 126.8,441.5 127.9,442.8 129.0,444.1 130.2,445.3 131.3,446.5 132.5,447.6 133.6,448.7 134.7,449.7 135.9,450.6 137.0,451.6 138.2,452.4 139.3,453.3 140.5,454.0 141.6,454.7 142.8,455.4 143.9,456.0 145.1,456.6 146.2,457.1 147.4,457.6 148.6,458.0 149.7,458.4 150.9,458.8 152.1,459.1 153.2,459.5 191.0,470.1 190.8,473.5" fill="#901010" stroke="#901010" stroke-width="0.4" stroke-linejoin="round"/>
<polygon points="61.0,437.7 60.8,434.4 74.7,438.3 75.7,438.6 76.8,438.9 77.8,439.1 78.9,439.3 79.9,439.4 81.0,439.3 82.0,439.2 83.1,438.9 84.1,438.5 85.1,437.9 86.2,437.2 87.2,436.3 88.2,435.2 89.3,434.0 90.3,432.7 91.3,431.1 92.4,429.4 93.4,427.5 94.5,425.5 95.5,423.3 96.5,420.9 97.6,418.9 98.7,417.4 99.8,416.4 100.9,415.9 102.0,416.0 103.1,416.7 104.3,418.0 105.4,419.7 106.6,421.5 107.8,423.2 108.9,424.9 110.1,426.5 111.2,428.1 112.4,429.6 113.5,431.1 114.7,432.6 115.8,434.0 117.0,435.4 118.1,436.8 119.3,438.1 120.5,439.4 121.6,440.7 122.8,441.9 123.9,443.1 125.1,444.2 126.2,445.3 127.4,446.4 128.5,447.4 129.7,448.4 130.8,449.4 132.0,450.3 133.1,451.2 134.3,452.0 135.5,452.8 136.6,453.6 137.8,454.3 139.0,455.0 140.1,455.6 141.3,456.3 142.5,456.8 143.6,457.4 144.8,457.9 146.0,458.3 147.2,458.8 148.4,459.2 149.6,459.5 150.7,459.9 151.9,460.2 153.1,460.6 190.3,471.1 190.2,474.5" fill="#8000e0" stroke="#8000e0" stroke-width="0.4" stroke-linejoin="round"/>
<polygon points="60.2,438.5 60.0,435.3 73.1,439.0 74.2,439.3 75.3,439.6 76.3,439.9 77.4,440.1 78.5,440.3 79.6,440.5 80.6,440.6 81.7,440.6 82.8,440.6 83.9,440.5 84.9,440.3 86.0,440.0 87.1,439.6 88.2,439.2 89.2,438.6 90.3,438.0 91.4,437.3 92.5,436.5 93.6,435.6 94.6,434.6 95.7,433.6 96.8,432.8 97.9,432.2 99.1,431.9 100.2,431.8 101.3,431.8 102.5,432.3 103.6,432.9 104.8,433.8 105.9,434.8 107.1,435.9 108.2,436.9 109.4,437.9 110.6,438.9 111.7,439.9 112.9,440.9 114.0,441.8 115.2,442.7 116.4,443.6 117.5,444.5 118.7,445.4 119.9,446.2 121.0,447.0 122.2,447.8 123.4,448.6 124.6,449.4 125.7,450.1 126.9,450.8 128.1,451.5 129.3,452.2 130.4,452.9 131.6,453.5 132.8,454.1 134.0,454.7 135.2,455.3 136.4,455.9 137.5,456.4 138.7,456.9 139.9,457.4 141.1,457.9 142.3,458.3 143.5,458.8 144.7,459.2 145.9,459.6 147.2,460.0 148.4,460.4 149.6,460.7 150.8,461.1 152.0,461.4 153.2,461.8 189.7,472.2 189.5,475.6" fill="#1010a0" stroke="#1010a0" stroke-width="0.4" stroke-linejoin="round"/>
<polygon points="59.3,439.4 59.1,436.1 71.9,439.8 73.0,440.1 74.1,440.4 75.2,440.7 76.2,441.0 77.3,441.2 78.4,441.5 79.5,441.7 80.6,441.9 81.7,442.0 82.8,442.1 83.9,442.2 85.0,442.2 86.1,442.2 87.2,442.1 88.3,442.0 89.4,441.9 90.5,441.7 91.6,441.4 92.7,441.1 93.8,440.8 94.9,440.5 96.0,440.2 97.2,440.2 98.3,440.2 99.4,440.2 100.6,440.4 101.7,440.8 102.9,441.2 104.0,441.7 105.2,442.5 106.3,443.2 107.5,443.8 108.7,444.5 109.8,445.2 111.0,445.9 112.2,446.5 113.3,447.1 114.5,447.8 115.7,448.4 116.8,449.0 118.0,449.6 119.2,450.2 120.4,450.8 121.6,451.4 122.7,451.9 123.9,452.5 125.1,453.0 126.3,453.6 127.5,454.1 128.7,454.6 129.9,455.1 131.1,455.6 132.3,456.1 133.5,456.5 134.7,457.0 135.9,457.5 137.1,457.9 138.3,458.3 139.5,458.8 140.7,459.2 141.9,459.6 143.1,460.0 144.3,460.4 145.6,460.7 146.8,461.1 148.0,461.5 149.3,461.8 150.5,462.2 151.7,462.5 153.0,462.9 189.0,473.2 188.9,476.6" fill="#107020" stroke="#107020" stroke-width="0.4" stroke-linejoin="round"/>
<polygon points="58.4,440.3 58.3,437.0 70.8,440.6 71.9,440.9 73.0,441.2 74.1,441.5 75.2,441.8 76.3,442.1 77.4,442.4 78.5,442.7 79.6,443.0 80.7,443.2 81.8,443.4 82.9,443.6 84.0,443.8 85.2,444.0 86.3,444.2 87.4,444.3 88.5,444.4 89.6,444.5 90.7,444.6 91.9,444.7 93.0,444.7 94.1,444.8 95.3,444.9 96.4,445.0 97.5,445.2 98.7,445.4 99.8,445.7 101.0,446.0 102.1,446.4 103.3,446.8 104.4,447.3 105.6,447.8 106.8,448.3 107.9,448.7 109.1,449.2 110.3,449.7 111.4,450.2 112.6,450.6 113.8,451.1 115.0,451.6 116.1,452.0 117.3,452.5 118.5,452.9 119.7,453.4 120.9,453.8 122.1,454.2 123.2,454.7 124.4,455.1 125.6,455.5 126.8,455.9 128.0,456.4 129.2,456.8 130.4,457.2 131.6,457.6 132.8,458.0 134.1,458.4 135.3,458.8 136.5,459.2 137.7,459.6 138.9,459.9 140.1,460.3 141.4,460.7 142.6,461.1 143.8,461.4 145.1,461.8 146.3,462.2 147.5,462.5 148.8,462.9 150.0,463.2 151.2,463.6 152.5,463.9 188.4,474.2 188.2,477.6" fill="#e00020" stroke="#e00020" stroke-width="0.4" stroke-linejoin="round"/>
<polygon points="57.6,441.2 57.4,437.9 69.9,441.5 71.0,441.8 72.1,442.1 73.2,442.4 74.3,442.7 75.4,443.0 76.5,443.3 77.6,443.6 78.7,443.9 79.8,444.2 80.9,444.5 82.0,444.8 83.2,445.1 84.3,445.3 85.4,445.6 86.5,445.8 87.7,446.1 88.8,446.3 89.9,446.5 91.0,446.8 92.2,447.0 93.3,447.2 94.5,447.4 95.6,447.7 96.7,448.0 97.9,448.2 99.0,448.6 100.2,448.9 101.3,449.2 102.5,449.6 103.7,450.0 104.8,450.4 106.0,450.8 107.2,451.2 108.3,451.6 109.5,452.0 110.7,452.3 111.8,452.7 113.0,453.1 114.2,453.5 115.4,453.9 116.6,454.3 117.8,454.7 118.9,455.0 120.1,455.4 121.3,455.8 122.5,456.2 123.7,456.6 124.9,456.9 126.1,457.3 127.3,457.7 128.5,458.1 129.7,458.4 130.9,458.8 132.2,459.2 133.4,459.5 134.6,459.9 135.8,460.3 137.0,460.6 138.3,461.0 139.5,461.4 140.7,461.7 141.9,462.1 143.2,462.5 144.4,462.8 145.7,463.2 146.9,463.5 148.2,463.9 149.4,464.2 150.6,464.6 151.9,465.0 187.7,475.2 187.6,478.6" fill="#8f7c58" stroke="#8f7c58" stroke-width="0.4" stroke-linejoin="round"/>
<polygon points="56.7,442.1 56.5,438.8 69.0,442.4 70.1,442.7 71.2,443.0 72.3,443.3 73.4,443.6 74.5,443.9 75.6,444.3 76.7,444.6 77.8,444.9 78.9,445.2 80.1,445.5 81.2,445.8 82.3,446.1 83.4,446.4 84.6,446.7 85.7,447.0 86.8,447.3 88.0,447.6 89.1,447.9 90.2,448.2 91.4,448.5 92.5,448.8 93.6,449.1 94.8,449.4 95.9,449.7 97.1,450.0 98.2,450.3 99.4,450.7 100.6,451.0 101.7,451.4 102.9,451.7 104.0,452.1 105.2,452.4 106.4,452.8 107.5,453.1 108.7,453.5 109.9,453.8 111.1,454.2 112.3,454.5 113.4,454.9 114.6,455.3 115.8,455.6 117.0,456.0 118.2,456.3 119.4,456.7 120.6,457.0 121.8,457.4 123.0,457.7 124.2,458.1 125.4,458.5 126.6,458.8 127.8,459.2 129.0,459.5 130.2,459.9 131.4,460.2 132.7,460.6 133.9,461.0 135.1,461.3 136.3,461.7 137.5,462.0 138.8,462.4 140.0,462.7 141.3,463.1 142.5,463.5 143.7,463.8 145.0,464.2 146.2,464.5 147.5,464.9 148.7,465.2 150.0,465.6 151.2,466.0 187.1,476.2 186.9,479.7" fill="#2070c0" stroke="#2070c0" stroke-width="0.4" stroke-linejoin="round"/>
<polygon points="55.8,443.0 55.6,439.7 186.4,477.3 186.3,480.7" fill="#7f9026" stroke="#7f9026" stroke-width="0.4" stroke-linejoin="round"/>
<polygon points="55.0,443.9 54.7,440.6 185.7,478.3 185.6,481.7" fill="#1890a8" stroke="#1890a8" stroke-width="0.4" stroke-linejoin="round"/>
<polygon points="54.1,444.8 53.9,441.5 185.1,479.4 184.9,482.8" fill="#0a7a2a" stroke="#0a7a2a" stroke-width="0.4" stroke-linejoin="round"/>
<polygon points="53.2,445.7 53.0,442.4 184.4,480.4 184.3,483.8" fill="#e8102a" stroke="#e8102a" stroke-width="0.4" stroke-linejoin="round"/>
<polygon points="52.3,446.6 52.1,443.3 183.7,481.5 183.6,484.9" fill="#000000" stroke="#000000" stroke-width="0.4" stroke-linejoin="round"/>
<polygon points="51.4,447.5 51.2,444.2 183.1,482.5 182.9,486.0" fill="#b020f0" stroke="#b020f0" stroke-width="0.4" stroke-linejoin="round"/>
<polygon points="50.5,448.4 50.3,445.1 182.4,483.6 182.2,487.0" fill="#3030d8" stroke="#3030d8" stroke-width="0.4" stroke-linejoin="round"/>
<polygon points="49.6,449.3 49.4,446.0 181.7,484.6 181.6,488.1" fill="#2898a0" stroke="#2898a0" stroke-width="0.4" stroke-linejoin="round"/>
<polygon points="48.7,450.3 48.5,446.9 181.0,485.7 180.9,489.2" fill="#b07830" stroke="#b07830" stroke-width="0.4" stroke-linejoin="round"/>
<polygon points="47.8,451.2 47.6,447.9 180.3,486.8 180.2,490.2" fill="#788828" stroke="#788828" stroke-width="0.4" stroke-linejoin="round"/>
<polygon points="46.9,452.1 46.6,448.8 179.6,487.9 179.5,491.3" fill="#1c9898" stroke="#1c9898" stroke-width="0.4" stroke-linejoin="round"/>
<polygon points="46.0,453.1 45.7,449.7 178.9,489.0 178.8,492.4" fill="#38a040" stroke="#38a040" stroke-width="0.4" stroke-linejoin="round"/>
<polygon points="45.0,454.0 44.8,450.7 178.2,490.0 178.1,493.5" fill="#b01838" stroke="#b01838" stroke-width="0.4" stroke-linejoin="round"/>
<polygon points="44.1,455.0 43.9,451.6 177.5,491.1 177.4,494.6" fill="#a020e0" stroke="#a020e0" stroke-width="0.4" stroke-linejoin="round"/>
<polygon points="43.2,455.9 42.9,452.6 176.8,492.2 176.7,495.7" fill="#8f7c58" stroke="#8f7c58" stroke-width="0.4" stroke-linejoin="round"/>
<polygon points="42.2,456.9 42.0,453.5 176.1,493.3 176.0,496.8" fill="#2070c0" stroke="#2070c0" stroke-width="0.4" stroke-linejoin="round"/>
<polygon points="41.3,457.8 41.0,454.5 175.4,494.5 175.3,497.9" fill="#7f9026" stroke="#7f9026" stroke-width="0.4" stroke-linejoin="round"/>
<polygon points="40.4,458.8 40.1,455.4 174.7,495.6 174.6,499.0" fill="#1890a8" stroke="#1890a8" stroke-width="0.4" stroke-linejoin="round"/>
<polygon points="39.4,459.8 39.1,456.4 174.0,496.7 173.9,500.2" fill="#0a7a2a" stroke="#0a7a2a" stroke-width="0.4" stroke-linejoin="round"/>
<polygon points="38.5,460.7 38.2,457.4 173.3,497.8 173.2,501.3" fill="#e8102a" stroke="#e8102a" stroke-width="0.4" stroke-linejoin="round"/>
<polygon points="37.5,461.7 37.2,458.3 172.6,498.9 172.5,502.4" fill="#000000" stroke="#000000" stroke-width="0.4" stroke-linejoin="round"/>
<polygon points="36.6,462.7 36.3,459.3 171.8,500.1 171.7,503.6" fill="#b020f0" stroke="#b020f0" stroke-width="0.4" stroke-linejoin="round"/>
<polygon points="35.6,463.7 35.3,460.3 171.1,501.2 171.0,504.7" fill="#3030d8" stroke="#3030d8" stroke-width="0.4" stroke-linejoin="round"/>
<polygon points="34.6,464.7 34.3,461.3 170.4,502.4 170.3,505.9" fill="#2898a0" stroke="#2898a0" stroke-width="0.4" stroke-linejoin="round"/>
<polygon points="33.6,465.7 33.3,462.3 169.6,503.5 169.6,507.0" fill="#b07830" stroke="#b07830" stroke-width="0.4" stroke-linejoin="round"/>
<polygon points="32.7,466.7 32.4,463.3 168.9,504.7 168.8,508.2" fill="#788828" stroke="#788828" stroke-width="0.4" stroke-linejoin="round"/>
<polygon points="31.7,467.7 31.4,464.3 168.1,505.8 168.1,509.3" fill="#1c9898" stroke="#1c9898" stroke-width="0.4" stroke-linejoin="round"/>
<polygon points="30.7,468.7 30.4,465.3 167.4,507.0 167.3,510.5" fill="#38a040" stroke="#38a040" stroke-width="0.4" stroke-linejoin="round"/>
<polygon points="29.7,469.7 29.4,466.3 166.6,508.2 166.6,511.7" fill="#b01838" stroke="#b01838" stroke-width="0.4" stroke-linejoin="round"/>
<polygon points="28.7,470.7 28.4,467.3 165.9,509.4 165.8,512.9" fill="#a020e0" stroke="#a020e0" stroke-width="0.4" stroke-linejoin="round"/>
<polygon points="27.7,471.8 27.4,468.3 165.1,510.5 165.1,514.1" fill="#8f7c58" stroke="#8f7c58" stroke-width="0.4" stroke-linejoin="round"/>
<polygon points="26.7,472.8 26.4,469.3 164.4,511.7 164.3,515.3" fill="#2070c0" stroke="#2070c0" stroke-width="0.4" stroke-linejoin="round"/>
<polygon points="25.7,473.8 25.4,470.4 163.6,512.9 163.6,516.4" fill="#7f9026" stroke="#7f9026" stroke-width="0.4" stroke-linejoin="round"/>
<polygon points="24.7,474.9 24.3,471.4 162.8,514.1 162.8,517.7" fill="#1890a8" stroke="#1890a8" stroke-width="0.4" stroke-linejoin="round"/>
<polygon points="23.7,475.9 23.3,472.4 162.1,515.3 162.0,518.9" fill="#0a7a2a" stroke="#0a7a2a" stroke-width="0.4" stroke-linejoin="round"/>
<polygon points="22.6,476.9 22.3,473.5 161.3,516.6 161.3,520.1" fill="#e8102a" stroke="#e8102a" stroke-width="0.4" stroke-linejoin="round"/>
<polygon points="21.6,478.0 21.3,474.5 160.5,517.8 160.5,521.3" fill="#000000" stroke="#000000" stroke-width="0.4" stroke-linejoin="round"/>
<line x1="21.6" y1="478.0" x2="160.5" y2="521.3" stroke="#000" stroke-width="1.1" />
<line x1="40.4" y1="483.9" x2="36.3" y2="489.1" stroke="#000" stroke-width="1.1" />
<line x1="64.1" y1="491.2" x2="59.9" y2="496.6" stroke="#000" stroke-width="1.1" />
<line x1="88.6" y1="498.9" x2="84.4" y2="504.4" stroke="#000" stroke-width="1.1" />
<line x1="114.2" y1="506.9" x2="109.8" y2="512.5" stroke="#000" stroke-width="1.1" />
<line x1="140.7" y1="515.1" x2="136.3" y2="521.0" stroke="#000" stroke-width="1.1" />
<line x1="28.9" y1="480.3" x2="26.7" y2="483.1" stroke="#000" stroke-width="1.1" />
<line x1="52.1" y1="487.5" x2="49.9" y2="490.4" stroke="#000" stroke-width="1.1" />
<line x1="76.2" y1="495.0" x2="74.0" y2="498.0" stroke="#000" stroke-width="1.1" />
<line x1="101.3" y1="502.8" x2="99.0" y2="505.9" stroke="#000" stroke-width="1.1" />
<line x1="127.3" y1="511.0" x2="124.9" y2="514.0" stroke="#000" stroke-width="1.1" />
<line x1="154.4" y1="519.4" x2="152.0" y2="522.6" stroke="#000" stroke-width="1.1" />
<text transform="translate(32.6 497.6) rotate(-58.0) scale(1.000 0.900)" y="2.6" font-size="8" font-weight="bold" font-style="normal" text-anchor="middle" fill="#000" >450</text>
<text transform="translate(56.5 506.5) rotate(-58.0) scale(1.000 0.900)" y="2.6" font-size="8" font-weight="bold" font-style="normal" text-anchor="middle" fill="#000" >500</text>
<text transform="translate(82.7 514.7) rotate(-58.0) scale(1.000 0.900)" y="2.6" font-size="8" font-weight="bold" font-style="normal" text-anchor="middle" fill="#000" >550</text>
<text transform="translate(108.0 523.8) rotate(-58.0) scale(1.000 0.900)" y="2.6" font-size="8" font-weight="bold" font-style="normal" text-anchor="middle" fill="#000" >600</text>
<text transform="translate(135.6 532.0) rotate(-58.0) scale(1.000 0.900)" y="2.6" font-size="8" font-weight="bold" font-style="normal" text-anchor="middle" fill="#000" >650</text>
<text transform="translate(67.4 524.8) rotate(20.4) skewX(-25.0) scale(0.960 1.000)" y="3.8" font-size="11.5" font-weight="bold" font-style="normal" text-anchor="middle" fill="#000" stroke="#000" stroke-width="0.25">Wavelength (nm)</text>
<line x1="160.5" y1="521.3" x2="212.7" y2="439.0" stroke="#000" stroke-width="1.1" />
<line x1="166.6" y1="511.7" x2="174.3" y2="513.4" stroke="#000" stroke-width="1.1" />
<line x1="172.4" y1="502.5" x2="180.1" y2="504.2" stroke="#000" stroke-width="1.1" />
<line x1="178.1" y1="493.6" x2="185.6" y2="495.3" stroke="#000" stroke-width="1.1" />
<line x1="183.5" y1="485.0" x2="191.0" y2="486.6" stroke="#000" stroke-width="1.1" />
<line x1="188.8" y1="476.7" x2="196.2" y2="478.3" stroke="#000" stroke-width="1.1" />
<line x1="193.9" y1="468.6" x2="201.2" y2="470.3" stroke="#000" stroke-width="1.1" />
<line x1="198.8" y1="460.9" x2="206.0" y2="462.5" stroke="#000" stroke-width="1.1" />
<line x1="203.6" y1="453.4" x2="210.7" y2="455.0" stroke="#000" stroke-width="1.1" />
<line x1="208.2" y1="446.2" x2="215.3" y2="447.8" stroke="#000" stroke-width="1.1" />
<line x1="212.6" y1="439.1" x2="219.6" y2="440.7" stroke="#000" stroke-width="1.1" />
<line x1="163.6" y1="516.5" x2="167.9" y2="517.4" stroke="#000" stroke-width="1.1" />
<line x1="169.5" y1="507.0" x2="173.9" y2="508.0" stroke="#000" stroke-width="1.1" />
<line x1="175.3" y1="498.0" x2="179.6" y2="498.9" stroke="#000" stroke-width="1.1" />
<line x1="180.8" y1="489.2" x2="185.1" y2="490.2" stroke="#000" stroke-width="1.1" />
<line x1="186.2" y1="480.8" x2="190.4" y2="481.7" stroke="#000" stroke-width="1.1" />
<line x1="191.4" y1="472.6" x2="195.5" y2="473.5" stroke="#000" stroke-width="1.1" />
<line x1="196.4" y1="464.7" x2="200.5" y2="465.7" stroke="#000" stroke-width="1.1" />
<line x1="201.2" y1="457.1" x2="205.3" y2="458.0" stroke="#000" stroke-width="1.1" />
<line x1="205.9" y1="449.8" x2="209.9" y2="450.7" stroke="#000" stroke-width="1.1" />
<line x1="210.4" y1="442.6" x2="214.4" y2="443.5" stroke="#000" stroke-width="1.1" />
<text transform="translate(191.0 524.8) rotate(8.0) scale(1.100 0.850)" y="2.6" font-size="8" font-weight="bold" font-style="italic" text-anchor="middle" fill="#000" stroke="#000" stroke-width="0.25">5</text>
<text transform="translate(200.0 516.2) rotate(8.0) scale(1.100 0.850)" y="2.6" font-size="8" font-weight="bold" font-style="italic" text-anchor="middle" fill="#000" stroke="#000" stroke-width="0.25">10</text>
<text transform="translate(206.3 506.5) rotate(8.0) scale(1.100 0.850)" y="2.6" font-size="8" font-weight="bold" font-style="italic" text-anchor="middle" fill="#000" stroke="#000" stroke-width="0.25">15</text>
<text transform="translate(210.9 497.1) rotate(8.0) scale(1.100 0.850)" y="2.6" font-size="8" font-weight="bold" font-style="italic" text-anchor="middle" fill="#000" stroke="#000" stroke-width="0.25">20</text>
<text transform="translate(214.5 488.7) rotate(8.0) scale(1.100 0.850)" y="2.6" font-size="8" font-weight="bold" font-style="italic" text-anchor="middle" fill="#000" stroke="#000" stroke-width="0.25">25</text>
<text transform="translate(219.0 480.3) rotate(8.0) scale(1.100 0.850)" y="2.6" font-size="8" font-weight="bold" font-style="italic" text-anchor="middle" fill="#000" stroke="#000" stroke-width="0.25">30</text>
<text transform="translate(223.6 472.2) rotate(8.0) scale(1.100 0.850)" y="2.6" font-size="8" font-weight="bold" font-style="italic" text-anchor="middle" fill="#000" stroke="#000" stroke-width="0.25">35</text>
<text transform="translate(228.7 463.8) rotate(8.0) scale(1.100 0.850)" y="2.6" font-size="8" font-weight="bold" font-style="italic" text-anchor="middle" fill="#000" stroke="#000" stroke-width="0.25">40</text>
<text transform="translate(234.3 456.1) rotate(8.0) scale(1.100 0.850)" y="2.6" font-size="8" font-weight="bold" font-style="italic" text-anchor="middle" fill="#000" stroke="#000" stroke-width="0.25">45</text>
<text transform="translate(238.0 448.5) rotate(8.0) scale(1.100 0.850)" y="2.6" font-size="8" font-weight="bold" font-style="italic" text-anchor="middle" fill="#000" stroke="#000" stroke-width="0.25">50</text>
<text transform="translate(232.8 494.5) rotate(-53.0) scale(0.680 1.000)" y="4.1" font-size="12.5" font-weight="bold" font-style="normal" text-anchor="middle" fill="#000" >Time (ns)</text>
<line x1="212.7" y1="439.0" x2="224.0" y2="311.7" stroke="#000" stroke-width="1.1" />
<line x1="212.7" y1="439.0" x2="220.1" y2="437.9" stroke="#000" stroke-width="1.1" />
<line x1="214.1" y1="422.7" x2="221.6" y2="421.5" stroke="#000" stroke-width="1.1" />
<line x1="215.6" y1="406.4" x2="223.0" y2="405.2" stroke="#000" stroke-width="1.1" />
<line x1="217.0" y1="390.0" x2="224.5" y2="388.9" stroke="#000" stroke-width="1.1" />
<line x1="218.5" y1="373.7" x2="225.9" y2="372.6" stroke="#000" stroke-width="1.1" />
<line x1="219.9" y1="357.4" x2="227.4" y2="356.3" stroke="#000" stroke-width="1.1" />
<line x1="221.4" y1="341.1" x2="228.8" y2="339.9" stroke="#000" stroke-width="1.1" />
<line x1="222.8" y1="324.8" x2="230.3" y2="323.6" stroke="#000" stroke-width="1.1" />
<line x1="213.4" y1="430.8" x2="217.4" y2="430.2" stroke="#000" stroke-width="1.1" />
<line x1="214.9" y1="414.5" x2="218.8" y2="413.9" stroke="#000" stroke-width="1.1" />
<line x1="216.3" y1="398.2" x2="220.3" y2="397.6" stroke="#000" stroke-width="1.1" />
<line x1="217.8" y1="381.9" x2="221.7" y2="381.3" stroke="#000" stroke-width="1.1" />
<line x1="219.2" y1="365.6" x2="223.2" y2="364.9" stroke="#000" stroke-width="1.1" />
<line x1="220.7" y1="349.2" x2="224.6" y2="348.6" stroke="#000" stroke-width="1.1" />
<line x1="222.1" y1="332.9" x2="226.1" y2="332.3" stroke="#000" stroke-width="1.1" />
<line x1="223.6" y1="316.6" x2="227.5" y2="316.0" stroke="#000" stroke-width="1.1" />
<text transform="translate(227.5 443.7) rotate(10.0)" y="2.6" font-size="8" font-weight="bold" font-style="normal" text-anchor="middle" fill="#000" >0</text>
<text transform="translate(233.0 430.0) rotate(10.0)" y="2.6" font-size="8" font-weight="bold" font-style="normal" text-anchor="middle" fill="#000" >100</text>
<text transform="translate(234.8 414.0) rotate(10.0)" y="2.6" font-size="8" font-weight="bold" font-style="normal" text-anchor="middle" fill="#000" >200</text>
<text transform="translate(236.4 397.7) rotate(10.0)" y="2.6" font-size="8" font-weight="bold" font-style="normal" text-anchor="middle" fill="#000" >300</text>
<text transform="translate(238.0 381.0) rotate(10.0)" y="2.6" font-size="8" font-weight="bold" font-style="normal" text-anchor="middle" fill="#000" >400</text>
<text transform="translate(240.0 363.4) rotate(10.0)" y="2.6" font-size="8" font-weight="bold" font-style="normal" text-anchor="middle" fill="#000" >500</text>
<text transform="translate(242.0 345.3) rotate(10.0)" y="2.6" font-size="8" font-weight="bold" font-style="normal" text-anchor="middle" fill="#000" >600</text>
<text transform="translate(243.2 325.7) rotate(10.0)" y="2.6" font-size="8" font-weight="bold" font-style="normal" text-anchor="middle" fill="#000" >700</text>
<text transform="translate(256.0 388.0) rotate(-80.0)" y="3.0" font-size="9" font-weight="bold" font-style="normal" text-anchor="middle" fill="#000" >Intensity (a.u)</text>
<text transform="translate(122.9 560.0)" y="3.1" font-size="9.5" text-anchor="middle">(<tspan font-weight="normal">c</tspan>)</text>
<text transform="translate(149.8 332.8)" y="3.5" font-size="10.6" font-weight="normal" font-style="normal" text-anchor="start" fill="#000" >498 nm</text>
<text transform="translate(142.5 381.0)" y="3.5" font-size="10.6" font-weight="normal" font-style="normal" text-anchor="start" fill="#000" >50 nm</text>
<text transform="translate(142.0 394.0)" y="3.5" font-size="10.6" font-weight="normal" font-style="normal" text-anchor="start" fill="#000" >FWHM</text>
<line x1="141.0" y1="331.0" x2="113.9" y2="343.5" stroke="#000" stroke-width="1.6" />
<polygon points="108.5,346.0 113.7,340.5 116.0,345.6" fill="#000" stroke="none" stroke-width="0.5" stroke-linejoin="round"/>
<line x1="136.2" y1="386.8" x2="116.7" y2="393.9" stroke="#000" stroke-width="1.0" />
<polygon points="112.9,395.3 116.8,391.5 118.4,395.7" fill="#000" stroke="none" stroke-width="0.5" stroke-linejoin="round"/>
<line x1="114.7" y1="399.8" x2="100.9" y2="394.7" stroke="#000" stroke-width="1.0" />
<polygon points="97.6,393.5 102.5,393.2 101.1,396.9" fill="#000" stroke="none" stroke-width="0.5" stroke-linejoin="round"/>
<polygon points="118.0,401.0 114.5,397.6 113.1,401.3" fill="#000" stroke="none" stroke-width="0.5" stroke-linejoin="round"/>
<rect x="326.9" y="495.3" width="22.7" height="7.3" fill="#0a8a1a"/>
<polyline fill="none" stroke="#2ca02c" stroke-width="0.9" stroke-linejoin="round" points="349.6,496.3 350.6,496.0 351.6,496.0 352.6,495.8 353.6,495.9 354.6,496.3 355.6,496.5 356.7,496.3 357.7,496.7 358.7,496.7 359.7,496.3 360.7,496.4 361.7,496.0 362.7,496.0 363.7,495.8 364.7,496.0 365.8,495.9 366.8,495.9 367.8,496.2 368.8,496.3 369.8,496.5 370.8,496.8 371.8,496.4 372.8,496.3 373.9,496.3 374.9,496.2 375.9,495.7 376.9,495.9 377.9,495.8 378.9,495.9 379.9,496.1 380.9,496.2 381.9,496.6 383.0,496.4 384.0,496.5 385.0,496.2 386.0,496.0 387.0,496.2 388.0,496.1 389.0,496.0 390.0,495.7 391.0,496.1 392.1,496.2 393.1,496.5 394.1,496.6 395.1,496.6 396.1,496.6 397.1,496.3 398.1,496.1 399.1,495.8 400.2,495.8 401.2,495.7 402.2,495.8 403.2,495.8 404.2,496.2 405.2,496.6 406.2,496.4 407.2,496.4 408.2,496.3 409.3,496.3 410.3,496.1 411.3,496.1 412.3,495.7 413.3,495.8 414.3,496.0 415.3,496.3 416.3,496.1 417.3,496.2 418.4,496.8 419.4,496.4 420.4,495.9 422.4,493.5 423.6,491.7 425.2,492.6 426.5,491.7 428.1,484.4 429.7,466.2 431.3,447.9 432.9,437.3 434.1,441.9 434.9,444.9 436.2,434.3 437.8,417.6 439.4,399.4 440.6,386.0 441.4,411.5 442.2,495.9 442.6,495.9 443.4,426.7 445.1,369.0 446.7,349.2 447.9,372.0 448.7,495.9 449.1,495.9 449.7,411.5 451.1,326.2 452.7,375.1 454.4,495.9 454.8,495.9 455.4,411.5 456.8,358.7 458.4,369.0 460.0,396.3 461.7,432.1 463.3,401.5 464.3,457.1 465.3,495.3 466.9,496.2 467.9,496.3 468.9,496.6 469.9,496.6 471.0,496.4 472.0,496.3 473.0,496.7 474.0,496.3 475.0,496.4 476.0,496.0 477.0,496.1 478.0,495.7 479.0,495.7 480.1,496.0 481.1,495.8 482.1,496.3 483.1,496.5 484.1,496.4 485.1,496.7 486.1,496.7 487.1,496.5 488.2,495.5 489.2,495.6 490.2,495.5 491.2,495.0 492.2,495.1 493.2,495.7 494.2,495.7 495.2,496.1 496.2,496.1 497.3,496.2 498.3,496.3 499.3,496.4 500.3,496.5 501.3,496.5 502.3,496.3 503.3,496.4 504.3,496.3 505.3,496.0 506.4,496.2 507.4,496.0 508.4,495.7 509.4,495.9 510.4,496.0 511.4,496.4 512.4,496.3 513.4,496.3 514.5,496.7 515.5,496.5 516.5,496.5 517.5,496.7 518.5,496.3 519.5,496.3 520.5,496.0 521.5,496.1 522.5,495.8 523.6,495.8 524.6,496.2 525.6,496.2 526.6,496.1 527.2,495.6 527.6,502.6"/>
<rect x="325.3" y="305.7" width="202.3" height="196.9" fill="none" stroke="#000" stroke-width="1.1"/>
<line x1="325.3" y1="502.6" x2="325.3" y2="506.6" stroke="#000" stroke-width="1.1" />
<line x1="325.3" y1="305.7" x2="325.3" y2="309.7" stroke="#000" stroke-width="1.1" />
<text transform="translate(325.3 515.3)" y="3.5" font-size="10.5" font-weight="bold" font-style="normal" text-anchor="middle" fill="#000" >0</text>
<line x1="345.5" y1="502.6" x2="345.5" y2="505.1" stroke="#000" stroke-width="1.1" />
<line x1="345.5" y1="305.7" x2="345.5" y2="308.2" stroke="#000" stroke-width="1.1" />
<line x1="365.8" y1="502.6" x2="365.8" y2="506.6" stroke="#000" stroke-width="1.1" />
<line x1="365.8" y1="305.7" x2="365.8" y2="309.7" stroke="#000" stroke-width="1.1" />
<text transform="translate(365.8 515.3)" y="3.5" font-size="10.5" font-weight="bold" font-style="normal" text-anchor="middle" fill="#000" >10</text>
<line x1="386.0" y1="502.6" x2="386.0" y2="505.1" stroke="#000" stroke-width="1.1" />
<line x1="386.0" y1="305.7" x2="386.0" y2="308.2" stroke="#000" stroke-width="1.1" />
<line x1="406.2" y1="502.6" x2="406.2" y2="506.6" stroke="#000" stroke-width="1.1" />
<line x1="406.2" y1="305.7" x2="406.2" y2="309.7" stroke="#000" stroke-width="1.1" />
<text transform="translate(406.2 515.3)" y="3.5" font-size="10.5" font-weight="bold" font-style="normal" text-anchor="middle" fill="#000" >20</text>
<line x1="426.5" y1="502.6" x2="426.5" y2="505.1" stroke="#000" stroke-width="1.1" />
<line x1="426.5" y1="305.7" x2="426.5" y2="308.2" stroke="#000" stroke-width="1.1" />
<line x1="446.7" y1="502.6" x2="446.7" y2="506.6" stroke="#000" stroke-width="1.1" />
<line x1="446.7" y1="305.7" x2="446.7" y2="309.7" stroke="#000" stroke-width="1.1" />
<text transform="translate(446.7 515.3)" y="3.5" font-size="10.5" font-weight="bold" font-style="normal" text-anchor="middle" fill="#000" >30</text>
<line x1="466.9" y1="502.6" x2="466.9" y2="505.1" stroke="#000" stroke-width="1.1" />
<line x1="466.9" y1="305.7" x2="466.9" y2="308.2" stroke="#000" stroke-width="1.1" />
<line x1="487.1" y1="502.6" x2="487.1" y2="506.6" stroke="#000" stroke-width="1.1" />
<line x1="487.1" y1="305.7" x2="487.1" y2="309.7" stroke="#000" stroke-width="1.1" />
<text transform="translate(487.1 515.3)" y="3.5" font-size="10.5" font-weight="bold" font-style="normal" text-anchor="middle" fill="#000" >40</text>
<line x1="507.4" y1="502.6" x2="507.4" y2="505.1" stroke="#000" stroke-width="1.1" />
<line x1="507.4" y1="305.7" x2="507.4" y2="308.2" stroke="#000" stroke-width="1.1" />
<line x1="527.6" y1="502.6" x2="527.6" y2="506.6" stroke="#000" stroke-width="1.1" />
<line x1="527.6" y1="305.7" x2="527.6" y2="309.7" stroke="#000" stroke-width="1.1" />
<text transform="translate(527.6 515.3)" y="3.5" font-size="10.5" font-weight="bold" font-style="normal" text-anchor="middle" fill="#000" >50</text>
<line x1="325.3" y1="502.6" x2="321.3" y2="502.6" stroke="#000" stroke-width="1.1" />
<line x1="527.6" y1="502.6" x2="523.6" y2="502.6" stroke="#000" stroke-width="1.1" />
<text transform="translate(318.7 502.6)" y="3.5" font-size="10.5" font-weight="bold" font-style="normal" text-anchor="end" fill="#000" >0</text>
<line x1="325.3" y1="487.4" x2="322.8" y2="487.4" stroke="#000" stroke-width="1.1" />
<line x1="527.6" y1="487.4" x2="525.1" y2="487.4" stroke="#000" stroke-width="1.1" />
<line x1="325.3" y1="472.2" x2="321.3" y2="472.2" stroke="#000" stroke-width="1.1" />
<line x1="527.6" y1="472.2" x2="523.6" y2="472.2" stroke="#000" stroke-width="1.1" />
<text transform="translate(318.7 472.2)" y="3.5" font-size="10.5" font-weight="bold" font-style="normal" text-anchor="end" fill="#000" >100</text>
<line x1="325.3" y1="457.1" x2="322.8" y2="457.1" stroke="#000" stroke-width="1.1" />
<line x1="527.6" y1="457.1" x2="525.1" y2="457.1" stroke="#000" stroke-width="1.1" />
<line x1="325.3" y1="441.9" x2="321.3" y2="441.9" stroke="#000" stroke-width="1.1" />
<line x1="527.6" y1="441.9" x2="523.6" y2="441.9" stroke="#000" stroke-width="1.1" />
<text transform="translate(318.7 441.9)" y="3.5" font-size="10.5" font-weight="bold" font-style="normal" text-anchor="end" fill="#000" >200</text>
<line x1="325.3" y1="426.7" x2="322.8" y2="426.7" stroke="#000" stroke-width="1.1" />
<line x1="527.6" y1="426.7" x2="525.1" y2="426.7" stroke="#000" stroke-width="1.1" />
<line x1="325.3" y1="411.5" x2="321.3" y2="411.5" stroke="#000" stroke-width="1.1" />
<line x1="527.6" y1="411.5" x2="523.6" y2="411.5" stroke="#000" stroke-width="1.1" />
<text transform="translate(318.7 411.5)" y="3.5" font-size="10.5" font-weight="bold" font-style="normal" text-anchor="end" fill="#000" >300</text>
<line x1="325.3" y1="396.3" x2="322.8" y2="396.3" stroke="#000" stroke-width="1.1" />
<line x1="527.6" y1="396.3" x2="525.1" y2="396.3" stroke="#000" stroke-width="1.1" />
<line x1="325.3" y1="381.1" x2="321.3" y2="381.1" stroke="#000" stroke-width="1.1" />
<line x1="527.6" y1="381.1" x2="523.6" y2="381.1" stroke="#000" stroke-width="1.1" />
<text transform="translate(318.7 381.1)" y="3.5" font-size="10.5" font-weight="bold" font-style="normal" text-anchor="end" fill="#000" >400</text>
<line x1="325.3" y1="365.9" x2="322.8" y2="365.9" stroke="#000" stroke-width="1.1" />
<line x1="527.6" y1="365.9" x2="525.1" y2="365.9" stroke="#000" stroke-width="1.1" />
<line x1="325.3" y1="350.8" x2="321.3" y2="350.8" stroke="#000" stroke-width="1.1" />
<line x1="527.6" y1="350.8" x2="523.6" y2="350.8" stroke="#000" stroke-width="1.1" />
<text transform="translate(318.7 350.8)" y="3.5" font-size="10.5" font-weight="bold" font-style="normal" text-anchor="end" fill="#000" >500</text>
<line x1="325.3" y1="335.6" x2="322.8" y2="335.6" stroke="#000" stroke-width="1.1" />
<line x1="527.6" y1="335.6" x2="525.1" y2="335.6" stroke="#000" stroke-width="1.1" />
<line x1="325.3" y1="320.4" x2="321.3" y2="320.4" stroke="#000" stroke-width="1.1" />
<line x1="527.6" y1="320.4" x2="523.6" y2="320.4" stroke="#000" stroke-width="1.1" />
<text transform="translate(318.7 320.4)" y="3.5" font-size="10.5" font-weight="bold" font-style="normal" text-anchor="end" fill="#000" >600</text>
<text transform="translate(293.5 394.5) rotate(-90.0) scale(0.980 1.000)" y="4.3" font-size="13" font-weight="bold" font-style="normal" text-anchor="middle" fill="#000" >Intensity (a.u)</text>
<text transform="translate(426.0 531.4) scale(0.950 1.000)" y="4.3" font-size="13" font-weight="bold" font-style="normal" text-anchor="middle" fill="#000" >Time (ns)</text>
<text transform="translate(412.5 556.0)" y="4.5" font-size="13.5" text-anchor="middle">(<tspan font-weight="bold">d</tspan>)</text>
<rect x="331.6" y="322" width="104.6" height="15.7" fill="#fff" stroke="#555" stroke-width="0.9"/>
<path d="M335.6 323.3 L333.4 323.6 L333.4 336.3 L335.6 336.6" stroke="#2ca02c" stroke-width="0.9" fill="none"/>
<text transform="translate(358.9 330.0)" y="3.1" font-size="9.5" font-weight="normal" font-style="normal" text-anchor="start" fill="#000" >intensity at 498 nm</text>
<text transform="translate(346.7 445.4)" y="3.2" font-size="9.8" font-weight="normal" font-style="normal" text-anchor="start" fill="#000" >Fluroscence Blink</text>
<text transform="translate(346.7 459.4)" y="3.2" font-size="9.8" font-weight="normal" font-style="normal" text-anchor="start" fill="#000" >due to rGO</text>
<line x1="408.2" y1="435.3" x2="440.8" y2="414.5" stroke="#000" stroke-width="1.4" />
<polygon points="445.0,411.8 441.3,417.2 438.5,412.8" fill="#000" stroke="none" stroke-width="0.5" stroke-linejoin="round"/>
<line x1="413.9" y1="438.8" x2="447.2" y2="417.3" stroke="#000" stroke-width="1.4" />
<polygon points="451.4,414.6 447.8,420.0 444.9,415.7" fill="#000" stroke="none" stroke-width="0.5" stroke-linejoin="round"/>
<line x1="420.9" y1="442.6" x2="452.5" y2="422.2" stroke="#000" stroke-width="1.4" />
<polygon points="456.7,419.5 453.1,424.9 450.2,420.6" fill="#000" stroke="none" stroke-width="0.5" stroke-linejoin="round"/>
</svg>
</body></html>
